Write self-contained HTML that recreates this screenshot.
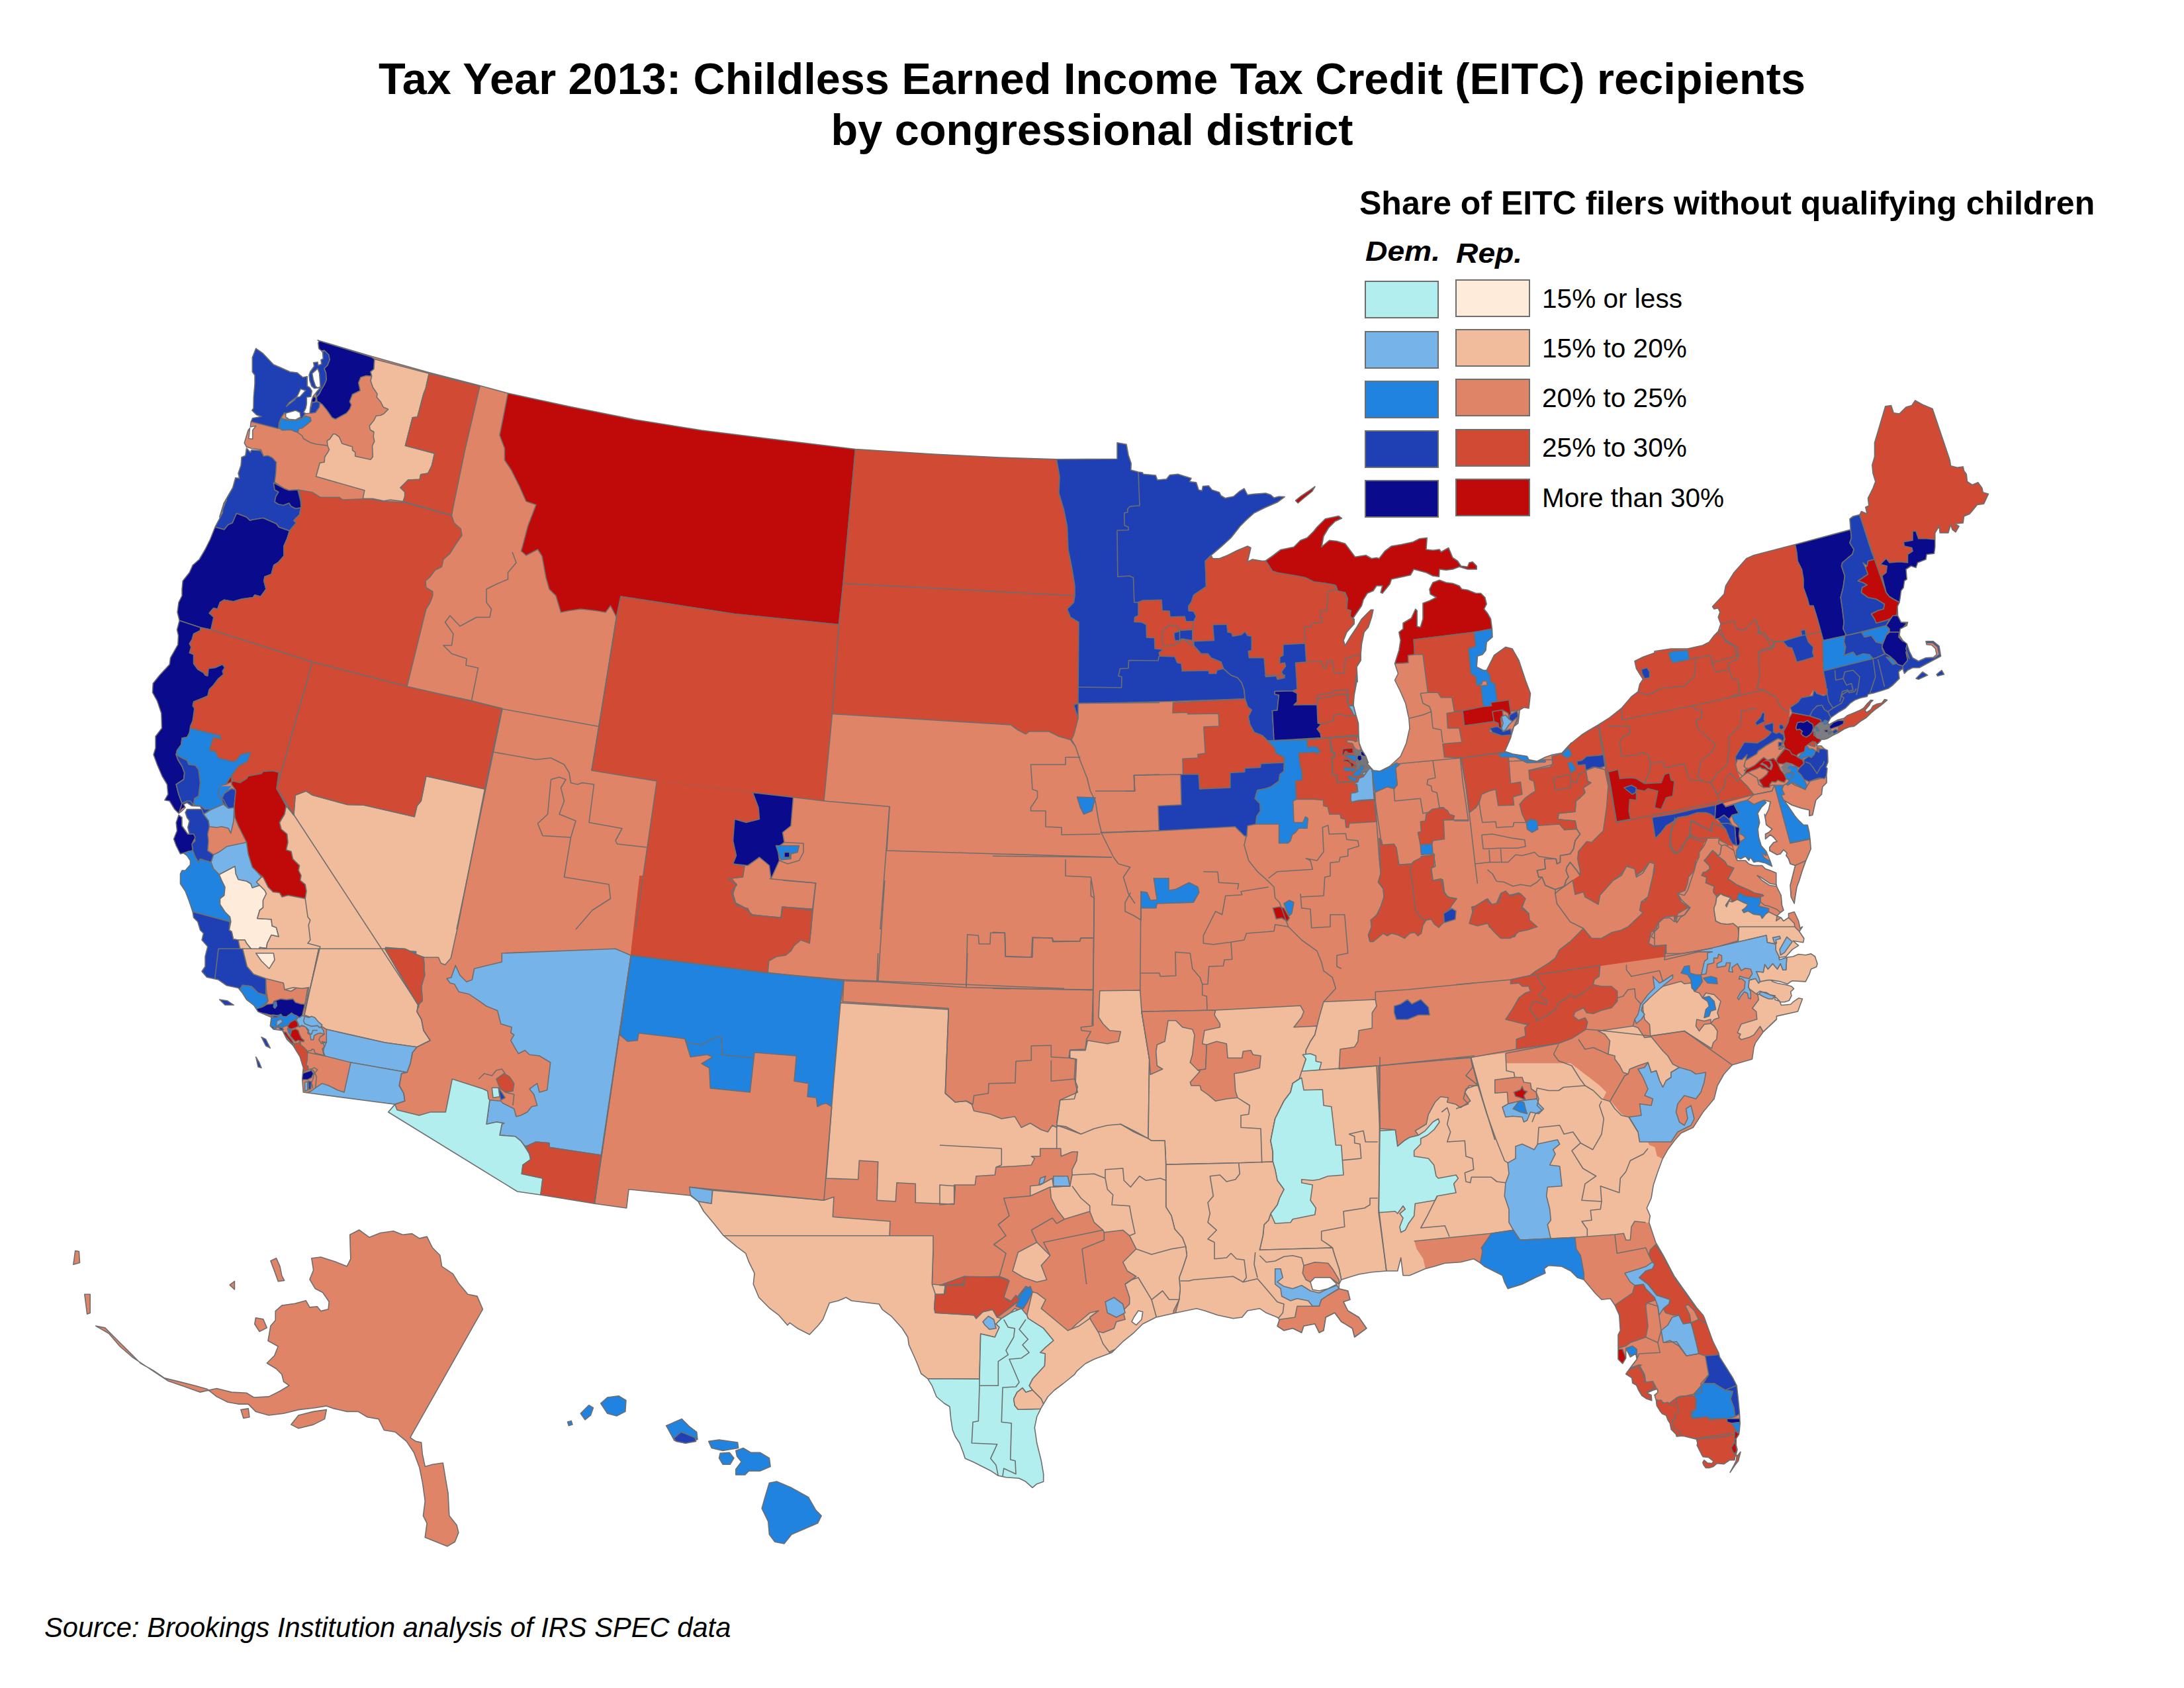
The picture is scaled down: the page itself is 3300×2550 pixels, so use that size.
<!DOCTYPE html>
<html><head><meta charset="utf-8"><title>EITC map</title>
<style>
html,body{margin:0;padding:0;background:#fff;}
body{width:3300px;height:2550px;position:relative;overflow:hidden;font-family:"Liberation Sans",sans-serif;color:#000;}
svg{position:absolute;left:0;top:0;}
.s{stroke:#6E6E6E;stroke-width:1.6;stroke-linejoin:round;}
.l{fill:none;stroke:#6E6E6E;stroke-width:1.6;stroke-linejoin:round;}
.t{position:absolute;white-space:nowrap;line-height:1;}
.title{font-weight:bold;font-size:66.67px;text-align:center;left:0;width:3300px;}
.lt{font-weight:bold;font-size:50px;}
.lh{font-weight:bold;font-style:italic;font-size:41.67px;transform:scaleX(1.11);transform-origin:0 0;}
.ll{font-size:40.6px;}
.sw{position:absolute;width:108.4px;height:53px;border:2px solid #6E6E6E;box-sizing:content-box;}
.src{font-style:italic;font-size:41.67px;}
</style></head><body>
<svg width="3300" height="2550" viewBox="0 0 3300 2550" xmlns="http://www.w3.org/2000/svg">
<defs><clipPath id="us"><polygon points="482.0,514.7 480.8,518.3 481.7,526.7 485.8,530.0 487.5,532.5 488.3,541.7 485.0,543.7 485.8,550.0 480.8,552.0 480.0,547.0 473.7,547.8 474.7,553.3 468.7,561.7 467.0,566.7 468.0,575.0 470.8,583.3 475.0,586.7 480.0,586.3 484.7,584.7 480.0,590.0 476.7,594.2 473.3,598.3 471.3,603.3 470.0,610.0 468.7,616.7 468.0,624.2 462.0,624.7 458.7,623.0 462.0,616.7 463.3,610.0 463.3,600.0 469.7,599.2 471.3,590.8 468.3,585.8 464.3,583.3 464.2,568.7 457.5,570.0 449.2,563.0 438.3,561.7 423.3,555.0 413.3,550.8 396.7,533.3 386.7,526.3 381.3,540.0 381.3,561.7 385.0,566.7 385.0,580.0 383.3,600.0 383.0,616.7 380.8,620.0 383.3,622.5 387.5,626.7 395.0,629.2 381.7,631.7 379.2,637.0 378.3,645.0 386.7,643.3 381.7,650.0 381.7,663.3 375.8,662.5 377.5,646.7 375.0,650.0 369.2,669.2 372.5,675.0 380.0,677.5 394.2,679.2 396.7,685.8 394.2,680.8 380.0,679.7 378.3,683.3 372.5,677.0 370.8,688.3 365.0,690.8 364.2,702.5 360.0,715.0 361.7,722.5 355.8,721.7 351.7,736.7 338.3,760.0 331.7,781.0 342.5,755.0 337.0,765.0 336.2,775.0 325.0,796.2 317.5,815.0 310.0,830.0 301.2,845.0 291.2,853.8 286.2,865.0 276.2,877.5 275.0,890.0 275.0,900.0 270.0,910.0 268.0,925.0 271.2,937.5 267.5,951.2 269.5,960.0 268.8,973.8 257.5,993.8 256.2,1003.8 241.2,1020.0 231.2,1032.5 230.5,1046.2 237.5,1058.8 243.8,1077.5 244.5,1100.0 235.0,1112.5 235.0,1130.0 232.0,1140.0 237.5,1155.0 245.0,1172.5 252.5,1185.0 253.8,1200.0 248.8,1208.8 256.2,1210.0 263.8,1222.5 270.0,1228.8 275.0,1225.0 280.0,1220.0 277.5,1215.0 282.5,1212.5 286.2,1215.0 290.0,1217.5 302.5,1218.0 305.0,1222.5 282.5,1222.5 280.0,1227.5 282.5,1235.0 286.2,1240.0 283.8,1250.0 286.2,1260.0 283.8,1260.0 275.0,1247.5 275.0,1235.0 270.0,1231.2 266.2,1242.5 267.5,1255.0 262.5,1267.5 266.2,1277.5 272.5,1290.0 277.5,1288.8 282.5,1292.5 287.5,1300.0 287.5,1306.2 280.0,1315.0 275.0,1315.0 272.5,1320.0 272.5,1335.0 280.0,1346.2 286.2,1362.5 291.2,1377.5 292.5,1386.2 298.8,1392.5 302.5,1405.0 307.5,1410.0 305.0,1420.0 313.8,1430.0 310.0,1445.0 310.0,1460.0 305.0,1467.5 312.5,1476.2 330.0,1480.0 342.5,1488.8 360.0,1492.5 366.2,1500.0 372.5,1510.0 383.3,1518.3 390.0,1528.3 410.0,1536.7 408.3,1550.0 413.3,1555.0 426.7,1556.7 433.3,1570.0 443.3,1580.0 453.3,1596.7 458.3,1613.3 456.7,1630.0 458.3,1650.0 596.7,1668.3 586.7,1680.0 781.7,1800.0 816.7,1805.0 898.3,1818.3 946.7,1825.0 950.0,1796.7 1043.3,1806.0 1055.0,1815.0 1063.3,1830.0 1080.0,1850.0 1093.3,1866.7 1113.3,1883.3 1126.7,1893.3 1131.7,1906.7 1140.0,1923.3 1138.3,1940.0 1146.7,1960.0 1163.3,1976.7 1176.7,1986.7 1190.0,2002.0 1193.3,1998.3 1205.0,2006.7 1223.3,2016.0 1236.7,2001.7 1243.3,1993.3 1253.3,1968.3 1266.7,1965.0 1278.3,1960.0 1286.7,1965.0 1313.3,1968.3 1328.3,1970.0 1333.3,1978.3 1346.7,1988.3 1363.3,2006.7 1371.7,2020.0 1373.3,2031.7 1381.7,2050.0 1386.7,2061.7 1391.7,2075.0 1401.7,2082.7 1408.3,2093.3 1415.0,2110.0 1426.7,2120.0 1435.0,2125.0 1436.7,2143.3 1439.3,2160.0 1443.3,2170.0 1450.0,2180.0 1455.0,2193.3 1458.3,2203.3 1470.0,2208.3 1483.3,2215.0 1496.7,2221.7 1508.3,2229.3 1520.0,2231.7 1540.0,2233.3 1550.0,2238.3 1560.0,2247.3 1566.7,2241.7 1576.7,2238.3 1576.7,2226.7 1573.3,2206.7 1566.7,2180.0 1563.3,2156.7 1566.7,2140.0 1573.3,2126.7 1583.3,2110.0 1593.3,2100.0 1606.7,2090.0 1623.3,2076.7 1626.7,2071.7 1640.0,2060.0 1653.3,2053.3 1680.0,2043.3 1696.7,2026.7 1713.3,2013.3 1726.7,2000.0 1746.7,1990.0 1776.7,1983.3 1808.0,1976.7 1808.0,1976.7 1820.0,1980.0 1840.0,1986.7 1863.3,1991.7 1876.7,1990.0 1885.0,1980.0 1903.3,1976.7 1913.3,1983.3 1930.0,1990.0 1933.3,1993.3 1930.0,2003.3 1940.0,2010.0 1953.3,2006.7 1966.7,2013.3 1970.0,2003.3 1986.7,2000.0 1993.3,2013.3 2000.0,2010.0 2003.3,1990.0 2016.7,1983.3 2026.7,1996.7 2043.3,2006.7 2046.7,2020.0 2065.0,2006.7 2053.3,1990.0 2036.7,1980.0 2030.0,1966.7 2040.0,1963.3 2036.7,1950.0 2023.3,1946.7 2023.3,1940.0 2026.7,1933.3 2036.7,1930.0 2053.3,1925.0 2073.3,1921.7 2095.0,1920.0 2111.7,1920.0 2116.7,1900.0 2120.0,1926.7 2130.0,1926.7 2153.3,1916.7 2166.7,1913.3 2183.3,1908.3 2206.7,1906.7 2226.7,1901.7 2235.0,1906.7 2243.3,1913.3 2256.7,1920.0 2270.0,1926.7 2273.3,1936.7 2278.3,1946.7 2300.0,1940.0 2320.0,1930.0 2335.0,1923.3 2333.3,1916.7 2340.0,1911.7 2360.0,1913.3 2373.3,1920.0 2383.3,1930.0 2393.3,1933.3 2410.0,1953.3 2420.0,1963.3 2433.3,1961.7 2440.0,1971.7 2446.7,1986.7 2448.3,2010.0 2445.0,2016.7 2445.0,2053.3 2451.7,2060.0 2456.7,2051.7 2456.7,2036.7 2463.3,2050.0 2471.7,2045.0 2473.3,2053.3 2466.7,2061.7 2458.3,2073.3 2456.7,2075.8 2465.8,2081.7 2466.7,2089.2 2472.5,2092.5 2475.8,2100.0 2480.8,2108.3 2488.3,2113.3 2495.8,2115.8 2495.0,2107.5 2488.3,2104.2 2498.3,2100.0 2504.2,2098.3 2505.0,2103.3 2500.0,2107.5 2502.5,2115.8 2503.3,2123.3 2508.3,2131.7 2511.7,2135.8 2517.5,2138.3 2520.0,2145.0 2523.3,2150.0 2525.0,2159.2 2532.5,2166.7 2533.3,2170.0 2543.3,2169.2 2563.3,2174.2 2565.0,2180.0 2564.2,2183.3 2568.3,2191.7 2571.7,2198.3 2573.3,2200.8 2581.7,2201.7 2589.2,2207.5 2586.7,2210.8 2580.0,2210.0 2575.0,2205.8 2572.8,2209.2 2574.2,2213.3 2577.5,2217.5 2582.5,2217.5 2588.3,2215.8 2594.2,2210.8 2605.0,2211.7 2613.3,2205.8 2620.8,2205.8 2621.7,2200.0 2625.0,2199.2 2630.0,2193.3 2628.3,2200.0 2626.7,2206.7 2621.7,2213.3 2614.2,2224.2 2619.2,2215.0 2623.3,2206.7 2624.2,2200.0 2623.3,2196.7 2625.0,2190.0 2623.3,2183.3 2623.3,2173.3 2627.5,2166.7 2628.3,2160.0 2629.2,2150.0 2628.3,2133.3 2626.7,2116.7 2624.2,2093.3 2618.3,2081.7 2610.0,2068.3 2598.3,2050.0 2596.7,2043.3 2588.3,2026.7 2575.0,1990.0 2573.3,1986.7 2563.3,1975.0 2546.7,1951.7 2530.0,1928.3 2513.3,1896.7 2501.7,1876.7 2491.7,1846.7 2493.3,1836.7 2488.3,1825.0 2495.0,1810.0 2498.3,1790.0 2505.0,1770.0 2511.7,1751.7 2520.0,1736.7 2530.0,1723.3 2540.0,1711.7 2558.3,1703.3 2573.3,1680.0 2590.0,1660.0 2595.0,1640.0 2595.0,1640.0 2605.0,1622.5 2617.5,1608.8 2647.5,1600.0 2650.0,1582.5 2652.4,1575.4 2664.3,1558.8 2684.4,1539.8 2684.4,1535.1 2716.4,1528.0 2723.5,1509.0 2717.6,1507.8 2709.3,1513.7 2705.7,1517.3 2691.5,1518.5 2689.1,1512.6 2682.0,1510.2 2682.0,1504.3 2674.9,1503.1 2669.0,1499.5 2660.7,1498.3 2656.0,1503.1 2654.8,1500.7 2659.5,1497.2 2669.0,1500.7 2678.5,1504.3 2683.2,1506.6 2690.3,1513.7 2696.3,1513.7 2703.4,1511.4 2706.9,1504.3 2705.7,1498.3 2710.5,1493.6 2706.9,1490.0 2698.6,1487.7 2685.6,1485.3 2678.5,1482.9 2676.1,1480.6 2690.3,1482.9 2701.0,1486.5 2705.7,1482.9 2708.1,1481.8 2728.2,1482.9 2734.2,1471.1 2736.5,1464.0 2744.8,1460.4 2746.0,1455.7 2742.5,1445.0 2736.5,1440.9 2728.2,1442.7 2717.6,1441.5 2709.3,1445.0 2699.8,1446.2 2689.1,1449.8 2688.0,1446.8 2698.6,1445.0 2708.1,1434.4 2717.6,1428.4 2709.3,1421.3 2724.7,1423.7 2725.9,1417.8 2718.8,1407.1 2723.5,1400.0 2720.0,1402.5 2717.5,1391.2 2711.2,1377.5 2702.5,1380.0 2702.5,1386.2 2695.0,1391.2 2691.2,1386.2 2685.0,1383.8 2690.0,1378.8 2695.0,1375.0 2692.5,1367.5 2691.2,1352.5 2685.0,1340.0 2683.8,1336.2 2683.8,1318.8 2675.0,1315.0 2667.5,1312.5 2662.5,1307.5 2650.0,1307.5 2642.5,1305.0 2637.5,1300.0 2625.0,1300.0 2623.1,1292.5 2623.8,1295.0 2630.0,1297.5 2637.5,1293.8 2642.5,1300.0 2645.0,1295.0 2650.0,1302.5 2656.2,1301.2 2667.5,1303.8 2677.5,1308.8 2675.0,1301.2 2668.8,1286.2 2661.2,1277.5 2657.5,1265.0 2656.2,1252.5 2658.8,1242.5 2656.2,1230.0 2655.0,1230.0 2661.2,1220.0 2668.8,1212.5 2665.0,1208.8 2675.0,1211.2 2672.5,1222.5 2667.5,1232.5 2666.2,1230.0 2667.5,1237.5 2668.8,1246.2 2677.5,1252.5 2672.5,1257.5 2667.5,1260.0 2667.5,1267.5 2675.0,1261.2 2680.0,1265.0 2685.0,1271.2 2680.0,1272.5 2673.8,1280.0 2673.8,1285.0 2685.0,1291.2 2690.0,1290.0 2695.0,1283.8 2700.0,1288.8 2698.8,1292.5 2702.5,1297.5 2705.0,1305.0 2712.5,1307.5 2710.0,1317.5 2705.0,1337.5 2706.2,1355.0 2711.2,1365.0 2712.5,1355.0 2715.0,1340.0 2718.8,1330.0 2722.5,1317.5 2728.8,1300.0 2736.2,1282.5 2735.0,1267.5 2733.8,1257.5 2731.2,1246.2 2725.0,1246.2 2716.2,1237.5 2710.0,1230.0 2711.2,1231.2 2700.0,1215.0 2695.0,1208.8 2707.5,1216.2 2722.5,1221.2 2733.8,1223.8 2733.8,1232.5 2738.8,1231.2 2743.8,1208.8 2752.5,1200.0 2753.8,1188.8 2760.0,1182.5 2760.0,1173.8 2759.8,1171.9 2760.9,1160.9 2759.2,1158.7 2762.0,1151.0 2761.4,1133.4 2756.5,1131.2 2752.1,1126.8 2744.4,1126.8 2745.5,1124.6 2751.0,1119.1 2752.1,1116.9 2756.5,1116.9 2760.9,1115.8 2768.6,1111.4 2777.4,1107.0 2786.2,1101.5 2793.8,1098.2 2801.5,1097.1 2804.8,1094.9 2811.4,1089.5 2820.2,1084.0 2826.8,1077.4 2833.4,1071.9 2841.1,1066.4 2846.6,1062.0 2851.5,1057.6 2847.7,1056.5 2843.3,1062.0 2835.6,1063.6 2830.1,1066.4 2826.8,1071.9 2820.2,1076.3 2818.0,1073.0 2824.6,1065.3 2826.8,1060.9 2830.1,1058.1 2826.8,1057.6 2821.3,1063.1 2815.8,1069.7 2810.3,1073.0 2802.6,1076.3 2791.6,1080.7 2786.2,1085.1 2777.4,1087.3 2769.7,1091.1 2763.1,1094.9 2762.0,1091.6 2766.4,1084.0 2777.4,1076.3 2788.4,1069.7 2796.0,1062.0 2802.6,1057.6 2811.4,1054.3 2821.3,1052.1 2822.4,1048.8 2832.3,1046.6 2843.3,1043.3 2853.2,1040.0 2860.0,1035.0 2867.5,1027.5 2870.0,1025.0 2868.8,1015.0 2875.0,1010.0 2877.5,1017.5 2882.5,1012.5 2890.0,1008.8 2900.0,1008.8 2932.5,991.2 2930.0,976.2 2921.2,968.8 2910.0,968.8 2911.2,973.8 2918.8,974.5 2924.5,980.0 2926.2,988.8 2921.2,993.0 2910.0,993.8 2898.8,998.8 2890.0,993.8 2885.0,983.8 2881.2,972.5 2875.0,967.5 2870.0,960.0 2871.2,950.0 2881.2,945.0 2882.5,940.0 2872.5,940.0 2867.5,930.0 2867.0,916.2 2870.0,910.0 2871.2,902.5 2872.5,892.5 2876.2,887.5 2877.5,877.5 2881.2,875.0 2880.0,860.0 2887.5,855.0 2895.0,857.5 2897.5,850.0 2910.0,845.0 2911.2,837.5 2922.5,836.2 2923.8,826.2 2923.8,805.0 2930.0,795.0 2931.2,805.0 2943.8,805.0 2947.5,792.5 2950.0,800.0 2955.0,803.8 2960.0,795.0 2953.8,791.2 2966.2,790.0 2967.5,780.0 2976.2,776.2 2982.5,768.8 2987.5,762.5 2997.5,761.2 3004.5,746.2 2996.2,743.8 2995.0,737.5 2988.8,728.8 2980.0,732.5 2972.5,727.5 2971.2,716.2 2967.5,711.2 2966.2,705.0 2957.5,706.2 2947.5,703.8 2946.2,695.0 2920.0,617.5 2905.0,611.2 2893.8,605.0 2888.8,612.5 2880.0,615.0 2870.0,625.0 2861.2,623.8 2857.5,612.5 2848.8,613.8 2832.5,668.8 2832.5,690.0 2828.8,702.5 2830.0,715.0 2833.8,727.5 2830.0,737.5 2822.5,752.5 2823.8,763.8 2818.8,766.2 2821.2,776.2 2812.5,772.5 2810.0,777.5 2800.0,780.0 2795.0,783.8 2796.2,800.0 2712.5,822.5 2650.0,838.8 2638.8,843.8 2620.0,865.0 2607.5,885.0 2605.0,897.5 2587.5,916.2 2590.0,920.0 2596.2,918.8 2598.8,925.0 2596.2,932.5 2600.0,942.5 2596.2,953.8 2590.0,960.0 2582.5,970.0 2572.5,975.0 2550.0,980.0 2525.0,980.0 2500.0,983.8 2500.0,986.2 2482.5,992.5 2470.0,998.8 2472.5,1010.0 2482.5,1026.2 2477.5,1033.8 2475.0,1045.0 2465.0,1052.5 2450.0,1070.0 2432.5,1083.8 2415.0,1095.0 2400.0,1103.8 2390.0,1110.0 2375.0,1122.0 2373.8,1122.5 2360.0,1137.5 2346.2,1140.0 2335.0,1143.8 2322.5,1150.0 2310.0,1147.5 2307.5,1142.5 2285.0,1138.8 2273.8,1135.0 2282.5,1115.0 2283.8,1110.0 2287.5,1097.5 2293.8,1092.5 2295.0,1083.8 2296.2,1072.5 2302.5,1068.8 2310.0,1070.0 2311.2,1060.0 2312.5,1047.5 2305.0,1027.5 2295.0,997.5 2285.0,980.0 2275.0,977.5 2257.5,990.0 2246.2,1012.5 2241.2,1012.5 2231.2,1007.5 2232.5,991.2 2240.0,988.8 2245.0,982.5 2246.2,970.0 2255.0,962.5 2254.5,950.0 2252.5,935.0 2247.5,926.2 2242.5,920.0 2246.2,912.5 2243.8,902.5 2237.5,896.2 2230.0,896.2 2217.5,891.2 2208.8,890.0 2205.0,885.0 2195.0,881.2 2185.0,880.0 2175.0,876.2 2165.0,880.0 2160.0,890.0 2161.2,897.5 2170.0,902.5 2160.0,907.5 2150.0,911.2 2150.0,935.0 2146.2,947.5 2141.2,946.2 2141.2,922.5 2138.8,920.0 2132.5,933.8 2120.0,941.2 2120.0,950.0 2113.8,955.0 2116.2,967.5 2113.8,982.5 2107.5,1002.5 2112.5,1017.5 2107.5,1027.5 2115.0,1042.5 2123.8,1062.5 2128.8,1085.0 2130.0,1100.0 2125.0,1122.0 2125.0,1122.5 2116.2,1142.5 2100.0,1157.5 2085.0,1165.0 2075.0,1163.8 2065.0,1152.5 2067.5,1152.5 2063.8,1142.5 2057.5,1132.5 2053.8,1122.5 2053.0,1112.0 2052.5,1092.5 2048.8,1080.0 2045.0,1065.0 2046.2,1050.0 2050.0,1030.0 2048.8,1020.0 2051.2,1030.0 2050.0,1007.5 2056.2,997.5 2056.2,987.5 2057.5,972.5 2061.2,955.0 2067.5,947.5 2072.5,932.5 2075.0,921.2 2071.2,921.2 2065.0,927.5 2057.5,935.0 2050.0,947.5 2040.0,962.5 2032.5,975.0 2030.0,967.5 2035.0,955.0 2046.2,942.5 2046.2,935.0 2043.8,935.0 2057.5,915.0 2060.0,906.2 2066.2,896.2 2075.0,892.5 2080.0,885.0 2088.8,885.0 2086.2,895.0 2088.8,896.2 2100.0,882.5 2102.5,875.0 2120.0,871.2 2131.2,868.8 2136.2,860.0 2155.0,865.0 2165.0,870.0 2174.5,871.2 2175.0,860.0 2185.0,861.2 2195.0,860.0 2205.0,856.2 2217.5,860.0 2231.2,860.0 2231.2,855.0 2225.0,848.8 2220.0,850.0 2217.5,856.2 2207.5,855.0 2202.5,847.5 2195.0,842.5 2188.8,827.5 2177.5,833.8 2175.0,830.0 2165.0,831.2 2155.0,830.0 2156.2,812.5 2145.0,813.8 2135.0,818.8 2117.5,822.5 2102.5,825.0 2092.5,832.5 2083.8,843.8 2080.0,842.5 2072.5,843.8 2063.8,838.8 2047.5,841.2 2032.5,821.2 2020.0,817.5 2008.8,816.2 1997.0,826.2 2000.0,810.0 2007.5,797.5 2017.5,787.5 2027.5,783.0 2022.5,779.5 2002.5,783.8 1990.0,796.2 1985.0,802.5 1975.0,812.5 1965.0,816.2 1955.0,826.2 1935.0,830.5 1922.5,840.0 1912.5,847.0 1907.5,847.5 1892.5,845.0 1885.0,848.8 1890.0,827.5 1885.0,825.0 1870.0,831.2 1855.0,838.8 1842.5,843.8 1832.5,843.8 1830.0,838.8 1845.0,826.2 1860.0,812.5 1873.8,795.0 1882.5,786.2 1895.0,775.0 1910.0,767.5 1930.0,758.8 1941.2,750.5 1932.5,750.0 1925.0,752.0 1920.0,747.5 1912.5,745.0 1895.0,746.2 1885.0,747.5 1880.0,738.0 1872.5,742.5 1863.8,750.0 1851.2,752.5 1845.0,748.8 1842.5,743.8 1831.2,740.0 1826.2,733.8 1817.5,734.5 1816.2,741.2 1811.2,740.0 1807.5,728.8 1797.5,727.5 1800.0,722.5 1790.0,719.5 1780.0,716.2 1767.5,717.5 1762.5,723.8 1748.8,725.0 1746.2,718.0 1727.5,716.2 1726.2,713.8 1720.0,713.0 1708.8,710.0 1709.2,700.0 1705.0,687.5 1702.0,671.2 1688.0,668.8 1688.0,693.2 1596.2,693.8 1510.0,691.0 1410.0,686.0 1292.5,678.5 1160.0,662.5 1060.0,650.0 960.0,634.0 860.0,614.0 767.5,594.0 725.0,582.5 647.5,562.5 564.0,539.0 480.0,514.0"/></clipPath></defs>
<polygon fill="#E08468" points="482.0,514.7 480.8,518.3 481.7,526.7 485.8,530.0 487.5,532.5 488.3,541.7 485.0,543.7 485.8,550.0 480.8,552.0 480.0,547.0 473.7,547.8 474.7,553.3 468.7,561.7 467.0,566.7 468.0,575.0 470.8,583.3 475.0,586.7 480.0,586.3 484.7,584.7 480.0,590.0 476.7,594.2 473.3,598.3 471.3,603.3 470.0,610.0 468.7,616.7 468.0,624.2 462.0,624.7 458.7,623.0 462.0,616.7 463.3,610.0 463.3,600.0 469.7,599.2 471.3,590.8 468.3,585.8 464.3,583.3 464.2,568.7 457.5,570.0 449.2,563.0 438.3,561.7 423.3,555.0 413.3,550.8 396.7,533.3 386.7,526.3 381.3,540.0 381.3,561.7 385.0,566.7 385.0,580.0 383.3,600.0 383.0,616.7 380.8,620.0 383.3,622.5 387.5,626.7 395.0,629.2 381.7,631.7 379.2,637.0 378.3,645.0 386.7,643.3 381.7,650.0 381.7,663.3 375.8,662.5 377.5,646.7 375.0,650.0 369.2,669.2 372.5,675.0 380.0,677.5 394.2,679.2 396.7,685.8 394.2,680.8 380.0,679.7 378.3,683.3 372.5,677.0 370.8,688.3 365.0,690.8 364.2,702.5 360.0,715.0 361.7,722.5 355.8,721.7 351.7,736.7 338.3,760.0 331.7,781.0 342.5,755.0 337.0,765.0 336.2,775.0 325.0,796.2 317.5,815.0 310.0,830.0 301.2,845.0 291.2,853.8 286.2,865.0 276.2,877.5 275.0,890.0 275.0,900.0 270.0,910.0 268.0,925.0 271.2,937.5 267.5,951.2 269.5,960.0 268.8,973.8 257.5,993.8 256.2,1003.8 241.2,1020.0 231.2,1032.5 230.5,1046.2 237.5,1058.8 243.8,1077.5 244.5,1100.0 235.0,1112.5 235.0,1130.0 232.0,1140.0 237.5,1155.0 245.0,1172.5 252.5,1185.0 253.8,1200.0 248.8,1208.8 256.2,1210.0 263.8,1222.5 270.0,1228.8 275.0,1225.0 280.0,1220.0 277.5,1215.0 282.5,1212.5 286.2,1215.0 290.0,1217.5 302.5,1218.0 305.0,1222.5 282.5,1222.5 280.0,1227.5 282.5,1235.0 286.2,1240.0 283.8,1250.0 286.2,1260.0 283.8,1260.0 275.0,1247.5 275.0,1235.0 270.0,1231.2 266.2,1242.5 267.5,1255.0 262.5,1267.5 266.2,1277.5 272.5,1290.0 277.5,1288.8 282.5,1292.5 287.5,1300.0 287.5,1306.2 280.0,1315.0 275.0,1315.0 272.5,1320.0 272.5,1335.0 280.0,1346.2 286.2,1362.5 291.2,1377.5 292.5,1386.2 298.8,1392.5 302.5,1405.0 307.5,1410.0 305.0,1420.0 313.8,1430.0 310.0,1445.0 310.0,1460.0 305.0,1467.5 312.5,1476.2 330.0,1480.0 342.5,1488.8 360.0,1492.5 366.2,1500.0 372.5,1510.0 383.3,1518.3 390.0,1528.3 410.0,1536.7 408.3,1550.0 413.3,1555.0 426.7,1556.7 433.3,1570.0 443.3,1580.0 453.3,1596.7 458.3,1613.3 456.7,1630.0 458.3,1650.0 596.7,1668.3 586.7,1680.0 781.7,1800.0 816.7,1805.0 898.3,1818.3 946.7,1825.0 950.0,1796.7 1043.3,1806.0 1055.0,1815.0 1063.3,1830.0 1080.0,1850.0 1093.3,1866.7 1113.3,1883.3 1126.7,1893.3 1131.7,1906.7 1140.0,1923.3 1138.3,1940.0 1146.7,1960.0 1163.3,1976.7 1176.7,1986.7 1190.0,2002.0 1193.3,1998.3 1205.0,2006.7 1223.3,2016.0 1236.7,2001.7 1243.3,1993.3 1253.3,1968.3 1266.7,1965.0 1278.3,1960.0 1286.7,1965.0 1313.3,1968.3 1328.3,1970.0 1333.3,1978.3 1346.7,1988.3 1363.3,2006.7 1371.7,2020.0 1373.3,2031.7 1381.7,2050.0 1386.7,2061.7 1391.7,2075.0 1401.7,2082.7 1408.3,2093.3 1415.0,2110.0 1426.7,2120.0 1435.0,2125.0 1436.7,2143.3 1439.3,2160.0 1443.3,2170.0 1450.0,2180.0 1455.0,2193.3 1458.3,2203.3 1470.0,2208.3 1483.3,2215.0 1496.7,2221.7 1508.3,2229.3 1520.0,2231.7 1540.0,2233.3 1550.0,2238.3 1560.0,2247.3 1566.7,2241.7 1576.7,2238.3 1576.7,2226.7 1573.3,2206.7 1566.7,2180.0 1563.3,2156.7 1566.7,2140.0 1573.3,2126.7 1583.3,2110.0 1593.3,2100.0 1606.7,2090.0 1623.3,2076.7 1626.7,2071.7 1640.0,2060.0 1653.3,2053.3 1680.0,2043.3 1696.7,2026.7 1713.3,2013.3 1726.7,2000.0 1746.7,1990.0 1776.7,1983.3 1808.0,1976.7 1808.0,1976.7 1820.0,1980.0 1840.0,1986.7 1863.3,1991.7 1876.7,1990.0 1885.0,1980.0 1903.3,1976.7 1913.3,1983.3 1930.0,1990.0 1933.3,1993.3 1930.0,2003.3 1940.0,2010.0 1953.3,2006.7 1966.7,2013.3 1970.0,2003.3 1986.7,2000.0 1993.3,2013.3 2000.0,2010.0 2003.3,1990.0 2016.7,1983.3 2026.7,1996.7 2043.3,2006.7 2046.7,2020.0 2065.0,2006.7 2053.3,1990.0 2036.7,1980.0 2030.0,1966.7 2040.0,1963.3 2036.7,1950.0 2023.3,1946.7 2023.3,1940.0 2026.7,1933.3 2036.7,1930.0 2053.3,1925.0 2073.3,1921.7 2095.0,1920.0 2111.7,1920.0 2116.7,1900.0 2120.0,1926.7 2130.0,1926.7 2153.3,1916.7 2166.7,1913.3 2183.3,1908.3 2206.7,1906.7 2226.7,1901.7 2235.0,1906.7 2243.3,1913.3 2256.7,1920.0 2270.0,1926.7 2273.3,1936.7 2278.3,1946.7 2300.0,1940.0 2320.0,1930.0 2335.0,1923.3 2333.3,1916.7 2340.0,1911.7 2360.0,1913.3 2373.3,1920.0 2383.3,1930.0 2393.3,1933.3 2410.0,1953.3 2420.0,1963.3 2433.3,1961.7 2440.0,1971.7 2446.7,1986.7 2448.3,2010.0 2445.0,2016.7 2445.0,2053.3 2451.7,2060.0 2456.7,2051.7 2456.7,2036.7 2463.3,2050.0 2471.7,2045.0 2473.3,2053.3 2466.7,2061.7 2458.3,2073.3 2456.7,2075.8 2465.8,2081.7 2466.7,2089.2 2472.5,2092.5 2475.8,2100.0 2480.8,2108.3 2488.3,2113.3 2495.8,2115.8 2495.0,2107.5 2488.3,2104.2 2498.3,2100.0 2504.2,2098.3 2505.0,2103.3 2500.0,2107.5 2502.5,2115.8 2503.3,2123.3 2508.3,2131.7 2511.7,2135.8 2517.5,2138.3 2520.0,2145.0 2523.3,2150.0 2525.0,2159.2 2532.5,2166.7 2533.3,2170.0 2543.3,2169.2 2563.3,2174.2 2565.0,2180.0 2564.2,2183.3 2568.3,2191.7 2571.7,2198.3 2573.3,2200.8 2581.7,2201.7 2589.2,2207.5 2586.7,2210.8 2580.0,2210.0 2575.0,2205.8 2572.8,2209.2 2574.2,2213.3 2577.5,2217.5 2582.5,2217.5 2588.3,2215.8 2594.2,2210.8 2605.0,2211.7 2613.3,2205.8 2620.8,2205.8 2621.7,2200.0 2625.0,2199.2 2630.0,2193.3 2628.3,2200.0 2626.7,2206.7 2621.7,2213.3 2614.2,2224.2 2619.2,2215.0 2623.3,2206.7 2624.2,2200.0 2623.3,2196.7 2625.0,2190.0 2623.3,2183.3 2623.3,2173.3 2627.5,2166.7 2628.3,2160.0 2629.2,2150.0 2628.3,2133.3 2626.7,2116.7 2624.2,2093.3 2618.3,2081.7 2610.0,2068.3 2598.3,2050.0 2596.7,2043.3 2588.3,2026.7 2575.0,1990.0 2573.3,1986.7 2563.3,1975.0 2546.7,1951.7 2530.0,1928.3 2513.3,1896.7 2501.7,1876.7 2491.7,1846.7 2493.3,1836.7 2488.3,1825.0 2495.0,1810.0 2498.3,1790.0 2505.0,1770.0 2511.7,1751.7 2520.0,1736.7 2530.0,1723.3 2540.0,1711.7 2558.3,1703.3 2573.3,1680.0 2590.0,1660.0 2595.0,1640.0 2595.0,1640.0 2605.0,1622.5 2617.5,1608.8 2647.5,1600.0 2650.0,1582.5 2652.4,1575.4 2664.3,1558.8 2684.4,1539.8 2684.4,1535.1 2716.4,1528.0 2723.5,1509.0 2717.6,1507.8 2709.3,1513.7 2705.7,1517.3 2691.5,1518.5 2689.1,1512.6 2682.0,1510.2 2682.0,1504.3 2674.9,1503.1 2669.0,1499.5 2660.7,1498.3 2656.0,1503.1 2654.8,1500.7 2659.5,1497.2 2669.0,1500.7 2678.5,1504.3 2683.2,1506.6 2690.3,1513.7 2696.3,1513.7 2703.4,1511.4 2706.9,1504.3 2705.7,1498.3 2710.5,1493.6 2706.9,1490.0 2698.6,1487.7 2685.6,1485.3 2678.5,1482.9 2676.1,1480.6 2690.3,1482.9 2701.0,1486.5 2705.7,1482.9 2708.1,1481.8 2728.2,1482.9 2734.2,1471.1 2736.5,1464.0 2744.8,1460.4 2746.0,1455.7 2742.5,1445.0 2736.5,1440.9 2728.2,1442.7 2717.6,1441.5 2709.3,1445.0 2699.8,1446.2 2689.1,1449.8 2688.0,1446.8 2698.6,1445.0 2708.1,1434.4 2717.6,1428.4 2709.3,1421.3 2724.7,1423.7 2725.9,1417.8 2718.8,1407.1 2723.5,1400.0 2720.0,1402.5 2717.5,1391.2 2711.2,1377.5 2702.5,1380.0 2702.5,1386.2 2695.0,1391.2 2691.2,1386.2 2685.0,1383.8 2690.0,1378.8 2695.0,1375.0 2692.5,1367.5 2691.2,1352.5 2685.0,1340.0 2683.8,1336.2 2683.8,1318.8 2675.0,1315.0 2667.5,1312.5 2662.5,1307.5 2650.0,1307.5 2642.5,1305.0 2637.5,1300.0 2625.0,1300.0 2623.1,1292.5 2623.8,1295.0 2630.0,1297.5 2637.5,1293.8 2642.5,1300.0 2645.0,1295.0 2650.0,1302.5 2656.2,1301.2 2667.5,1303.8 2677.5,1308.8 2675.0,1301.2 2668.8,1286.2 2661.2,1277.5 2657.5,1265.0 2656.2,1252.5 2658.8,1242.5 2656.2,1230.0 2655.0,1230.0 2661.2,1220.0 2668.8,1212.5 2665.0,1208.8 2675.0,1211.2 2672.5,1222.5 2667.5,1232.5 2666.2,1230.0 2667.5,1237.5 2668.8,1246.2 2677.5,1252.5 2672.5,1257.5 2667.5,1260.0 2667.5,1267.5 2675.0,1261.2 2680.0,1265.0 2685.0,1271.2 2680.0,1272.5 2673.8,1280.0 2673.8,1285.0 2685.0,1291.2 2690.0,1290.0 2695.0,1283.8 2700.0,1288.8 2698.8,1292.5 2702.5,1297.5 2705.0,1305.0 2712.5,1307.5 2710.0,1317.5 2705.0,1337.5 2706.2,1355.0 2711.2,1365.0 2712.5,1355.0 2715.0,1340.0 2718.8,1330.0 2722.5,1317.5 2728.8,1300.0 2736.2,1282.5 2735.0,1267.5 2733.8,1257.5 2731.2,1246.2 2725.0,1246.2 2716.2,1237.5 2710.0,1230.0 2711.2,1231.2 2700.0,1215.0 2695.0,1208.8 2707.5,1216.2 2722.5,1221.2 2733.8,1223.8 2733.8,1232.5 2738.8,1231.2 2743.8,1208.8 2752.5,1200.0 2753.8,1188.8 2760.0,1182.5 2760.0,1173.8 2759.8,1171.9 2760.9,1160.9 2759.2,1158.7 2762.0,1151.0 2761.4,1133.4 2756.5,1131.2 2752.1,1126.8 2744.4,1126.8 2745.5,1124.6 2751.0,1119.1 2752.1,1116.9 2756.5,1116.9 2760.9,1115.8 2768.6,1111.4 2777.4,1107.0 2786.2,1101.5 2793.8,1098.2 2801.5,1097.1 2804.8,1094.9 2811.4,1089.5 2820.2,1084.0 2826.8,1077.4 2833.4,1071.9 2841.1,1066.4 2846.6,1062.0 2851.5,1057.6 2847.7,1056.5 2843.3,1062.0 2835.6,1063.6 2830.1,1066.4 2826.8,1071.9 2820.2,1076.3 2818.0,1073.0 2824.6,1065.3 2826.8,1060.9 2830.1,1058.1 2826.8,1057.6 2821.3,1063.1 2815.8,1069.7 2810.3,1073.0 2802.6,1076.3 2791.6,1080.7 2786.2,1085.1 2777.4,1087.3 2769.7,1091.1 2763.1,1094.9 2762.0,1091.6 2766.4,1084.0 2777.4,1076.3 2788.4,1069.7 2796.0,1062.0 2802.6,1057.6 2811.4,1054.3 2821.3,1052.1 2822.4,1048.8 2832.3,1046.6 2843.3,1043.3 2853.2,1040.0 2860.0,1035.0 2867.5,1027.5 2870.0,1025.0 2868.8,1015.0 2875.0,1010.0 2877.5,1017.5 2882.5,1012.5 2890.0,1008.8 2900.0,1008.8 2932.5,991.2 2930.0,976.2 2921.2,968.8 2910.0,968.8 2911.2,973.8 2918.8,974.5 2924.5,980.0 2926.2,988.8 2921.2,993.0 2910.0,993.8 2898.8,998.8 2890.0,993.8 2885.0,983.8 2881.2,972.5 2875.0,967.5 2870.0,960.0 2871.2,950.0 2881.2,945.0 2882.5,940.0 2872.5,940.0 2867.5,930.0 2867.0,916.2 2870.0,910.0 2871.2,902.5 2872.5,892.5 2876.2,887.5 2877.5,877.5 2881.2,875.0 2880.0,860.0 2887.5,855.0 2895.0,857.5 2897.5,850.0 2910.0,845.0 2911.2,837.5 2922.5,836.2 2923.8,826.2 2923.8,805.0 2930.0,795.0 2931.2,805.0 2943.8,805.0 2947.5,792.5 2950.0,800.0 2955.0,803.8 2960.0,795.0 2953.8,791.2 2966.2,790.0 2967.5,780.0 2976.2,776.2 2982.5,768.8 2987.5,762.5 2997.5,761.2 3004.5,746.2 2996.2,743.8 2995.0,737.5 2988.8,728.8 2980.0,732.5 2972.5,727.5 2971.2,716.2 2967.5,711.2 2966.2,705.0 2957.5,706.2 2947.5,703.8 2946.2,695.0 2920.0,617.5 2905.0,611.2 2893.8,605.0 2888.8,612.5 2880.0,615.0 2870.0,625.0 2861.2,623.8 2857.5,612.5 2848.8,613.8 2832.5,668.8 2832.5,690.0 2828.8,702.5 2830.0,715.0 2833.8,727.5 2830.0,737.5 2822.5,752.5 2823.8,763.8 2818.8,766.2 2821.2,776.2 2812.5,772.5 2810.0,777.5 2800.0,780.0 2795.0,783.8 2796.2,800.0 2712.5,822.5 2650.0,838.8 2638.8,843.8 2620.0,865.0 2607.5,885.0 2605.0,897.5 2587.5,916.2 2590.0,920.0 2596.2,918.8 2598.8,925.0 2596.2,932.5 2600.0,942.5 2596.2,953.8 2590.0,960.0 2582.5,970.0 2572.5,975.0 2550.0,980.0 2525.0,980.0 2500.0,983.8 2500.0,986.2 2482.5,992.5 2470.0,998.8 2472.5,1010.0 2482.5,1026.2 2477.5,1033.8 2475.0,1045.0 2465.0,1052.5 2450.0,1070.0 2432.5,1083.8 2415.0,1095.0 2400.0,1103.8 2390.0,1110.0 2375.0,1122.0 2373.8,1122.5 2360.0,1137.5 2346.2,1140.0 2335.0,1143.8 2322.5,1150.0 2310.0,1147.5 2307.5,1142.5 2285.0,1138.8 2273.8,1135.0 2282.5,1115.0 2283.8,1110.0 2287.5,1097.5 2293.8,1092.5 2295.0,1083.8 2296.2,1072.5 2302.5,1068.8 2310.0,1070.0 2311.2,1060.0 2312.5,1047.5 2305.0,1027.5 2295.0,997.5 2285.0,980.0 2275.0,977.5 2257.5,990.0 2246.2,1012.5 2241.2,1012.5 2231.2,1007.5 2232.5,991.2 2240.0,988.8 2245.0,982.5 2246.2,970.0 2255.0,962.5 2254.5,950.0 2252.5,935.0 2247.5,926.2 2242.5,920.0 2246.2,912.5 2243.8,902.5 2237.5,896.2 2230.0,896.2 2217.5,891.2 2208.8,890.0 2205.0,885.0 2195.0,881.2 2185.0,880.0 2175.0,876.2 2165.0,880.0 2160.0,890.0 2161.2,897.5 2170.0,902.5 2160.0,907.5 2150.0,911.2 2150.0,935.0 2146.2,947.5 2141.2,946.2 2141.2,922.5 2138.8,920.0 2132.5,933.8 2120.0,941.2 2120.0,950.0 2113.8,955.0 2116.2,967.5 2113.8,982.5 2107.5,1002.5 2112.5,1017.5 2107.5,1027.5 2115.0,1042.5 2123.8,1062.5 2128.8,1085.0 2130.0,1100.0 2125.0,1122.0 2125.0,1122.5 2116.2,1142.5 2100.0,1157.5 2085.0,1165.0 2075.0,1163.8 2065.0,1152.5 2067.5,1152.5 2063.8,1142.5 2057.5,1132.5 2053.8,1122.5 2053.0,1112.0 2052.5,1092.5 2048.8,1080.0 2045.0,1065.0 2046.2,1050.0 2050.0,1030.0 2048.8,1020.0 2051.2,1030.0 2050.0,1007.5 2056.2,997.5 2056.2,987.5 2057.5,972.5 2061.2,955.0 2067.5,947.5 2072.5,932.5 2075.0,921.2 2071.2,921.2 2065.0,927.5 2057.5,935.0 2050.0,947.5 2040.0,962.5 2032.5,975.0 2030.0,967.5 2035.0,955.0 2046.2,942.5 2046.2,935.0 2043.8,935.0 2057.5,915.0 2060.0,906.2 2066.2,896.2 2075.0,892.5 2080.0,885.0 2088.8,885.0 2086.2,895.0 2088.8,896.2 2100.0,882.5 2102.5,875.0 2120.0,871.2 2131.2,868.8 2136.2,860.0 2155.0,865.0 2165.0,870.0 2174.5,871.2 2175.0,860.0 2185.0,861.2 2195.0,860.0 2205.0,856.2 2217.5,860.0 2231.2,860.0 2231.2,855.0 2225.0,848.8 2220.0,850.0 2217.5,856.2 2207.5,855.0 2202.5,847.5 2195.0,842.5 2188.8,827.5 2177.5,833.8 2175.0,830.0 2165.0,831.2 2155.0,830.0 2156.2,812.5 2145.0,813.8 2135.0,818.8 2117.5,822.5 2102.5,825.0 2092.5,832.5 2083.8,843.8 2080.0,842.5 2072.5,843.8 2063.8,838.8 2047.5,841.2 2032.5,821.2 2020.0,817.5 2008.8,816.2 1997.0,826.2 2000.0,810.0 2007.5,797.5 2017.5,787.5 2027.5,783.0 2022.5,779.5 2002.5,783.8 1990.0,796.2 1985.0,802.5 1975.0,812.5 1965.0,816.2 1955.0,826.2 1935.0,830.5 1922.5,840.0 1912.5,847.0 1907.5,847.5 1892.5,845.0 1885.0,848.8 1890.0,827.5 1885.0,825.0 1870.0,831.2 1855.0,838.8 1842.5,843.8 1832.5,843.8 1830.0,838.8 1845.0,826.2 1860.0,812.5 1873.8,795.0 1882.5,786.2 1895.0,775.0 1910.0,767.5 1930.0,758.8 1941.2,750.5 1932.5,750.0 1925.0,752.0 1920.0,747.5 1912.5,745.0 1895.0,746.2 1885.0,747.5 1880.0,738.0 1872.5,742.5 1863.8,750.0 1851.2,752.5 1845.0,748.8 1842.5,743.8 1831.2,740.0 1826.2,733.8 1817.5,734.5 1816.2,741.2 1811.2,740.0 1807.5,728.8 1797.5,727.5 1800.0,722.5 1790.0,719.5 1780.0,716.2 1767.5,717.5 1762.5,723.8 1748.8,725.0 1746.2,718.0 1727.5,716.2 1726.2,713.8 1720.0,713.0 1708.8,710.0 1709.2,700.0 1705.0,687.5 1702.0,671.2 1688.0,668.8 1688.0,693.2 1596.2,693.8 1510.0,691.0 1410.0,686.0 1292.5,678.5 1160.0,662.5 1060.0,650.0 960.0,634.0 860.0,614.0 767.5,594.0 725.0,582.5 647.5,562.5 564.0,539.0 480.0,514.0"/>
<g clip-path="url(#us)">
<polygon fill="#F0BC9C" stroke="#F0BC9C" stroke-width="1" points="2222.5,1597.5 2275.0,1591.2 2276.2,1617.5 2287.5,1620.0 2288.8,1627.5 2258.8,1631.2 2258.8,1651.2 2277.5,1650.0 2278.8,1667.5 2270.0,1672.5 2261.2,1671.2 2260.0,1677.5 2247.5,1682.5 2258.8,1722.0 2195.0,1722.0 2195.0,1675.0 2218.8,1667.5 2211.2,1660.0 2215.0,1645.0 2232.5,1638.8 2215.0,1625.0 2225.0,1612.5"/>
<polygon fill="#F0BC9C" stroke="#F0BC9C" stroke-width="1" points="2315.0,1695.0 2320.0,1682.5 2330.0,1677.5 2322.5,1670.0 2325.0,1660.0 2321.2,1650.0 2322.5,1643.8 2340.0,1647.5 2355.0,1647.5 2362.5,1642.5 2395.0,1640.0 2407.5,1647.5 2420.0,1660.0 2432.5,1663.8 2440.0,1675.0 2450.0,1685.0 2461.2,1687.5 2475.0,1710.0 2477.5,1725.0 2325.0,1725.0 2320.0,1705.0"/>
<polygon fill="#F0BC9C" stroke="#F0BC9C" stroke-width="1" points="2085.0,1640.0 2233.3,1640.0 2246.7,1683.3 2260.0,1720.0 2273.3,1753.3 2278.3,1756.7 2280.0,1773.3 2275.0,1786.7 2273.3,1806.7 2280.0,1826.7 2280.0,1846.7 2286.7,1858.3 2253.3,1863.3 2136.7,1875.0 2140.0,1886.7 2150.0,1901.7 2153.3,1916.7 2153.3,1940.0 2095.0,1940.0 2083.3,1826.7 2083.3,1611.3 2222.3,1597.3"/>
<polygon fill="#F0BC9C" stroke="#F0BC9C" stroke-width="1" points="2233.3,1640.0 2246.7,1683.3 2260.0,1720.0 2273.3,1753.3 2278.3,1756.7 2280.0,1773.3 2275.0,1786.7 2273.3,1806.7 2280.0,1826.7 2280.0,1846.7 2286.7,1858.3 2296.7,1873.3 2380.0,1869.3 2440.0,1865.0 2453.3,1863.3 2456.7,1873.3 2463.3,1873.3 2465.0,1853.3 2470.0,1845.0 2486.7,1846.7 2513.3,1846.7 2513.3,1751.7 2503.3,1746.7 2500.0,1733.3 2491.7,1730.0 2483.3,1713.3 2473.3,1706.7 2470.0,1695.0 2461.7,1690.0 2450.0,1683.3 2433.3,1663.3 2420.0,1663.3 2426.7,1650.0 2416.7,1640.0 2373.3,1606.7 2226.7,1606.7"/>
<polygon fill="#2083E0" stroke="#2083E0" stroke-width="1" points="328.6,1188.1 349.4,1188.1 339.0,1197.6 334.3,1207.1 338.1,1215.6 336.2,1215.6 330.5,1200.4"/>
<polygon class="s" fill="#1E40B4" points="340.9,1195.7 348.5,1191.9 357.0,1193.8 355.1,1209.0 353.2,1219.4 340.9,1221.3 339.0,1215.6 333.3,1208.0 337.1,1206.1 340.0,1200.4"/>
<polygon fill="#1E40B4" stroke="#1E40B4" stroke-width="1" points="274.5,1212.7 283.1,1209.0 287.8,1209.0 291.6,1215.6 288.8,1217.5 282.1,1213.7 277.4,1215.6"/>
<polygon fill="#0A0A8C" stroke="#0A0A8C" stroke-width="1" points="269.8,1227.9 274.5,1212.7 277.4,1215.6 279.3,1218.4 274.5,1221.3"/>
<polygon fill="#1E40B4" stroke="#1E40B4" stroke-width="1" points="303.9,1218.4 308.7,1223.2 317.2,1222.2 308.7,1228.9 305.8,1224.1"/>
<polygon class="s" fill="#1E40B4" points="386.7,526.3 396.7,533.3 413.3,550.8 438.3,561.7 449.2,563.0 457.5,570.0 463.8,568.3 464.3,583.3 468.3,585.0 471.3,590.0 469.7,600.0 463.3,613.3 461.7,624.2 456.7,631.7 446.7,633.3 433.3,631.7 430.0,623.3 425.0,630.8 421.7,638.3 420.8,647.5 379.2,637.0 371.7,633.3 371.7,525.0"/>
<polygon class="s" fill="#1E40B4" points="473.7,547.5 480.0,546.7 480.8,551.7 485.8,550.0 485.0,543.3 488.3,541.7 487.5,531.7 490.0,529.2 496.7,535.8 498.3,543.3 495.0,551.7 490.0,556.7 492.5,563.3 493.3,573.3 490.8,580.0 485.8,588.3 482.5,595.0 478.3,600.0 476.7,593.3 480.0,586.7 475.0,587.0 470.8,583.3 467.5,575.0 466.7,566.7 468.3,561.7 474.7,553.7"/>
<polygon class="s" fill="#1E40B4" points="458.3,532.5 462.5,540.0 461.7,546.7 456.7,542.5 455.8,536.7"/>
<polygon class="s" fill="#0A0A8C" points="482.0,514.7 560.8,539.2 565.8,542.5 565.0,557.5 560.0,561.7 561.7,568.3 553.3,567.5 545.0,570.0 541.7,578.3 544.2,590.0 532.5,595.8 528.3,606.7 530.8,611.7 528.3,618.3 523.3,624.2 506.7,633.3 501.7,630.8 494.2,620.0 486.7,610.8 483.3,608.3 479.2,606.7 478.3,600.0 482.5,595.0 485.8,588.3 490.8,580.0 493.3,573.3 492.5,563.3 490.0,556.7 495.0,551.7 498.3,543.3 496.7,535.8 490.0,529.2 485.8,530.0 481.7,526.7 480.8,518.3"/>
<polygon class="s" fill="#0A0A8C" points="474.2,598.3 477.5,601.7 476.7,606.7 471.7,608.3 470.8,603.3"/>
<polygon class="s" fill="#1E40B4" points="471.7,608.3 479.2,606.7 483.3,608.3 482.5,615.0 476.7,623.3 470.0,624.2 467.5,624.2 469.2,616.7"/>
<polygon class="s" fill="#2083E0" points="425.0,631.7 430.0,633.3 436.7,635.0 446.7,635.0 456.7,632.5 461.7,628.3 469.2,630.8 470.0,635.8 463.3,641.7 456.7,646.7 451.7,647.5 450.0,653.3 445.0,651.7 440.0,649.2 426.7,650.0 421.7,646.7 422.5,638.3"/>
<polygon class="s" fill="#F0BC9C" points="565.8,542.5 648.3,564.2 643.3,586.7 640.0,595.0 630.8,630.0 623.3,630.8 612.5,673.3 656.7,685.0 652.5,703.3 646.7,715.0 635.8,716.7 634.2,724.2 616.7,725.0 605.0,736.7 611.7,743.3 611.7,750.0 609.2,757.5 590.0,755.0 580.0,756.7 563.3,753.3 548.3,753.3 550.8,740.8 477.5,719.7 483.3,699.2 490.0,698.3 490.8,690.0 494.2,685.0 497.5,679.2 495.0,673.3 494.2,665.8 498.3,663.3 503.3,655.8 506.7,655.8 512.5,660.0 516.7,670.0 532.5,675.0 532.5,680.0 536.7,683.3 536.7,689.2 560.0,694.2 563.3,690.0 562.5,673.3 565.8,666.7 564.2,660.0 565.0,652.5 559.2,649.2 558.3,643.3 565.0,635.0 568.3,628.3 575.0,627.5 580.0,625.0 586.7,618.3 579.2,615.0 575.0,606.7 569.2,600.0 570.0,595.0 563.3,585.0 560.0,575.0 561.7,568.3 560.0,561.7 565.0,557.5"/>
<polygon class="s" fill="#D14A34" points="648.3,564.2 725.0,583.5 702.5,680.0 685.0,765.0 682.5,778.5 609.2,757.5 611.7,750.0 611.7,743.3 605.0,736.7 616.7,725.0 634.2,724.2 635.8,716.7 646.7,715.0 652.5,703.3 656.7,685.0 612.5,673.3 623.3,630.8 630.8,630.0 640.0,595.0 643.3,586.7"/>
<polygon class="s" fill="#1E40B4" points="451.2,740.0 455.0,755.0 455.0,765.0 452.5,777.5 443.8,786.2 447.5,790.0 440.0,798.8 437.5,802.0 421.2,796.2 417.5,791.2 397.5,782.5 382.5,785.0 377.5,786.2 372.5,781.2 357.5,775.5 351.2,790.0 345.0,792.5 338.8,800.0 325.0,796.2 310.0,790.0 310.0,740.0 338.3,760.0 351.7,736.7 355.8,721.7 361.7,722.5 360.0,715.0 364.2,702.5 365.0,690.8 370.8,688.3 372.5,677.0 378.3,683.3 380.0,679.7 394.2,680.8 398.3,689.2 405.0,688.3 411.7,691.7 417.5,698.3 416.7,715.0 415.0,728.3 430.0,738.3 436.7,740.8 450.0,740.0"/>
<polygon class="s" fill="#0A0A8C" points="413.3,729.2 430.0,738.3 436.7,740.8 450.0,740.0 451.7,746.7 454.2,756.7 455.0,766.7 446.7,768.3 440.0,765.0 436.7,760.0 428.3,763.3 420.8,761.7 415.0,758.3 416.7,750.0 420.8,743.3 415.0,740.0"/>
<polygon class="s" fill="#0A0A8C" points="325.0,796.2 338.8,800.0 345.0,792.5 351.2,790.0 357.5,775.5 372.5,781.2 377.5,786.2 382.5,785.0 397.5,782.5 417.5,791.2 421.2,796.2 437.5,802.0 433.8,813.8 428.8,825.0 428.8,840.0 420.0,850.0 413.8,853.8 410.0,867.5 400.0,871.2 398.8,877.5 402.0,890.0 393.8,901.2 385.0,898.8 382.5,902.5 365.0,905.0 352.5,908.8 338.8,906.2 332.5,910.0 328.8,920.0 322.5,918.8 316.2,926.2 323.0,932.5 318.8,951.2 303.0,948.0 271.2,937.5 250.0,935.0 250.0,796.2"/>
<polygon class="s" fill="#D14A34" points="451.2,740.0 472.5,743.8 483.8,751.2 512.5,751.2 517.5,755.0 547.5,753.8 560.0,753.8 580.0,757.5 610.0,758.8 682.5,778.8 686.2,790.0 696.2,798.8 698.0,808.8 690.0,820.0 680.0,836.2 670.0,845.0 667.5,856.2 657.5,861.2 650.0,871.2 643.0,877.5 643.8,887.5 653.8,893.8 653.8,900.0 650.0,910.0 643.8,920.0 615.0,1037.0 472.0,1000.0 318.8,951.2 323.0,932.5 316.2,926.2 322.5,918.8 328.8,920.0 332.5,910.0 338.8,906.2 352.5,908.8 365.0,905.0 382.5,902.5 385.0,898.8 393.8,901.2 402.0,890.0 398.8,877.5 400.0,871.2 410.0,867.5 413.8,853.8 420.0,850.0 428.8,840.0 428.8,825.0 433.8,813.8 437.5,802.0 440.0,798.8 447.5,790.0 443.8,786.2 452.5,777.5 455.0,765.0 455.0,755.0"/>
<polygon class="s" fill="#D14A34" points="318.8,951.2 472.0,1000.0 443.8,1100.0 418.0,1191.2 421.2,1167.0 412.5,1164.5 397.5,1165.5 395.0,1168.8 375.0,1172.5 372.5,1176.2 362.5,1182.5 352.5,1180.0 350.0,1171.2 360.0,1157.5 373.8,1150.0 378.8,1136.2 363.8,1140.0 356.2,1150.0 350.0,1150.0 330.0,1145.0 325.0,1135.0 316.2,1133.8 322.5,1113.8 334.5,1116.2 332.5,1111.2 287.5,1100.0 287.5,1097.5 291.2,1088.8 293.8,1070.0 291.2,1066.2 292.5,1060.0 305.0,1055.0 313.8,1051.2 316.2,1041.2 322.5,1035.0 330.0,1025.0 337.5,1018.8 336.2,1013.8 339.5,1008.8 336.2,1003.8 325.0,1008.8 315.0,1010.0 313.8,1021.2 310.0,1020.0 307.5,1016.2 298.8,1011.2 292.5,1002.5 292.5,988.8 286.2,986.2 288.8,977.5 286.2,972.5 290.0,966.2 292.5,957.5 302.5,952.5 303.0,948.0"/>
<polygon class="s" fill="#0A0A8C" points="271.2,937.5 303.0,948.0 302.5,952.5 292.5,957.5 290.0,966.2 286.2,972.5 288.8,977.5 286.2,986.2 292.5,988.8 292.5,1002.5 298.8,1011.2 307.5,1016.2 310.0,1020.0 313.8,1021.2 315.0,1010.0 325.0,1008.8 336.2,1003.8 339.5,1008.8 336.2,1013.8 337.5,1018.8 330.0,1025.0 322.5,1035.0 316.2,1041.2 313.8,1051.2 305.0,1055.0 292.5,1060.0 291.2,1066.2 293.8,1070.0 291.2,1088.8 287.5,1097.5 287.5,1100.0 286.2,1107.5 282.5,1113.8 275.0,1115.0 273.8,1125.0 267.5,1133.8 266.2,1140.0 268.8,1147.5 275.0,1157.5 278.8,1167.5 277.5,1177.5 266.2,1185.0 270.0,1200.0 275.0,1213.8 270.0,1228.8 250.0,1228.8 225.0,1175.0 225.0,1100.0 225.0,1100.0 225.0,937.5"/>
<polygon class="s" fill="#2083E0" points="287.5,1100.0 332.5,1111.2 334.5,1116.2 322.5,1113.8 316.2,1133.8 325.0,1135.0 330.0,1145.0 350.0,1150.0 356.2,1150.0 363.8,1140.0 378.8,1136.2 373.8,1150.0 360.0,1157.5 350.0,1171.2 341.2,1185.0 335.0,1186.2 331.2,1190.0 330.0,1200.0 335.0,1207.5 337.5,1215.0 320.0,1222.5 310.0,1222.5 303.8,1217.5 292.5,1216.2 293.8,1206.2 300.0,1202.5 302.5,1182.5 300.0,1162.5 295.0,1156.2 285.0,1155.0 282.5,1148.8 272.5,1143.8 266.2,1140.0 267.5,1133.8 273.8,1125.0 275.0,1115.0 282.5,1113.8 286.2,1107.5"/>
<polygon class="s" fill="#1E40B4" points="266.2,1140.0 272.5,1143.8 282.5,1148.8 285.0,1155.0 295.0,1156.2 300.0,1162.5 302.5,1182.5 300.0,1202.5 293.8,1206.2 292.5,1216.2 287.5,1210.0 282.5,1210.0 275.0,1213.8 270.0,1200.0 266.2,1185.0 277.5,1177.5 278.8,1167.5 275.0,1157.5 268.8,1147.5"/>
<polygon class="s" fill="#1E40B4" points="338.8,1198.8 350.0,1191.2 356.2,1193.8 353.8,1220.0 345.0,1221.2 341.2,1215.0 337.5,1207.5 335.0,1207.5"/>
<polygon class="s" fill="#C00A0A" points="350.0,1171.2 341.2,1185.0 352.5,1180.0 362.5,1182.5 372.5,1176.2 375.0,1172.5 395.0,1168.8 397.5,1165.5 412.5,1164.5 421.2,1167.0 418.0,1191.2 432.5,1217.5 430.0,1230.0 422.5,1242.5 425.0,1252.5 433.8,1260.0 435.0,1272.5 432.5,1283.8 440.0,1286.2 442.5,1297.5 452.5,1307.5 451.2,1315.0 455.0,1322.5 453.8,1330.0 461.2,1336.2 463.0,1346.2 461.2,1357.5 435.0,1352.5 426.2,1355.0 422.5,1348.8 412.5,1347.5 405.0,1340.0 397.5,1325.0 390.0,1318.8 381.2,1310.0 378.8,1302.5 375.0,1290.0 372.5,1272.5 360.0,1247.5 355.0,1235.0 353.8,1220.0 356.2,1193.8 350.0,1185.0"/>
<polygon class="s" fill="#76B3E8" points="307.5,1230.0 320.0,1222.5 337.5,1215.0 345.0,1221.2 353.8,1220.0 353.0,1240.0 348.8,1258.8 345.0,1251.2 335.0,1248.8 327.5,1250.0 316.2,1248.8 315.0,1240.0"/>
<polygon class="s" fill="#76B3E8" points="322.5,1291.2 332.5,1286.2 342.5,1278.8 372.5,1272.5 375.0,1290.0 378.8,1302.5 381.2,1310.0 390.0,1318.8 395.0,1325.0 387.5,1332.5 392.5,1337.5 381.2,1341.2 378.8,1335.0 372.5,1331.2 360.0,1328.8 356.2,1320.0 355.0,1308.8 331.2,1321.2 322.5,1312.5 318.8,1302.5"/>
<polygon class="s" fill="#1E40B4" points="280.0,1222.5 305.0,1222.5 307.5,1230.0 315.0,1240.0 316.2,1248.8 313.8,1260.0 315.0,1270.0 313.8,1285.0 322.5,1291.2 318.8,1302.5 310.0,1300.0 302.5,1297.5 300.0,1302.5 295.0,1295.0 291.2,1285.0 290.0,1275.0 295.0,1270.0 292.5,1260.0 286.2,1260.0 283.8,1250.0 286.2,1240.0 282.5,1235.0 280.0,1227.5"/>
<polygon class="s" fill="#0A0A8C" points="270.0,1231.2 275.0,1235.0 275.0,1247.5 283.8,1260.0 286.2,1260.0 292.5,1260.0 295.0,1265.0 290.0,1275.0 291.2,1285.0 285.0,1286.2 277.5,1288.8 272.5,1290.0 260.0,1280.0 260.0,1230.0"/>
<polygon class="s" fill="#2083E0" points="277.5,1288.8 285.0,1286.2 291.2,1285.0 295.0,1295.0 300.0,1302.5 302.5,1297.5 310.0,1300.0 318.8,1302.5 322.5,1312.5 331.2,1321.2 335.0,1330.0 340.0,1340.0 338.8,1352.5 332.5,1357.5 332.5,1366.2 340.0,1377.5 347.5,1385.0 347.5,1392.5 291.2,1377.5 275.0,1375.0 265.0,1335.0 272.5,1290.0"/>
<polygon class="s" fill="#FFEBDA" points="331.2,1321.2 355.0,1308.8 356.2,1320.0 360.0,1328.8 372.5,1331.2 378.8,1335.0 381.2,1341.2 392.5,1337.5 400.0,1345.0 402.5,1350.0 397.5,1360.0 397.5,1371.2 392.5,1375.0 388.8,1387.5 410.0,1388.8 411.2,1398.8 417.5,1401.2 421.2,1415.0 410.0,1412.5 403.8,1425.0 402.5,1432.5 392.5,1431.2 391.2,1438.8 398.8,1446.2 405.0,1437.5 415.0,1443.8 415.0,1450.0 407.5,1460.0 402.5,1463.8 401.2,1457.5 395.0,1455.0 393.8,1448.8 388.8,1445.0 372.5,1425.0 370.0,1420.0 360.0,1420.0 352.5,1418.8 350.0,1407.5 346.2,1405.0 348.8,1392.5 347.5,1385.0 340.0,1377.5 332.5,1366.2 332.5,1357.5 338.8,1352.5 340.0,1340.0 335.0,1330.0"/>
<polygon class="s" fill="#1E40B4" points="291.2,1377.5 347.5,1392.5 346.2,1405.0 350.0,1407.5 352.5,1418.8 360.0,1420.0 362.5,1432.5 367.5,1437.5 372.5,1450.0 372.5,1462.5 380.0,1470.0 401.2,1477.5 402.5,1497.5 386.2,1500.0 385.0,1490.0 375.0,1487.5 365.0,1490.0 372.5,1510.0 350.0,1510.0 295.0,1475.0 285.0,1377.5"/>
<polygon class="s" fill="#2083E0" points="366.2,1486.2 385.0,1488.8 386.2,1500.0 402.5,1497.5 405.0,1512.5 397.5,1522.0 370.0,1522.0 365.0,1497.5"/>
<polygon class="s" fill="#F0BC9C" points="392.5,1337.5 387.5,1332.5 395.0,1325.0 397.5,1325.0 405.0,1340.0 412.5,1347.5 422.5,1348.8 426.2,1355.0 435.0,1352.5 461.2,1357.5 463.0,1346.2 461.2,1336.2 453.8,1330.0 455.0,1322.5 451.2,1315.0 452.5,1307.5 442.5,1297.5 440.0,1286.2 432.5,1283.8 435.0,1272.5 433.8,1260.0 425.0,1252.5 422.5,1242.5 430.0,1230.0 432.5,1217.5 443.8,1231.2 446.2,1201.2 462.5,1195.0 472.5,1201.2 525.0,1215.5 550.0,1216.2 626.2,1233.8 630.0,1217.5 636.2,1210.0 643.8,1172.5 732.5,1192.0 692.5,1396.2 681.2,1447.5 672.5,1457.5 666.2,1455.0 662.5,1446.2 641.2,1446.2 630.0,1442.5 612.5,1433.8 600.0,1432.5 582.5,1431.2 632.5,1518.8 632.5,1522.0 460.0,1522.0 465.0,1492.5 450.0,1491.2 440.0,1497.5 430.0,1495.0 431.2,1485.0 401.2,1477.5 380.0,1470.0 372.5,1462.5 372.5,1450.0 367.5,1437.5 362.5,1432.5 360.0,1420.0 370.0,1420.0 372.5,1425.0 388.8,1445.0 393.8,1448.8 395.0,1455.0 401.2,1457.5 402.5,1463.8 407.5,1460.0 415.0,1450.0 415.0,1443.8 405.0,1437.5 398.8,1446.2 391.2,1438.8 392.5,1431.2 402.5,1432.5 403.8,1425.0 410.0,1412.5 421.2,1415.0 417.5,1401.2 411.2,1398.8 410.0,1388.8 388.8,1387.5 392.5,1375.0 397.5,1371.2 397.5,1360.0 402.5,1350.0 400.0,1345.0"/>
<polygon class="s" fill="#D14A34" points="472.0,1000.0 615.0,1037.0 711.2,1058.8 758.5,1070.0 732.5,1192.0 643.8,1172.5 636.2,1210.0 630.0,1217.5 626.2,1233.8 550.0,1216.2 525.0,1215.5 472.5,1201.2 462.5,1195.0 446.2,1201.2 443.8,1231.2 418.0,1191.2 443.8,1100.0"/>
<polygon class="s" fill="#D14A34" points="582.5,1432.5 612.5,1433.8 630.0,1442.5 640.0,1446.2 641.2,1460.0 636.2,1490.0 635.0,1512.5 632.5,1518.8"/>
<polygon class="s" fill="#2083E0" points="612.5,1436.2 628.8,1437.5 628.0,1443.0 616.2,1442.0"/>
<polygon class="s" fill="#1E40B4" points="315.0,1508.8 325.0,1510.0 327.5,1517.5 318.8,1516.2"/>
<polygon class="s" fill="#1E40B4" points="333.8,1510.0 342.5,1513.8 352.5,1517.0 336.2,1518.0"/>
<polygon class="s" fill="#C00A0A" points="767.5,594.0 860.0,614.0 960.0,634.0 1060.0,650.0 1160.0,662.5 1292.5,678.5 1274.0,881.5 1267.5,943.5 1110.0,927.5 938.0,901.0 931.5,932.5 922.5,915.0 915.0,925.0 900.0,922.5 877.5,920.0 860.0,922.5 847.5,925.0 840.0,900.0 830.0,890.0 825.0,872.5 819.0,840.0 812.5,830.0 795.0,839.0 787.5,832.5 791.0,820.0 797.5,795.0 810.0,762.5 795.0,757.5 785.0,735.0 772.5,710.0 762.5,695.0 762.5,677.5 755.0,657.5 767.5,594.0"/>
<polygon class="s" fill="#D14A34" points="1292.5,678.5 1410.0,686.0 1510.0,691.0 1596.5,694.0 1601.0,720.0 1600.0,745.0 1607.5,770.0 1612.5,795.0 1614.0,830.0 1620.0,860.0 1624.0,885.0 1624.0,900.0 1274.0,881.5"/>
<polygon class="s" fill="#D14A34" points="1274.0,881.5 1624.0,900.0 1622.5,910.0 1612.5,920.0 1617.5,932.5 1630.0,940.0 1629.0,1062.5 1622.5,1065.0 1629.0,1085.0 1622.5,1110.0 1619.0,1117.5 1625.0,1127.5 1617.5,1117.5 1600.0,1112.5 1585.0,1105.0 1555.0,1105.0 1550.0,1109.0 1537.5,1102.5 1527.5,1095.0 1257.5,1078.5 1267.5,943.5"/>
<polygon class="s" fill="#D14A34" points="938.0,901.0 1110.0,927.5 1267.5,943.5 1257.5,1078.5 1245.0,1210.0 992.5,1180.0 894.0,1164.0 931.5,932.5"/>
<polygon fill="#D14A34" stroke="#D14A34" stroke-width="1" points="992.5,1180.0 1137.5,1197.5 1146.0,1220.0 1147.5,1237.5 1127.5,1242.5 1110.0,1237.5 1107.5,1270.0 1112.5,1292.5 1107.5,1305.0 1125.0,1308.5 1122.5,1325.0 1100.0,1327.5 1112.5,1335.0 1107.5,1350.0 1112.5,1367.5 1130.0,1372.5 1135.0,1382.5 1180.0,1386.0 1182.5,1370.0 1227.5,1375.0 1225.0,1410.0 960.0,1410.0"/>
<polygon class="s" fill="#0A0A8C" points="1137.5,1197.5 1198.5,1204.5 1195.0,1247.5 1182.5,1257.5 1185.0,1272.5 1175.0,1280.0 1177.5,1300.0 1165.0,1327.5 1162.5,1307.5 1147.5,1295.0 1130.0,1307.5 1107.5,1305.0 1112.5,1292.5 1107.5,1270.0 1110.0,1237.5 1127.5,1242.5 1147.5,1237.5 1146.0,1220.0"/>
<polygon class="s" fill="#2083E0" points="1172.5,1277.5 1207.5,1277.5 1205.0,1287.5 1195.0,1290.0 1195.0,1297.5 1180.0,1299.0 1175.0,1285.0"/>
<polygon class="s" fill="#0A0A8C" points="1185.0,1287.5 1193.0,1287.5 1193.0,1295.0 1185.0,1295.0"/>
<polygon class="s" fill="#2083E0" points="1627.5,1204.0 1655.0,1205.0 1650.0,1225.0 1637.5,1230.0 1632.5,1220.0"/>
<polygon class="s" fill="#1E40B4" points="1596.2,693.8 1688.0,693.2 1688.0,668.8 1702.0,671.2 1705.0,687.5 1709.2,700.0 1708.8,710.0 1720.0,713.0 1726.2,713.8 1727.5,716.2 1746.2,718.0 1748.8,725.0 1762.5,723.8 1767.5,717.5 1780.0,716.2 1790.0,719.5 1800.0,722.5 1797.5,727.5 1807.5,728.8 1811.2,740.0 1816.2,741.2 1817.5,734.5 1826.2,733.8 1831.2,740.0 1842.5,743.8 1845.0,748.8 1851.2,752.5 1863.8,750.0 1872.5,742.5 1880.0,738.0 1885.0,747.5 1895.0,746.2 1912.5,745.0 1920.0,747.5 1925.0,752.0 1932.5,750.0 1941.2,750.5 1930.0,758.8 1910.0,767.5 1895.0,775.0 1882.5,786.2 1873.8,795.0 1860.0,812.5 1845.0,826.2 1830.0,838.8 1830.0,838.8 1821.2,847.5 1822.5,886.2 1815.0,891.2 1803.8,898.8 1800.0,910.0 1796.2,915.0 1796.2,922.5 1803.8,923.8 1807.5,931.2 1803.8,938.8 1802.0,951.2 1802.0,967.5 1803.8,975.0 1815.0,987.5 1825.0,987.5 1830.0,993.8 1845.0,1000.0 1848.8,1010.0 1860.0,1020.0 1860.0,1020.0 1870.0,1023.8 1876.2,1031.2 1880.0,1042.5 1881.2,1055.8 1772.5,1059.5 1700.0,1061.2 1629.0,1062.5 1622.5,1065.0 1629.0,1085.0 1629.0,1062.5 1630.0,940.0 1617.5,932.5 1612.5,920.0 1622.5,910.0 1624.0,900.0 1624.0,885.0 1620.0,860.0 1614.0,830.0 1612.5,795.0 1607.5,770.0 1600.0,745.0 1601.0,720.0 1596.5,694.0"/>
<polygon class="s" fill="#D14A34" points="1720.0,910.0 1726.2,907.0 1755.0,906.2 1756.2,922.5 1767.0,923.0 1768.0,932.0 1790.0,931.2 1792.0,938.8 1803.8,938.8 1802.0,967.5 1803.8,975.0 1815.0,987.5 1825.0,987.5 1830.0,993.8 1845.0,1000.0 1848.8,1010.0 1838.8,1012.5 1837.5,1017.5 1827.0,1017.5 1826.2,1013.0 1786.2,1013.8 1785.0,1002.5 1778.8,1001.2 1775.0,992.0 1752.5,991.2 1751.2,986.2 1757.5,981.2 1745.0,980.0 1744.5,963.8 1732.5,963.0 1732.0,943.8 1725.0,940.0 1713.8,939.5 1714.5,932.5 1720.0,930.0"/>
<polygon class="s" fill="#1E40B4" points="1773.8,956.2 1781.2,953.8 1782.5,952.5 1802.0,951.2 1802.0,967.5 1785.0,965.0 1782.5,967.5 1775.0,967.5"/>
<polygon class="s" fill="#D14A34" points="1830.0,838.8 1832.5,843.8 1842.5,843.8 1855.0,838.8 1870.0,831.2 1885.0,825.0 1890.0,827.5 1885.0,848.8 1892.5,845.0 1907.5,847.5 1912.5,847.0 1912.5,847.0 1922.5,862.5 1930.0,865.0 1960.0,870.0 1972.5,872.5 1985.0,878.8 1995.0,880.0 2017.5,883.8 2018.8,891.2 2030.0,893.8 2035.0,902.5 2035.0,917.5 2042.5,920.0 2041.2,930.0 2046.2,935.0 2046.2,935.0 2046.2,942.5 2035.0,955.0 2030.0,967.5 2032.5,975.0 2040.0,962.5 2050.0,947.5 2057.5,935.0 2065.0,927.5 2071.2,921.2 2075.0,921.2 2072.5,932.5 2067.5,947.5 2061.2,955.0 2057.5,972.5 2056.2,987.5 2056.2,997.5 2050.0,1007.5 2051.2,1030.0 2047.5,1047.5 2046.2,1062.0 2048.8,1020.0 2050.0,1030.0 2046.2,1050.0 2045.0,1065.0 2048.8,1080.0 2052.5,1092.5 2053.0,1112.0 2010.0,1114.5 1915.0,1118.8 1907.5,1111.2 1895.0,1106.2 1888.8,1095.0 1886.2,1082.5 1891.2,1072.5 1885.0,1067.5 1881.2,1055.8 1880.0,1042.5 1876.2,1031.2 1870.0,1023.8 1860.0,1020.0 1848.8,1010.0 1845.0,1000.0 1830.0,993.8 1825.0,987.5 1815.0,987.5 1803.8,975.0 1802.0,967.5 1802.0,951.2 1803.8,938.8 1807.5,931.2 1803.8,923.8 1796.2,922.5 1796.2,915.0 1800.0,910.0 1803.8,898.8 1815.0,891.2 1822.5,886.2 1821.2,847.5"/>
<polygon class="s" fill="#1E40B4" points="1803.8,968.8 1834.5,967.5 1832.5,943.8 1853.8,943.2 1855.0,955.0 1861.2,956.2 1862.5,961.2 1876.2,958.8 1881.2,953.8 1885.0,960.0 1891.2,961.2 1891.2,982.5 1886.2,983.8 1887.5,993.8 1910.0,993.8 1912.5,1022.5 1930.0,1021.2 1931.2,1026.2 1941.2,1023.8 1936.2,1015.0 1942.5,1006.2 1941.2,1001.2 1933.8,1002.5 1933.8,992.5 1938.8,990.0 1938.8,973.8 1972.0,972.0 1973.8,1000.0 1957.5,1001.2 1958.8,1020.0 1958.8,1020.0 1960.0,1041.2 1952.5,1043.8 1926.2,1044.5 1926.2,1048.8 1932.5,1050.0 1931.2,1060.0 1930.0,1073.0 1922.5,1073.8 1925.0,1118.8 1915.0,1118.8 1907.5,1111.2 1895.0,1106.2 1888.8,1095.0 1886.2,1082.5 1891.2,1072.5 1885.0,1067.5 1881.2,1055.8 1880.0,1042.5 1876.2,1031.2 1870.0,1023.8 1860.0,1020.0 1848.8,1010.0 1845.0,1000.0 1830.0,993.8 1825.0,987.5 1815.0,987.5 1803.8,975.0"/>
<polygon class="s" fill="#D14A34" points="1911.2,1020.0 1928.8,1021.2 1930.0,1026.2 1940.0,1023.8 1941.2,1020.0"/>
<polygon class="s" fill="#0A0A8C" points="1926.2,1044.5 1952.5,1043.8 1960.0,1047.5 1960.0,1060.0 1955.0,1065.0 1990.0,1064.5 1991.2,1092.5 1996.2,1093.8 1990.0,1101.2 1995.0,1107.5 1996.2,1114.5 1925.0,1118.8 1922.5,1073.8 1930.0,1073.0 1931.2,1060.0 1932.5,1050.0 1926.2,1048.8"/>
<polygon class="s" fill="#76B3E8" points="2037.5,1066.2 2045.0,1066.2 2048.8,1080.0 2046.2,1081.2 2042.5,1073.8"/>
<polygon class="s" fill="#D14A34" points="1772.5,1061.2 1881.2,1055.8 1885.0,1067.5 1891.2,1072.5 1886.2,1082.5 1888.8,1095.0 1895.0,1106.2 1907.5,1111.2 1915.0,1118.8 1926.2,1130.0 1927.5,1137.5 1940.0,1143.8 1940.5,1152.0 1905.0,1153.8 1904.5,1159.5 1881.2,1160.5 1880.5,1166.2 1858.8,1167.5 1858.8,1190.0 1812.5,1192.0 1811.2,1169.5 1787.5,1169.5 1787.0,1146.2 1810.0,1145.0 1810.0,1139.5 1821.2,1138.0 1818.8,1098.0 1842.0,1097.0 1841.2,1078.0 1795.0,1078.8 1793.8,1076.2 1772.0,1077.0"/>
<polygon class="s" fill="#1E40B4" points="1783.8,1170.0 1811.2,1169.5 1812.5,1192.0 1858.8,1190.0 1858.8,1167.5 1880.5,1166.2 1881.2,1160.5 1904.5,1159.5 1905.0,1153.8 1940.5,1152.0 1940.0,1165.0 1933.8,1170.0 1932.5,1180.0 1920.0,1188.8 1912.5,1191.2 1900.0,1193.8 1896.2,1206.2 1903.8,1213.8 1904.5,1225.0 1898.8,1233.8 1897.5,1245.0 1885.0,1247.5 1883.8,1263.8 1880.0,1262.5 1866.2,1248.8 1751.2,1255.0 1750.0,1217.5 1785.0,1215.8"/>
<polygon class="s" fill="#2083E0" points="1915.0,1118.8 1975.0,1117.5 1976.2,1130.0 1981.2,1127.5 1991.2,1128.8 1992.5,1133.8 1996.2,1133.8 1991.2,1138.8 1987.5,1136.2 1962.5,1137.5 1963.8,1152.5 1967.5,1167.5 1967.5,1178.8 1957.5,1180.0 1958.8,1207.5 1953.8,1210.0 1955.0,1242.5 1968.8,1242.5 1972.5,1233.8 1976.2,1236.2 1975.0,1251.2 1962.5,1251.2 1957.5,1257.5 1952.5,1261.2 1950.0,1270.0 1946.2,1273.8 1932.5,1273.8 1932.5,1245.0 1897.5,1245.0 1898.8,1233.8 1904.5,1225.0 1903.8,1213.8 1896.2,1206.2 1900.0,1193.8 1912.5,1191.2 1920.0,1188.8 1932.5,1180.0 1933.8,1170.0 1940.0,1165.0 1940.5,1152.0 1940.0,1143.8 1927.5,1137.5 1926.2,1130.0"/>
<polygon class="s" fill="#D14A34" points="1975.0,1117.5 2010.0,1114.5 2053.0,1112.0 2053.8,1122.5 2057.5,1132.5 2063.8,1142.5 2067.5,1152.5 2072.5,1161.2 2067.5,1162.5 2061.2,1172.5 2060.0,1180.0 2050.0,1185.0 2050.0,1195.0 2041.2,1198.8 2042.0,1211.2 2076.2,1208.0 2080.0,1241.2 2038.8,1243.8 2037.5,1250.0 2033.8,1250.0 2032.5,1237.5 2026.2,1236.2 2025.0,1230.0 2008.8,1230.0 2006.2,1218.8 2000.0,1217.5 1999.5,1208.8 1983.8,1207.5 1958.8,1207.5 1957.5,1180.0 1967.5,1178.8 1967.5,1167.5 1963.8,1152.5 1962.5,1137.5 1987.5,1136.2 1991.2,1138.8 1996.2,1133.8 1992.5,1133.8 1991.2,1128.8 1981.2,1127.5 1976.2,1130.0"/>
<polygon class="s" fill="#2083E0" points="2072.5,1161.2 2080.0,1165.0 2090.0,1163.8 2100.0,1158.8 2110.0,1152.5 2115.0,1155.0 2108.8,1160.0 2111.2,1186.2 2105.0,1191.2 2096.2,1188.8 2087.5,1192.5 2077.5,1197.0 2073.8,1170.0"/>
<polygon class="s" fill="#D14A34" points="2083.8,1266.2 2087.5,1270.0 2088.8,1276.2 2106.2,1275.0 2110.0,1281.2 2113.8,1306.2 2132.5,1305.0 2136.2,1301.2 2146.2,1296.2 2147.5,1293.8 2167.5,1291.2 2166.2,1310.0 2162.5,1311.2 2165.0,1330.0 2180.0,1328.8 2182.5,1347.5 2187.5,1355.0 2201.2,1357.5 2193.8,1367.5 2190.0,1373.8 2182.5,1380.0 2181.2,1393.8 2173.8,1401.2 2167.5,1396.2 2162.5,1388.8 2155.0,1390.0 2150.0,1397.5 2147.5,1410.0 2142.5,1413.8 2137.5,1408.8 2130.0,1410.0 2122.5,1417.5 2112.5,1412.5 2102.5,1410.0 2096.2,1413.8 2090.0,1410.0 2075.0,1422.5 2070.0,1422.5 2067.5,1412.5 2072.5,1400.0 2071.2,1390.0 2080.0,1382.5 2086.2,1370.0 2091.2,1355.0 2090.0,1342.5 2082.5,1332.5 2086.2,1320.0"/>
<polygon class="s" fill="#D14A34" points="2155.0,1230.0 2163.8,1222.5 2180.0,1220.0 2187.5,1225.0 2190.0,1230.0 2197.5,1232.5 2196.2,1237.5 2181.2,1238.8 2182.5,1267.5 2165.0,1270.0 2163.8,1275.0 2146.2,1276.2 2142.5,1257.5 2147.5,1256.2 2146.2,1241.2 2153.8,1240.0"/>
<polygon class="s" fill="#2083E0" points="2146.2,1276.2 2163.8,1275.0 2165.0,1290.0 2147.5,1291.2"/>
<polygon class="s" fill="#1E40B4" points="2181.2,1380.0 2193.8,1372.5 2200.0,1376.2 2198.8,1388.8 2182.5,1393.8"/>
<polygon class="s" fill="#C00A0A" points="1912.5,847.0 1922.5,840.0 1935.0,830.5 1955.0,826.2 1965.0,816.2 1975.0,812.5 1985.0,802.5 1990.0,796.2 2002.5,783.8 2022.5,779.5 2027.5,783.0 2017.5,787.5 2007.5,797.5 2000.0,810.0 1997.0,826.2 2000.0,817.5 2008.8,816.2 2020.0,817.5 2032.5,821.2 2047.5,841.2 2063.8,838.8 2072.5,843.8 2080.0,842.5 2083.8,843.8 2092.5,832.5 2102.5,825.0 2117.5,822.5 2135.0,818.8 2145.0,813.8 2156.2,812.5 2155.0,830.0 2165.0,831.2 2175.0,830.0 2177.5,833.8 2188.8,827.5 2195.0,842.5 2202.5,847.5 2207.5,855.0 2217.5,856.2 2220.0,850.0 2225.0,848.8 2231.2,855.0 2231.2,860.0 2217.5,860.0 2205.0,856.2 2195.0,860.0 2185.0,861.2 2175.0,860.0 2174.5,871.2 2165.0,870.0 2155.0,865.0 2136.2,860.0 2131.2,868.8 2120.0,871.2 2102.5,875.0 2100.0,882.5 2088.8,896.2 2086.2,895.0 2088.8,885.0 2080.0,885.0 2075.0,892.5 2066.2,896.2 2060.0,906.2 2057.5,915.0 2043.8,935.0 2045.0,935.0 2040.0,931.2 2041.2,922.5 2035.0,920.0 2036.2,903.8 2032.5,895.0 2021.2,892.5 2018.8,885.0 2000.0,880.5 2017.5,883.8 1995.0,880.0 1985.0,878.8 1972.5,872.5 1960.0,870.0 1930.0,865.0 1922.5,862.5"/>
<polygon class="s" fill="#C00A0A" points="2107.5,1002.5 2113.8,982.5 2116.2,967.5 2113.8,955.0 2120.0,950.0 2120.0,941.2 2132.5,933.8 2138.8,920.0 2141.2,922.5 2141.2,946.2 2146.2,947.5 2150.0,935.0 2150.0,911.2 2160.0,907.5 2170.0,902.5 2161.2,897.5 2160.0,890.0 2165.0,880.0 2175.0,876.2 2185.0,880.0 2195.0,881.2 2205.0,885.0 2208.8,890.0 2217.5,891.2 2230.0,896.2 2237.5,896.2 2243.8,902.5 2246.2,912.5 2242.5,920.0 2247.5,926.2 2252.5,935.0 2254.5,950.0 2227.5,955.0 2136.2,966.2 2137.5,988.8 2127.5,990.0 2128.0,1001.2"/>
<polygon class="s" fill="#D14A34" points="2136.2,966.2 2227.5,955.0 2229.5,976.2 2218.8,980.0 2222.5,1017.5 2230.0,1022.5 2231.2,1035.0 2237.5,1036.2 2241.2,1067.5 2210.0,1073.8 2197.5,1075.0 2193.8,1053.8 2177.5,1053.8 2172.5,1046.2 2157.5,1046.2 2150.0,988.8 2137.5,988.8"/>
<polygon class="s" fill="#2083E0" points="2227.5,955.0 2254.5,950.0 2255.0,962.5 2246.2,970.0 2245.0,982.5 2240.0,988.8 2232.5,991.2 2231.2,1007.5 2241.2,1012.5 2246.2,1012.5 2251.2,1020.0 2252.5,1030.0 2258.8,1032.5 2262.5,1060.0 2252.5,1061.2 2253.8,1066.2 2241.2,1067.5 2237.5,1036.2 2247.5,1035.0 2246.2,1028.8 2240.0,1028.8 2238.8,1033.8 2231.2,1035.0 2230.0,1022.5 2222.5,1017.5 2218.8,980.0 2229.5,976.2"/>
<polygon class="s" fill="#D14A34" points="2246.2,1012.5 2257.5,990.0 2275.0,977.5 2285.0,980.0 2295.0,997.5 2305.0,1027.5 2312.5,1047.5 2311.2,1060.0 2310.0,1070.0 2302.5,1068.8 2296.2,1072.5 2282.5,1075.0 2280.0,1057.5 2262.5,1060.0 2258.8,1032.5 2252.5,1030.0 2251.2,1020.0"/>
<polygon class="s" fill="#C00A0A" points="2210.0,1073.8 2241.2,1067.5 2253.8,1066.2 2252.5,1061.2 2280.0,1057.5 2282.5,1075.0 2283.8,1085.0 2280.0,1086.2 2278.8,1077.5 2270.0,1072.5 2271.2,1082.5 2267.5,1085.0 2268.8,1100.0 2265.0,1101.2 2263.8,1092.5 2257.5,1090.0 2212.5,1096.2"/>
<polygon class="s" fill="#D14A34" points="2186.2,1077.5 2210.0,1073.8 2212.5,1096.2 2257.5,1090.0 2263.8,1092.5 2265.0,1101.2 2252.5,1100.0 2250.0,1105.0 2262.5,1110.0 2282.5,1110.0 2287.5,1097.5 2298.8,1070.0 2295.0,1085.0 2285.0,1102.5 2282.5,1115.0 2273.8,1136.2 2207.5,1145.0 2182.5,1143.8 2180.0,1123.8 2208.8,1121.2 2205.0,1100.0 2187.5,1100.0"/>
<polygon fill="#D14A34" stroke="#D14A34" stroke-width="1" points="2255.0,1075.0 2270.0,1072.5 2271.2,1082.5 2267.5,1085.0 2257.5,1090.0"/>
<polygon class="s" fill="#C00A0A" points="2255.0,1075.0 2270.0,1072.5 2271.2,1082.5 2267.5,1085.0 2268.8,1100.0 2265.0,1101.2 2263.8,1092.5 2257.5,1090.0"/>
<polygon class="s" fill="#1E40B4" points="2251.2,1100.0 2262.5,1097.5 2268.8,1101.2 2271.2,1105.0 2282.5,1101.2 2283.8,1110.0 2268.8,1111.2 2255.0,1106.2"/>
<polygon class="s" fill="#1E40B4" points="2281.2,1080.0 2292.5,1073.8 2293.8,1082.5 2285.0,1090.0 2280.0,1086.2"/>
<polygon class="s" fill="#76B3E8" points="2268.8,1082.5 2275.0,1080.0 2280.0,1086.2 2285.0,1090.0 2280.0,1095.0 2275.0,1102.5 2271.2,1105.0 2268.8,1100.0 2271.2,1092.5"/>
<polygon class="s" fill="#2083E0" points="2522.5,987.5 2530.0,982.5 2546.0,985.0 2546.0,1000.0 2527.5,1002.5 2523.8,995.0"/>
<polygon class="s" fill="#1E40B4" points="2480.0,1011.2 2487.5,1010.0 2492.5,1017.5 2491.2,1025.0 2486.2,1025.0 2482.5,1017.5"/>
<polygon fill="#D14A34" stroke="#D14A34" stroke-width="1" points="2375.0,1122.0 2390.0,1110.0 2425.0,1085.0 2450.0,1070.0 2465.0,1050.0 2476.2,1042.5 2482.5,1030.0 2486.2,1025.0 2481.2,1022.5 2478.8,1010.0 2472.5,1008.8 2470.0,997.5 2487.5,990.0 2510.0,982.5 2527.5,981.2 2546.0,983.8 2400.0,1103.8 2415.0,1095.0 2432.5,1083.8 2450.0,1070.0 2465.0,1052.5 2475.0,1045.0 2477.5,1033.8 2482.5,1026.2 2472.5,1010.0 2470.0,998.8 2482.5,992.5 2500.0,986.2 2520.0,981.2 2535.0,981.2 2550.0,981.2 2572.5,973.8 2585.0,962.5 2593.8,955.0 2600.0,950.0 2600.0,940.0 2596.2,953.8 2600.0,942.5 2596.2,932.5 2598.8,925.0 2596.2,918.8 2590.0,920.0 2587.5,916.2 2605.0,897.5 2607.5,885.0 2620.0,865.0 2638.8,843.8 2650.0,838.8 2712.5,822.5 2715.0,835.0 2716.2,847.5 2722.5,860.0 2725.0,875.0 2725.0,887.5 2731.2,905.0 2733.8,915.0 2740.0,915.0 2746.2,935.0 2755.0,967.5 2753.8,965.0 2755.0,1013.8 2761.2,1045.0 2761.2,1050.0 2747.5,1047.5 2740.0,1041.2 2735.0,1050.0 2722.5,1055.0 2715.0,1062.5 2703.8,1067.5 2703.8,1076.2 2701.2,1090.0 2697.5,1102.5 2696.2,1112.5 2685.0,1107.5 2675.0,1112.5 2665.0,1115.0 2655.0,1122.5 2640.0,1122.5 2622.5,1142.5 2622.5,1155.0 2625.0,1165.0 2628.8,1176.2 2640.0,1187.5 2650.0,1200.5 2592.5,1216.2 2591.2,1237.5 2600.0,1243.8 2607.5,1252.5 2612.5,1265.0 2617.5,1275.0 2620.0,1287.5 2617.5,1277.5 2600.0,1275.0 2597.5,1265.0 2585.0,1265.0 2575.0,1272.5 2567.5,1295.0 2562.5,1300.0 2560.0,1315.0 2555.0,1330.0 2550.0,1345.0 2545.0,1352.5 2535.0,1350.0 2540.0,1362.5 2552.5,1371.2 2545.0,1382.5 2532.5,1385.0 2530.0,1392.5 2522.5,1386.2 2512.5,1387.5 2505.0,1395.0 2502.5,1405.0 2495.0,1407.5 2491.2,1425.0 2500.0,1430.0 2517.5,1427.5 2515.0,1445.0 2417.5,1458.8 2311.2,1473.8 2320.0,1467.5 2340.0,1455.0 2350.0,1447.5 2356.2,1435.0 2372.5,1422.5 2390.0,1405.0 2392.5,1402.5 2372.5,1392.5 2352.5,1365.0 2350.0,1350.0 2353.8,1346.2 2376.2,1330.0 2387.5,1322.5 2387.5,1315.0 2383.8,1297.5 2385.0,1286.2 2397.5,1271.2 2405.0,1272.5 2422.5,1255.0 2427.5,1220.0 2430.0,1187.5 2425.0,1157.5 2415.0,1095.0"/>
<polygon class="s" fill="#0A0A8C" points="2712.5,822.5 2796.2,800.0 2797.5,812.5 2795.0,820.0 2801.2,830.0 2798.8,837.5 2792.5,842.5 2783.8,850.0 2782.5,855.0 2787.5,870.0 2785.0,887.5 2781.2,902.5 2783.8,920.0 2786.2,940.0 2785.0,950.0 2790.0,960.0 2755.0,967.5 2746.2,935.0 2740.0,915.0 2733.8,915.0 2731.2,905.0 2725.0,887.5 2725.0,875.0 2722.5,860.0 2716.2,847.5 2715.0,835.0"/>
<polygon class="s" fill="#1E40B4" points="2796.2,800.0 2795.0,783.8 2800.0,780.0 2810.0,777.5 2827.5,832.5 2832.5,845.0 2822.5,847.5 2821.2,855.0 2815.0,850.0 2818.8,857.5 2822.5,867.5 2807.5,877.5 2815.0,880.0 2821.2,883.8 2813.8,887.5 2812.5,895.0 2822.5,902.5 2835.0,905.0 2847.5,912.5 2846.2,920.0 2837.5,922.5 2827.5,927.5 2832.5,935.0 2835.0,941.2 2848.8,937.5 2855.0,935.0 2850.0,945.0 2790.0,960.0 2785.0,950.0 2786.2,940.0 2783.8,920.0 2781.2,902.5 2785.0,887.5 2787.5,870.0 2782.5,855.0 2783.8,850.0 2792.5,842.5 2798.8,837.5 2801.2,830.0 2795.0,820.0 2797.5,812.5"/>
<polygon class="s" fill="#C00A0A" points="2822.5,847.5 2832.5,845.0 2850.0,895.0 2855.0,901.2 2861.2,905.0 2871.2,909.5 2867.0,916.2 2866.2,928.8 2855.0,935.0 2848.8,937.5 2835.0,941.2 2832.5,935.0 2827.5,927.5 2837.5,922.5 2846.2,920.0 2847.5,912.5 2835.0,905.0 2822.5,902.5 2812.5,895.0 2813.8,887.5 2821.2,883.8 2815.0,880.0 2807.5,877.5 2822.5,867.5 2818.8,857.5 2821.2,855.0"/>
<polygon class="s" fill="#D14A34" points="2870.0,910.0 2871.2,902.5 2872.5,892.5 2876.2,887.5 2877.5,877.5 2881.2,875.0 2880.0,860.0 2887.5,855.0 2895.0,857.5 2897.5,850.0 2910.0,845.0 2911.2,837.5 2922.5,836.2 2923.8,826.2 2923.8,805.0 2930.0,795.0 2931.2,805.0 2943.8,805.0 2947.5,792.5 2950.0,800.0 2955.0,803.8 2960.0,795.0 2953.8,791.2 2966.2,790.0 2967.5,780.0 2976.2,776.2 2982.5,768.8 2987.5,762.5 2997.5,761.2 3004.5,746.2 2996.2,743.8 2995.0,737.5 2988.8,728.8 2980.0,732.5 2972.5,727.5 2971.2,716.2 2967.5,711.2 2966.2,705.0 2957.5,706.2 2947.5,703.8 2946.2,695.0 2920.0,617.5 2905.0,611.2 2893.8,605.0 2888.8,612.5 2880.0,615.0 2870.0,625.0 2861.2,623.8 2857.5,612.5 2848.8,613.8 2832.5,668.8 2832.5,690.0 2828.8,702.5 2830.0,715.0 2833.8,727.5 2830.0,737.5 2822.5,752.5 2823.8,763.8 2818.8,766.2 2821.2,776.2 2812.5,772.5 2810.0,777.5 2832.5,845.0 2850.0,895.0 2855.0,901.2 2861.2,905.0"/>
<polygon class="s" fill="#0A0A8C" points="2841.2,852.5 2850.0,843.8 2855.0,850.0 2870.0,848.8 2882.5,850.0 2882.5,837.5 2890.0,832.5 2888.8,827.5 2877.5,825.0 2876.2,818.8 2890.0,816.2 2890.0,802.5 2895.0,802.5 2898.8,813.8 2910.0,813.8 2923.8,815.0 2930.0,830.0 2925.0,855.0 2890.0,880.0 2875.0,912.5 2861.2,905.0 2855.0,901.2 2850.0,895.0 2843.8,870.0 2850.0,865.0 2851.2,855.0"/>
<polygon class="s" fill="#2083E0" points="2755.0,967.5 2790.0,960.0 2786.2,972.5 2788.8,980.0 2787.5,990.0 2800.0,985.0 2805.0,990.0 2815.0,986.2 2825.0,987.5 2830.0,995.0 2830.0,995.0 2755.0,1013.8 2753.8,965.0"/>
<polygon class="s" fill="#1E40B4" points="2790.0,960.0 2812.5,955.0 2817.5,962.5 2827.5,960.0 2835.0,970.0 2845.0,972.5 2843.8,980.0 2848.8,990.0 2843.8,977.5 2848.8,987.5 2835.0,993.8 2830.0,995.0 2825.0,988.8 2815.0,987.5 2805.0,991.2 2800.0,985.0 2786.2,990.0 2788.8,977.5 2786.2,968.8 2788.8,957.5"/>
<polygon class="s" fill="#2083E0" points="2812.5,955.0 2850.0,945.0 2855.0,950.0 2850.0,960.0 2845.0,972.5 2835.0,970.0 2827.5,960.0 2817.5,962.5"/>
<polygon class="s" fill="#0A0A8C" points="2850.0,945.0 2860.0,930.0 2867.5,930.0 2872.5,940.0 2881.2,941.2 2875.0,948.8 2870.0,955.0 2855.0,955.0 2855.0,950.0"/>
<polygon class="s" fill="#0A0A8C" points="2845.0,972.5 2850.0,960.0 2855.0,955.0 2870.0,955.0 2868.8,962.5 2875.0,968.8 2882.5,970.0 2880.0,980.0 2885.0,995.0 2880.0,985.0 2882.5,997.5 2875.0,1006.2 2867.5,1003.8 2862.5,997.5 2855.0,991.2 2848.8,987.5 2843.8,977.5 2845.0,970.0"/>
<polygon class="s" fill="#1E40B4" points="2881.2,972.5 2885.0,983.8 2890.0,993.8 2898.8,998.8 2910.0,993.8 2922.5,993.8 2930.0,988.8 2927.5,977.5 2920.0,971.2 2911.2,971.2 2910.0,968.8 2921.2,968.8 2930.0,976.2 2932.5,991.2 2900.0,1008.8 2890.0,1008.8 2882.5,1012.5 2877.5,1017.5 2875.0,1010.0 2875.0,1006.2 2882.5,997.5 2880.0,985.0 2885.0,995.0 2880.0,980.0 2882.5,970.0 2895.0,980.0"/>
<polygon class="s" fill="#1E40B4" points="2755.0,1013.8 2830.0,995.0 2835.0,993.8 2848.8,987.5 2855.0,991.2 2862.5,997.5 2867.5,1003.8 2875.0,1006.2 2875.0,1010.0 2868.8,1015.0 2870.0,1025.0 2867.5,1027.5 2860.0,1035.0 2850.0,1040.0 2840.0,1043.8 2825.0,1048.8 2812.5,1052.5 2805.0,1057.5 2790.0,1065.0 2770.0,1076.2 2762.5,1082.5 2760.0,1090.0 2762.5,1080.0 2767.5,1070.0 2765.0,1060.0 2761.2,1045.0"/>
<polygon class="s" fill="#2083E0" points="2850.0,992.5 2857.5,993.8 2865.0,1002.5 2860.0,1003.8"/>
<polygon class="s" fill="#2083E0" points="2870.0,1012.5 2876.2,1011.2 2876.2,1020.0 2871.2,1022.5"/>
<polygon class="s" fill="#1E40B4" points="2693.8,968.8 2722.5,960.0 2721.2,952.5 2727.5,951.2 2728.8,960.0 2732.5,970.0 2740.0,977.5 2738.8,986.2 2741.2,992.5 2725.0,997.5 2715.0,1000.0 2711.2,988.8 2707.5,978.8 2701.2,977.5 2693.8,968.8"/>
<polygon class="s" fill="#2083E0" points="2521.2,986.2 2530.0,983.8 2550.0,982.5 2552.5,996.2 2540.0,998.8 2527.5,1001.2 2523.8,995.0"/>
<polygon class="s" fill="#1E40B4" points="2480.0,1011.2 2488.8,1008.8 2492.5,1015.0 2492.5,1023.8 2485.0,1025.0 2481.2,1017.5"/>
<polygon class="s" fill="#E08468" points="2695.0,1186.2 2703.8,1181.2 2712.5,1186.2 2727.5,1192.5 2735.0,1180.0 2760.0,1173.8 2760.0,1182.5 2753.8,1188.8 2752.5,1200.0 2743.8,1208.8 2738.8,1231.2 2733.8,1232.5 2733.8,1223.8 2722.5,1221.2 2707.5,1216.2 2695.0,1208.8 2691.2,1201.2 2696.2,1200.0 2692.5,1192.5"/>
<polygon class="s" fill="#E08468" points="2628.8,1176.2 2640.0,1166.2 2655.0,1175.0 2657.5,1185.0 2665.0,1190.0 2677.5,1186.2 2681.2,1186.2 2677.5,1195.0 2650.0,1200.5 2640.0,1187.5"/>
<polygon class="s" fill="#2083E0" points="2681.2,1186.2 2695.0,1186.2 2692.5,1192.5 2696.2,1200.0 2691.2,1201.2 2695.0,1208.8 2700.0,1215.0 2711.2,1231.2 2722.5,1240.0 2731.2,1245.0 2736.2,1267.5 2703.8,1273.8"/>
<polygon class="s" fill="#C00A0A" points="2430.0,1166.2 2445.0,1162.5 2447.5,1176.2 2465.0,1175.0 2472.5,1176.2 2485.0,1183.8 2510.0,1182.5 2515.0,1170.0 2522.5,1167.5 2525.0,1178.8 2530.0,1180.0 2527.5,1202.5 2517.5,1205.0 2510.0,1222.5 2500.0,1220.0 2502.5,1207.5 2505.0,1195.0 2490.0,1191.2 2485.0,1195.0 2472.5,1192.5 2472.5,1208.8 2462.5,1207.5 2461.2,1225.0 2463.8,1237.5 2442.5,1241.2 2435.0,1195.0"/>
<polygon class="s" fill="#1E40B4" points="2453.8,1190.0 2465.0,1186.2 2472.5,1190.0 2471.2,1197.5 2466.2,1200.0"/>
<polygon class="s" fill="#E08468" points="2396.2,1163.8 2410.0,1158.8 2425.0,1162.5 2430.0,1187.5 2427.5,1220.0 2422.5,1255.0 2405.0,1272.5 2397.5,1271.2 2385.0,1286.2 2383.8,1297.5 2387.5,1315.0 2387.5,1322.5 2382.5,1315.0 2372.5,1302.5 2367.5,1310.0 2366.2,1315.0 2370.0,1325.0 2366.2,1330.0 2363.8,1338.8 2350.0,1343.8 2335.0,1337.5 2330.0,1325.0 2325.0,1325.0 2322.5,1315.0 2335.0,1312.5 2333.8,1297.5 2351.2,1297.5 2352.5,1305.0 2357.5,1302.5 2357.5,1292.5 2372.5,1290.0 2377.5,1282.5 2380.0,1270.0 2387.5,1260.0 2382.5,1252.5 2380.0,1240.0 2363.8,1238.8 2353.8,1237.5 2355.0,1228.8 2380.0,1226.2 2381.2,1210.0 2387.5,1205.0 2395.0,1197.5 2392.5,1190.0 2403.8,1182.5 2398.8,1180.0"/>
<polygon class="s" fill="#1E40B4" points="2496.2,1235.0 2527.5,1230.0 2560.0,1222.5 2592.5,1216.2 2591.2,1237.5 2597.5,1236.2 2605.0,1231.2 2612.5,1237.5 2617.5,1247.5 2615.0,1252.5 2605.0,1251.2 2597.5,1240.0 2585.0,1230.0 2577.5,1227.5 2565.0,1227.5 2550.0,1232.5 2535.0,1235.0 2530.0,1240.0 2517.5,1247.5 2510.0,1257.5 2501.2,1266.2"/>
<polygon class="s" fill="#0A0A8C" points="2592.5,1216.2 2602.5,1212.5 2607.5,1218.8 2620.0,1215.0 2623.8,1222.5 2627.5,1228.8 2617.5,1231.2 2612.5,1237.5 2605.0,1231.2 2597.5,1236.2 2591.2,1237.5"/>
<polygon class="s" fill="#0A0A8C" points="2621.2,1248.8 2628.8,1250.0 2627.5,1262.5 2630.0,1276.2 2623.8,1277.5 2622.5,1265.0"/>
<polygon class="s" fill="#1E40B4" points="2600.0,1243.8 2612.5,1243.8 2621.2,1248.8 2622.5,1265.0 2623.8,1277.5 2617.5,1275.0 2612.5,1265.0 2607.5,1252.5"/>
<polygon class="s" fill="#E08468" points="2417.5,1362.0 2425.0,1345.0 2437.5,1330.0 2450.0,1320.0 2460.0,1307.5 2472.5,1322.5 2482.5,1315.0 2490.0,1305.0 2497.5,1302.5 2500.0,1315.0 2495.0,1330.0 2490.0,1350.0 2485.0,1362.0"/>
<polygon class="s" fill="#D14A34" points="2207.5,1145.0 2273.8,1136.2 2278.8,1138.8 2280.0,1150.0 2282.5,1183.8 2297.5,1181.2 2300.0,1200.0 2286.2,1203.8 2287.5,1216.2 2263.8,1217.0 2260.0,1192.5 2250.0,1195.0 2238.8,1200.0 2235.0,1212.5 2230.0,1220.0 2220.0,1227.5 2215.0,1187.5"/>
<polygon class="s" fill="#D14A34" points="2310.0,1163.8 2342.5,1158.8 2346.2,1152.5 2345.0,1142.5 2360.0,1138.8 2373.8,1122.5 2385.0,1112.5 2402.5,1102.5 2415.0,1095.0 2425.0,1157.5 2417.5,1160.0 2407.5,1158.8 2396.2,1163.8 2398.8,1180.0 2403.8,1182.5 2392.5,1190.0 2395.0,1197.5 2387.5,1205.0 2381.2,1210.0 2380.0,1226.2 2355.0,1228.8 2353.8,1237.5 2363.8,1238.8 2380.0,1240.0 2382.5,1252.5 2363.8,1253.8 2356.2,1245.0 2320.0,1247.5 2322.5,1240.0 2312.5,1237.5 2306.2,1242.5 2300.0,1230.0 2296.2,1215.0 2303.8,1206.2 2312.5,1200.0 2320.0,1195.0 2317.5,1180.0 2311.2,1177.5"/>
<polygon class="s" fill="#1E40B4" points="2382.5,1150.0 2390.0,1148.8 2397.5,1142.5 2415.0,1141.2 2422.5,1140.0 2425.0,1157.5 2417.5,1160.0 2407.5,1158.8 2396.2,1163.8 2395.0,1155.0 2383.8,1156.2"/>
<polygon class="s" fill="#2083E0" points="2263.8,1140.0 2275.0,1136.2 2285.0,1138.8 2307.5,1142.5 2310.0,1147.5 2322.5,1150.0 2335.0,1147.5 2335.0,1151.2 2307.5,1152.5 2300.0,1148.8 2290.0,1143.8 2267.5,1143.8"/>
<polygon class="s" fill="#2083E0" points="2360.0,1138.8 2370.0,1130.0 2375.0,1140.0 2368.8,1145.0 2362.5,1142.5"/>
<polygon class="s" fill="#2083E0" points="2368.8,1152.5 2375.0,1151.2 2381.2,1162.5 2373.8,1167.5"/>
<polygon class="s" fill="#2083E0" points="2306.2,1242.5 2312.5,1237.5 2322.5,1240.0 2323.8,1252.5 2315.0,1257.5 2307.5,1252.5"/>
<polygon class="s" fill="#D14A34" points="2223.8,1370.0 2235.0,1367.5 2247.5,1357.5 2255.0,1367.5 2260.0,1367.5 2267.5,1350.0 2275.0,1346.2 2280.0,1352.5 2295.0,1348.8 2303.8,1357.5 2300.0,1370.0 2310.0,1380.0 2307.5,1390.0 2322.5,1400.0 2310.0,1402.5 2300.0,1400.0 2292.5,1407.5 2288.8,1415.0 2270.0,1417.5 2257.5,1405.0 2250.0,1400.0 2251.2,1392.5 2245.0,1390.0 2235.0,1395.0 2222.5,1395.0 2226.2,1385.0"/>
<polygon class="s" fill="#E08468" points="2350.0,1350.0 2353.8,1346.2 2376.2,1330.0 2380.0,1351.2 2392.5,1347.5 2395.0,1355.0 2415.0,1366.2 2417.5,1352.5 2437.5,1330.0 2450.0,1322.5 2457.5,1308.8 2470.0,1312.5 2472.5,1325.0 2482.5,1318.8 2492.5,1302.5 2500.0,1305.0 2497.5,1322.5 2490.0,1355.0 2480.0,1362.5 2477.5,1375.0 2482.5,1378.8 2460.0,1400.0 2450.0,1405.0 2435.0,1408.8 2420.0,1417.5 2405.0,1417.5 2392.5,1402.5 2372.5,1392.5 2352.5,1365.0"/>
<polygon class="s" fill="#E08468" points="2582.5,1266.2 2597.5,1268.8 2610.0,1275.0 2610.0,1427.5 2515.0,1450.0 2517.5,1427.5 2495.0,1415.0 2505.0,1395.0 2517.5,1387.5 2532.5,1393.8 2535.0,1380.0 2552.5,1370.0 2535.0,1352.5 2555.0,1340.0 2565.0,1315.0 2572.5,1300.0"/>
<polygon class="s" fill="#F0BC9C" points="2592.5,1356.2 2610.0,1353.8 2610.0,1395.0 2595.0,1390.0 2590.0,1375.0"/>
<polygon class="s" fill="#D14A34" points="2282.5,1480.0 2311.2,1473.8 2417.5,1458.8 2416.2,1475.0 2408.8,1480.0 2407.5,1487.5 2420.0,1490.0 2435.0,1490.0 2443.8,1497.5 2443.8,1512.5 2435.0,1522.5 2420.0,1526.2 2407.5,1531.2 2397.5,1530.0 2392.5,1522.5 2380.0,1528.8 2377.5,1535.0 2385.0,1541.2 2395.0,1537.5 2398.8,1543.8 2396.2,1555.0 2375.0,1568.8 2355.0,1576.2 2291.2,1585.0 2291.2,1570.0 2305.0,1565.0 2303.8,1552.5 2310.0,1546.2 2305.0,1547.5 2275.0,1540.0 2285.0,1525.0 2295.0,1507.5 2305.0,1500.0 2312.5,1497.5 2310.0,1490.0 2300.0,1490.0 2295.0,1485.0 2282.5,1486.2"/>
<polygon class="s" fill="#D14A34" points="2220.0,1395.0 2227.5,1370.0 2245.0,1358.8 2253.8,1366.2 2265.0,1363.8 2268.8,1348.8 2275.0,1346.2 2282.5,1353.8 2297.5,1350.0 2305.0,1357.5 2298.8,1372.5 2310.0,1380.0 2311.2,1390.0 2322.5,1400.0 2307.5,1405.0 2295.0,1407.5 2282.5,1417.5 2267.5,1417.5 2255.0,1405.0 2247.5,1395.0 2232.5,1398.8"/>
<polygon class="s" fill="#F0BC9C" points="2512.5,1490.0 2540.0,1482.5 2545.0,1486.2 2555.0,1485.0 2560.0,1497.5 2567.5,1500.0 2572.5,1507.5 2577.5,1500.0 2590.0,1502.5 2600.0,1512.5 2595.0,1530.0 2597.5,1537.5 2590.0,1540.0 2585.0,1546.2 2590.0,1550.0 2595.0,1557.5 2593.8,1570.0 2588.8,1575.0 2586.2,1583.8 2545.0,1557.5 2493.8,1565.0 2492.5,1547.5 2485.0,1540.0 2482.5,1525.0 2482.5,1517.5 2492.5,1507.5 2502.5,1497.5"/>
<polygon class="s" fill="#E08468" points="2563.8,1540.0 2575.0,1542.5 2585.0,1540.0 2585.0,1546.2 2575.0,1547.5 2567.5,1557.5 2562.5,1550.0"/>
<polygon class="s" fill="#F0BC9C" points="2415.0,1557.5 2467.5,1550.0 2475.0,1552.5 2485.0,1567.5 2495.0,1566.2 2512.5,1587.5 2520.0,1595.0 2527.5,1607.5 2537.5,1612.5 2525.0,1620.0 2525.0,1627.5 2517.5,1632.5 2512.5,1642.5 2507.5,1632.5 2502.5,1617.5 2495.0,1620.0 2490.0,1605.0 2475.0,1610.0 2462.5,1615.0 2460.0,1622.5 2452.5,1620.0 2447.5,1610.0 2440.0,1600.0 2440.0,1595.0 2430.0,1592.5 2432.5,1572.5 2425.0,1562.5"/>
<polygon class="s" fill="#76B3E8" points="2497.5,1475.0 2502.5,1480.0 2507.5,1485.0 2512.5,1482.5 2527.5,1472.5 2527.5,1477.5 2515.0,1487.5 2503.8,1497.5 2492.5,1507.5 2482.5,1517.5 2480.0,1526.2 2485.0,1532.5 2480.0,1540.0 2472.5,1546.2 2470.0,1540.0 2475.0,1532.5 2478.8,1517.5 2490.0,1502.5 2500.0,1492.5"/>
<polygon class="s" fill="#76B3E8" points="2475.0,1615.0 2485.0,1612.5 2490.0,1605.0 2495.0,1620.0 2502.5,1617.5 2507.5,1632.5 2512.5,1642.5 2517.5,1632.5 2525.0,1627.5 2525.0,1620.0 2537.5,1612.5 2555.0,1617.5 2562.5,1622.5 2577.5,1620.0 2575.0,1635.0 2570.0,1650.0 2562.5,1660.0 2545.0,1655.0 2535.0,1667.5 2532.5,1680.0 2537.5,1695.0 2545.0,1700.0 2550.0,1690.0 2547.5,1675.0 2555.0,1670.0 2560.0,1690.0 2555.0,1700.0 2535.0,1710.0 2525.0,1725.0 2477.5,1725.0 2475.0,1710.0 2461.2,1687.5 2480.0,1685.0 2477.5,1667.5 2495.0,1670.0 2497.5,1660.0 2485.0,1655.0 2490.0,1645.0 2482.5,1627.5"/>
<polygon class="s" fill="#E08468" points="2258.8,1631.2 2288.8,1627.5 2300.0,1627.5 2302.5,1635.0 2312.5,1636.2 2313.8,1645.0 2321.2,1650.0 2322.5,1660.0 2300.0,1662.5 2278.8,1667.5 2277.5,1650.0 2258.8,1651.2"/>
<polygon class="s" fill="#76B3E8" points="2270.0,1672.5 2278.8,1667.5 2300.0,1662.5 2322.5,1660.0 2325.0,1667.5 2332.5,1675.0 2325.0,1682.5 2312.5,1680.0 2307.5,1692.5 2302.5,1695.0 2300.0,1687.5 2285.0,1686.2 2275.0,1687.5"/>
<polygon class="s" fill="#2083E0" points="2286.2,1675.0 2295.0,1663.8 2302.5,1665.0 2305.0,1675.0 2307.5,1682.5 2297.5,1680.0"/>
<polygon class="s" fill="#C00A0A" points="2287.5,1650.0 2297.5,1646.2 2300.0,1641.2 2302.5,1647.5 2307.5,1648.8 2302.5,1655.0 2305.0,1661.2 2295.0,1657.5 2290.0,1656.2"/>
<polygon class="s" fill="#2083E0" points="2545.0,1460.0 2552.5,1458.8 2553.8,1470.0 2562.5,1472.5 2570.0,1472.5 2572.5,1482.5 2567.5,1490.0 2561.2,1497.5 2556.2,1492.5 2555.0,1480.0 2550.0,1472.5 2540.0,1470.0"/>
<polygon class="s" fill="#2083E0" points="2573.8,1477.5 2585.0,1475.0 2593.8,1477.5 2595.0,1486.2 2580.0,1485.0"/>
<polygon class="s" fill="#2083E0" points="2572.5,1507.5 2582.5,1505.0 2590.0,1512.5 2592.5,1525.0 2585.0,1527.5 2582.5,1535.0 2575.0,1537.5 2577.5,1525.0 2582.5,1520.0 2580.0,1512.5"/>
<polygon class="s" fill="#F0BC9C" points="1661.7,1496.7 1722.7,1496.0 1725.0,1528.3 1736.7,1600.0 1735.0,1720.0 1713.3,1708.3 1693.3,1698.3 1666.7,1703.3 1633.3,1713.3 1610.0,1701.7 1596.7,1700.0 1601.7,1661.7 1628.3,1650.0 1625.0,1636.7 1626.7,1600.0 1615.0,1598.3 1616.7,1586.7 1640.0,1586.7 1643.3,1571.7 1673.3,1576.7 1690.0,1573.3 1693.3,1558.3 1676.7,1556.7 1666.7,1546.7 1660.0,1536.7"/>
<polygon class="s" fill="#F0BC9C" points="1725.0,1528.3 1836.7,1526.0 1965.0,1519.3 1970.0,1528.3 1966.7,1536.7 1955.0,1551.7 1990.0,1550.0 1986.7,1563.3 1980.0,1573.3 1973.3,1586.7 1973.3,1600.0 1966.7,1620.0 1963.3,1630.0 1953.3,1636.7 1950.0,1650.0 1940.0,1663.3 1933.3,1676.7 1926.7,1690.0 1923.3,1706.7 1920.0,1723.3 1923.3,1740.0 1923.3,1755.0 1873.3,1756.7 1761.7,1759.3 1760.0,1723.3 1740.0,1723.3 1735.0,1720.0 1735.0,1720.0 1736.7,1600.0"/>
<polygon class="s" fill="#E08468" points="1725.0,1528.3 1836.7,1526.0 1835.0,1533.3 1843.3,1546.7 1843.3,1551.7 1820.0,1556.7 1816.7,1576.7 1823.3,1578.3 1821.7,1615.0 1810.0,1616.7 1798.3,1605.0 1801.7,1593.3 1805.0,1563.3 1801.7,1555.0 1786.7,1551.7 1776.7,1541.7 1765.0,1541.7 1760.0,1573.3 1748.3,1578.3 1746.7,1588.3 1748.3,1610.0 1756.7,1615.0 1738.3,1623.3 1736.7,1600.0"/>
<polygon class="s" fill="#E08468" points="1823.3,1578.3 1838.3,1573.3 1853.3,1576.7 1855.0,1598.3 1876.7,1598.3 1878.3,1588.3 1890.0,1586.7 1893.3,1593.3 1905.0,1595.0 1903.3,1613.3 1890.0,1616.7 1876.7,1620.0 1865.0,1621.7 1866.7,1648.3 1870.0,1658.3 1853.3,1660.0 1836.7,1663.3 1825.0,1653.3 1815.0,1646.7 1813.3,1640.0 1800.0,1640.0 1798.3,1635.0 1813.3,1618.3 1810.0,1616.7 1821.7,1615.0"/>
<polygon class="s" fill="#F0BC9C" points="2000.0,1513.3 2078.3,1510.0 2080.0,1520.0 2073.3,1530.0 2073.3,1553.3 2053.3,1556.7 2051.7,1573.3 2046.7,1581.7 2025.0,1585.0 2023.3,1615.0 1966.7,1620.0 1973.3,1600.0 1973.3,1586.7 1980.0,1573.3 1986.7,1563.3 1990.0,1550.0 1993.3,1536.7"/>
<polygon class="s" fill="#B3EEEE" points="1968.3,1593.3 1980.0,1591.7 1988.3,1595.0 1988.3,1603.3 1996.7,1605.0 1993.3,1616.7 1966.7,1619.3 1973.3,1600.0"/>
<polygon class="s" fill="#F0BC9C" points="1966.7,1618.3 2080.0,1610.0 2085.0,1706.7 2083.3,1833.3 2095.0,1920.0 2095.0,1966.7 2026.7,1966.7 2026.7,1933.3 2023.3,1916.7 2016.7,1896.7 2013.3,1885.0 1903.3,1888.3 1908.3,1866.7 1910.0,1850.0 1916.7,1843.3 1920.0,1833.3 1930.0,1820.0 1933.3,1810.0 1940.0,1796.7 1930.0,1783.3 1926.7,1766.7 1923.3,1755.0 1923.3,1740.0 1920.0,1723.3 1923.3,1706.7 1926.7,1690.0 1933.3,1676.7 1940.0,1663.3 1950.0,1650.0 1953.3,1636.7 1963.3,1630.0"/>
<polygon class="s" fill="#B3EEEE" points="1966.7,1628.3 1970.0,1646.7 1998.3,1646.0 2000.0,1670.0 2011.7,1671.7 2018.3,1730.0 2026.7,1730.0 2030.0,1775.0 2006.7,1776.7 1993.3,1781.7 1983.3,1783.3 1966.7,1781.7 1966.7,1786.7 1983.3,1790.0 1980.0,1813.3 1988.3,1825.0 1986.7,1835.0 1953.3,1841.7 1950.0,1846.7 1926.7,1848.3 1920.0,1833.3 1930.0,1820.0 1933.3,1810.0 1940.0,1796.7 1930.0,1783.3 1926.7,1766.7 1923.3,1755.0 1923.3,1740.0 1920.0,1723.3 1923.3,1706.7 1926.7,1690.0 1933.3,1676.7 1940.0,1663.3 1950.0,1650.0 1953.3,1636.7 1963.3,1630.0"/>
<polygon class="s" fill="#F0BC9C" points="1761.7,1759.3 1873.3,1756.7 1923.3,1755.0 1926.7,1766.7 1930.0,1783.3 1940.0,1796.7 1933.3,1810.0 1930.0,1820.0 1920.0,1833.3 1916.7,1843.3 1910.0,1850.0 1908.3,1866.7 1903.3,1888.3 2013.3,1885.0 2016.7,1896.7 2023.3,1916.7 2026.7,1933.3 2053.3,1943.3 2080.0,2020.0 1920.0,2033.3 1773.3,1993.3 1781.7,1963.3 1783.3,1946.7 1781.7,1930.0 1786.7,1916.7 1793.3,1896.7 1791.7,1883.3 1786.7,1870.0 1775.0,1856.7 1770.0,1836.7 1761.7,1823.3"/>
<polygon class="s" fill="#76B3E8" points="1926.7,1916.7 1935.0,1916.7 1938.3,1930.0 1930.0,1936.7 1940.0,1943.3 1953.3,1946.7 1966.7,1941.7 1980.0,1950.0 1993.3,1953.3 2006.7,1946.7 2020.0,1941.7 2023.3,1946.7 2006.7,1956.7 1996.7,1963.3 1993.3,1973.3 1983.3,1973.3 1976.7,1965.0 1960.0,1961.7 1950.0,1965.0 1936.7,1958.3 1935.0,1946.7 1926.7,1940.0"/>
<polygon class="s" fill="#E08468" points="1970.0,1911.7 1986.7,1906.7 2006.7,1908.3 2013.3,1916.7 2023.3,1933.3 2023.3,1940.0 2010.0,1930.0 1986.7,1930.0 1980.0,1936.7 1973.3,1933.3 1968.3,1923.3"/>
<polygon class="s" fill="#E08468" points="1960.0,1973.3 1983.3,1973.3 1993.3,1973.3 1996.7,1963.3 2006.7,1956.7 2023.3,1946.7 2036.7,1950.0 2040.0,1963.3 2030.0,1966.7 2036.7,1980.0 2053.3,1990.0 2065.0,2006.7 2046.7,2020.0 2043.3,2006.7 2026.7,1996.7 2016.7,1983.3 2003.3,1990.0 2000.0,2010.0 1993.3,2013.3 1986.7,2000.0 1970.0,2003.3 1966.7,2013.3 1953.3,2006.7 1940.0,2010.0 1930.0,2003.3 1933.3,1993.3 1956.7,1990.0"/>
<polygon class="s" fill="#E08468" points="2085.0,1705.0 2083.3,1610.0 2222.3,1597.7 2233.3,1640.0 2220.0,1640.0 2213.3,1650.0 2221.7,1663.3 2206.7,1673.3 2200.0,1668.3 2186.7,1665.0 2188.3,1658.3 2176.7,1656.7 2168.3,1665.0 2158.3,1683.3 2155.0,1698.3 2138.3,1708.3 2143.3,1715.0 2130.0,1718.3 2121.7,1723.3 2111.7,1731.7 2108.3,1706.7"/>
<polygon class="s" fill="#B3EEEE" points="2085.0,1708.3 2108.3,1706.7 2111.7,1731.7 2121.7,1723.3 2130.0,1718.3 2143.3,1715.0 2153.3,1708.3 2165.0,1695.0 2173.3,1690.0 2175.0,1695.0 2166.7,1706.7 2156.7,1715.0 2146.7,1720.0 2146.7,1728.3 2136.7,1738.3 2136.7,1746.7 2158.3,1750.0 2166.7,1760.0 2170.0,1776.7 2173.3,1780.0 2200.0,1775.0 2203.3,1780.0 2196.7,1788.3 2200.0,1801.7 2171.7,1806.7 2168.3,1813.3 2138.3,1818.3 2136.7,1836.7 2128.3,1848.3 2123.3,1858.3 2116.7,1861.7 2115.0,1853.3 2120.0,1840.0 2115.0,1833.3 2123.3,1826.7 2120.0,1821.7 2111.7,1833.3 2108.3,1830.0 2083.3,1831.7"/>
<polygon class="s" fill="#76B3E8" points="2290.0,1731.7 2300.0,1728.3 2318.3,1736.7 2323.3,1728.3 2353.3,1721.7 2356.7,1728.3 2346.7,1736.7 2350.0,1743.3 2341.7,1760.0 2356.7,1761.7 2360.0,1791.7 2338.3,1793.3 2336.7,1806.7 2341.7,1826.7 2343.3,1843.3 2338.3,1850.0 2343.3,1871.7 2296.7,1873.3 2286.7,1858.3 2280.0,1846.7 2280.0,1826.7 2273.3,1806.7 2275.0,1786.7 2280.0,1773.3 2278.3,1756.7 2290.0,1750.0"/>
<polygon class="s" fill="#2083E0" points="2253.3,1863.3 2286.7,1858.3 2296.7,1873.3 2380.0,1869.3 2381.7,1886.7 2388.3,1896.7 2393.3,1923.3 2393.3,1933.3 2383.3,1930.0 2373.3,1920.0 2360.0,1913.3 2340.0,1911.7 2333.3,1916.7 2335.0,1923.3 2320.0,1930.0 2300.0,1940.0 2278.3,1946.7 2256.7,1946.7 2235.0,1916.7 2240.0,1890.0 2238.3,1885.0 2246.7,1873.3"/>
<polygon class="s" fill="#D14A34" points="2493.3,1888.3 2501.7,1880.0 2513.3,1898.3 2530.0,1930.0 2546.7,1953.3 2563.3,1976.7 2580.0,1986.7 2580.0,2000.0 2566.7,1993.3 2560.0,1980.0 2550.0,1970.0 2546.7,1973.3 2553.3,1986.7 2555.0,1998.3 2543.3,2000.0 2536.7,1986.7 2528.3,1986.7 2516.7,1983.3 2513.3,1976.7 2521.7,1970.0 2523.3,1963.3 2513.3,1960.0 2503.3,1956.7 2490.0,1940.0 2476.7,1930.0 2486.7,1920.0 2496.7,1916.7 2500.0,1910.0 2496.7,1906.7 2491.7,1896.7"/>
<polygon class="s" fill="#D14A34" points="2440.0,1971.7 2466.7,1953.3 2470.0,1941.7 2483.3,1940.0 2493.3,1950.0 2503.3,1963.3 2488.3,1968.3 2486.7,1973.3 2490.0,2003.3 2486.7,2020.0 2463.3,2028.3 2456.7,2033.3 2433.3,2040.0 2433.3,2016.7 2448.3,2010.0 2446.7,1986.7"/>
<polygon class="s" fill="#D14A34" points="2555.0,1998.3 2566.7,1993.3 2580.0,2000.0 2593.3,2026.7 2603.3,2043.3 2595.0,2046.7 2576.7,2048.3 2566.7,2045.0 2563.3,2030.0 2558.3,2010.0"/>
<polygon class="s" fill="#76B3E8" points="2455.0,1923.3 2476.7,1916.7 2486.7,1913.3 2496.7,1906.7 2500.0,1910.0 2496.7,1916.7 2486.7,1920.0 2476.7,1930.0 2490.0,1940.0 2503.3,1956.7 2513.3,1960.0 2523.3,1963.3 2521.7,1970.0 2513.3,1976.7 2506.7,1986.7 2505.0,1973.3 2500.0,1960.0 2486.7,1946.7 2483.3,1940.0 2470.0,1941.7 2463.3,1936.7"/>
<polygon class="s" fill="#76B3E8" points="2510.0,2010.0 2520.0,2001.7 2526.7,1990.0 2536.7,1986.7 2543.3,2000.0 2555.0,1998.3 2558.3,2010.0 2563.3,2030.0 2566.7,2045.0 2548.3,2048.3 2536.7,2033.3 2523.3,2025.0 2513.3,2028.3"/>
<polygon class="s" fill="#C00A0A" points="2438.3,2038.3 2451.7,2038.3 2456.7,2051.7 2451.7,2063.3 2438.3,2056.7"/>
<polygon class="s" fill="#2083E0" points="2456.7,2036.7 2466.7,2033.3 2473.3,2038.3 2473.3,2053.3 2466.7,2061.7 2465.0,2048.3 2460.0,2043.3"/>
<polygon class="s" fill="#D14A34" points="2453.3,2070.0 2476.7,2061.7 2485.0,2076.7 2486.7,2088.3 2498.3,2088.3 2505.0,2101.7 2496.7,2113.3 2480.0,2110.0 2470.0,2096.7 2460.0,2086.7"/>
<polygon class="s" fill="#1E40B4" points="2576.7,2048.3 2595.0,2046.7 2603.3,2043.3 2626.7,2086.7 2623.3,2093.3 2618.3,2101.7 2606.7,2100.0 2590.0,2090.0 2573.3,2090.0 2581.7,2076.7"/>
<polygon class="s" fill="#2083E0" points="2560.0,2105.0 2573.3,2090.0 2590.0,2090.0 2606.7,2100.0 2618.3,2101.7 2615.0,2113.3 2620.0,2126.7 2621.7,2140.0 2610.0,2143.3 2581.7,2143.3 2555.0,2141.7 2558.3,2130.0 2563.3,2121.7"/>
<polygon class="s" fill="#1E40B4" points="2606.7,2100.0 2623.3,2093.3 2633.3,2113.3 2633.3,2133.3 2621.7,2140.0 2620.0,2126.7 2615.0,2113.3 2618.3,2101.7"/>
<polygon class="s" fill="#D14A34" points="2500.0,2113.3 2520.0,2121.7 2533.3,2111.7 2558.3,2108.3 2563.3,2121.7 2558.3,2130.0 2555.0,2141.7 2581.7,2143.3 2610.0,2143.3 2610.7,2148.3 2618.3,2150.0 2620.0,2163.3 2616.7,2173.3 2618.3,2190.0 2623.3,2206.7 2560.0,2206.7 2520.0,2160.0 2506.7,2130.0"/>
<polygon class="s" fill="#0A0A8C" points="2610.0,2143.3 2631.7,2142.7 2631.7,2148.3 2610.7,2148.3"/>
<polygon class="s" fill="#2083E0" points="2620.0,2150.0 2631.7,2148.3 2631.7,2160.0 2623.3,2163.3"/>
<polygon class="s" fill="#C00A0A" points="2620.0,2163.3 2631.7,2161.7 2631.7,2206.7 2621.7,2206.7 2618.3,2190.0"/>
<polygon class="s" fill="#76B3E8" points="873.3,1440.0 953.3,1443.3 908.3,1745.0 873.3,1741.7"/>
<polygon class="s" fill="#D14A34" points="873.3,1741.7 908.3,1745.0 898.3,1818.3 873.3,1816.7"/>
<polygon class="s" fill="#2083E0" points="953.3,1443.3 1160.0,1470.0 1275.0,1480.0 1270.0,1515.0 1260.0,1630.0 1256.7,1671.7 1248.3,1666.7 1241.7,1668.3 1235.0,1671.7 1233.3,1658.3 1220.0,1656.7 1221.7,1636.7 1200.0,1633.3 1203.3,1595.0 1140.0,1590.0 1133.3,1650.0 1073.3,1644.0 1071.7,1613.3 1060.0,1606.7 1076.7,1596.7 1068.3,1593.3 1043.3,1596.7 1035.0,1569.3 1010.0,1566.0 965.0,1560.7 963.3,1571.7 948.3,1573.3 936.7,1563.3"/>
<polygon class="s" fill="#76B3E8" points="1041.7,1793.3 1076.7,1798.3 1075.0,1818.3 1055.0,1815.0 1043.3,1805.0"/>
<polygon class="s" fill="#F0BC9C" points="1055.0,1815.0 1075.0,1818.3 1076.7,1798.3 1245.0,1813.3 1260.0,1808.3 1258.3,1838.3 1345.0,1845.0 1343.3,1883.3 1410.0,1886.7 1408.3,1940.0 1428.3,1941.7 1426.7,1955.0 1413.3,1956.7 1411.7,1983.3 1473.3,1990.0 1480.0,2006.7 1046.7,2006.7 1046.7,1815.0"/>
<polygon class="s" fill="#F0BC9C" points="1270.0,1515.0 1433.3,1525.0 1428.3,1651.7 1443.3,1665.0 1460.0,1663.3 1468.3,1668.3 1471.7,1678.3 1496.7,1683.3 1513.3,1690.0 1533.3,1686.7 1543.3,1703.3 1556.7,1696.7 1573.3,1706.7 1583.3,1710.0 1590.0,1700.0 1596.7,1703.3 1596.7,1700.0 1606.7,1703.3 1633.3,1713.3 1653.3,1705.0 1673.3,1700.0 1693.3,1698.3 1713.3,1710.0 1735.0,1720.0 1740.0,1723.3 1760.0,1723.3 1761.7,1759.3 1761.7,1823.3 1770.0,1836.7 1775.0,1856.7 1786.7,1870.0 1791.7,1883.3 1793.3,1896.7 1786.7,1916.7 1781.7,1930.0 1783.3,1946.7 1781.7,1963.3 1773.3,1980.0 1773.3,2000.0 1620.0,2066.7 1573.3,2066.7 1573.3,2040.0 1590.0,2026.7 1576.7,2010.0 1583.3,1986.7 1613.3,2013.3 1626.7,2000.0 1646.7,1983.3 1660.0,1980.0 1646.7,1990.0 1653.3,2010.0 1666.7,2013.3 1683.3,2006.7 1686.7,1996.7 1700.0,1993.3 1696.7,1980.0 1706.7,1970.0 1706.7,1960.0 1700.0,1940.0 1716.7,1928.3 1703.3,1920.0 1696.7,1906.7 1716.7,1886.7 1706.7,1866.7 1696.7,1858.3 1668.3,1861.7 1666.7,1858.3 1653.3,1846.7 1646.7,1830.0 1608.3,1841.7 1596.7,1826.7 1588.3,1810.0 1586.7,1793.3 1616.7,1791.7 1620.0,1775.0 1620.0,1766.7 1626.7,1753.3 1628.3,1740.0 1620.0,1740.0 1603.3,1746.7 1602.7,1735.0 1571.7,1735.0 1571.7,1746.7 1558.3,1746.7 1563.3,1750.0 1558.3,1760.0 1533.3,1761.7 1505.0,1763.3 1503.3,1775.0 1475.0,1776.7 1473.3,1790.0 1441.7,1790.0 1441.7,1818.3 1420.0,1820.0 1420.0,1790.0 1443.3,1791.7 1441.7,1819.3 1383.3,1816.7 1383.3,1788.3 1355.0,1786.7 1353.3,1815.0 1325.0,1813.3 1326.7,1755.0 1298.3,1753.3 1296.7,1781.7 1248.3,1780.0 1256.7,1671.7 1260.0,1630.0"/>
<polygon class="s" fill="#F0BC9C" points="1538.3,1891.7 1566.7,1876.7 1586.7,1896.7 1573.3,1911.7 1581.7,1933.3 1566.7,1936.7 1546.7,1930.0 1530.0,1920.0"/>
<polygon class="s" fill="#F0BC9C" points="1571.7,1790.0 1590.0,1780.0 1591.7,1791.7 1616.7,1791.7 1586.7,1793.3 1556.7,1806.7 1556.7,1791.7"/>
<polygon class="s" fill="#76B3E8" points="1591.7,1776.7 1613.3,1776.7 1616.7,1791.7 1591.7,1791.7"/>
<polygon class="s" fill="#76B3E8" points="1571.7,1780.0 1580.0,1776.7 1576.7,1786.7 1570.0,1790.0"/>
<polygon class="s" fill="#D14A34" points="1420.0,1941.7 1455.0,1940.0 1456.7,1930.0 1510.0,1928.3 1523.3,1933.3 1516.7,1960.0 1530.0,1966.7 1536.7,1960.0 1538.3,1966.7 1520.0,1980.0 1503.3,1990.0 1500.0,1980.0 1473.3,1990.0 1471.7,1985.0 1420.0,1986.7 1411.7,1983.3 1411.7,1956.7 1426.7,1955.0 1428.3,1941.7 1456.7,1940.0 1456.7,1928.3"/>
<polygon class="s" fill="#2083E0" points="1536.7,1960.0 1550.0,1943.3 1558.3,1946.7 1553.3,1963.3 1546.7,1976.7 1540.0,1973.3"/>
<polygon class="s" fill="#76B3E8" points="1670.0,1966.7 1683.3,1960.0 1696.7,1970.0 1700.0,1983.3 1686.7,1990.0 1673.3,1983.3"/>
<polygon class="s" fill="#B3EEEE" points="1483.3,2013.3 1503.3,2020.0 1516.7,1993.3 1533.3,1976.7 1546.7,1983.3 1550.0,1993.3 1576.7,2010.0 1590.0,2026.7 1573.3,2040.0 1580.0,2066.7 1480.0,2066.7"/>
<polygon class="s" fill="#76B3E8" points="1485.0,1996.7 1495.0,1988.3 1503.3,1993.3 1506.7,2006.7 1493.3,2008.3"/>
<polygon class="s" fill="#2083E0" points="1724.0,1346.7 1733.3,1348.3 1738.3,1360.0 1748.3,1359.3 1746.7,1350.0 1743.3,1326.7 1766.0,1326.7 1766.0,1345.0 1776.7,1343.3 1786.7,1338.3 1796.7,1333.3 1810.0,1340.0 1811.7,1348.3 1803.3,1363.3 1748.3,1365.0 1746.7,1371.7 1724.0,1371.7"/>
<polygon class="s" fill="#C00A0A" points="1923.3,1371.7 1933.3,1370.0 1940.0,1371.7 1948.3,1386.7 1945.0,1391.7 1936.7,1386.7 1928.3,1388.3"/>
<polygon class="s" fill="#2083E0" points="1940.0,1365.0 1948.3,1360.0 1955.0,1363.3 1951.7,1380.0 1948.3,1383.3 1943.3,1373.3"/>
<polygon class="s" fill="#1E40B4" points="2106.7,1520.0 2116.7,1516.7 2126.7,1510.0 2133.3,1516.7 2146.7,1510.0 2158.3,1521.7 2160.0,1533.3 2143.3,1533.3 2126.7,1540.0 2110.0,1540.0 2106.7,1530.0"/>
<polygon class="s" fill="#1E40B4" points="330.0,1433.3 366.7,1433.3 373.3,1460.0 383.3,1471.7 401.7,1478.3 401.7,1503.3 390.0,1500.0 380.0,1490.0 366.7,1488.3 363.3,1493.3 343.3,1500.0 323.3,1490.0"/>
<polygon class="s" fill="#2083E0" points="363.3,1493.3 366.7,1488.3 380.0,1490.0 390.0,1500.0 401.7,1503.3 405.0,1511.7 395.0,1521.7 376.7,1526.7 363.3,1506.7"/>
<polygon class="s" fill="#F0BC9C" points="366.7,1433.3 481.7,1433.3 460.0,1533.3 466.7,1491.7 456.7,1493.3 443.3,1491.7 430.0,1495.0 428.3,1485.0 401.7,1478.3 383.3,1471.7 373.3,1460.0"/>
<polygon class="s" fill="#FFEBDA" points="386.7,1440.0 413.3,1440.0 415.0,1450.0 406.7,1463.3 395.0,1451.7"/>
<polygon class="s" fill="#F0BC9C" points="481.7,1433.3 581.7,1433.3 631.7,1518.3 630.0,1528.3 636.7,1540.0 640.0,1556.7 650.0,1571.7 630.0,1581.7 581.7,1575.0 493.3,1555.0 485.0,1550.0 476.7,1540.0 460.0,1533.3"/>
<polygon class="s" fill="#D14A34" points="581.7,1433.3 611.7,1433.3 640.0,1446.7 641.7,1473.3 636.7,1490.0 638.3,1511.7 631.7,1518.3"/>
<polygon class="s" fill="#76B3E8" points="493.3,1555.0 581.7,1575.0 630.0,1581.7 623.3,1590.0 620.0,1606.7 615.0,1620.0 530.0,1605.0 490.0,1595.0 488.3,1590.0 490.0,1580.0 486.7,1573.3 493.3,1575.0"/>
<polygon class="s" fill="#76B3E8" points="530.0,1605.0 615.0,1620.0 606.7,1621.7 603.3,1640.0 610.0,1651.7 611.7,1663.3 596.7,1668.3 458.3,1653.3 470.0,1648.3 476.7,1643.3 486.7,1636.7 496.7,1640.0 510.0,1646.7 520.0,1650.0"/>
<polygon class="s" fill="#76B3E8" points="758.3,1453.3 758.3,1440.0 930.0,1433.3 953.3,1443.3 908.3,1745.0 830.0,1733.3 830.0,1726.7 810.0,1725.0 795.0,1731.7 791.7,1730.0 786.7,1723.3 778.3,1716.7 755.0,1715.0 758.3,1698.3 761.7,1696.7 750.0,1695.0 735.0,1698.3 740.0,1661.7 756.7,1663.3 760.0,1666.7 776.7,1675.0 780.0,1686.7 786.7,1685.0 796.7,1680.0 803.3,1671.7 811.7,1670.0 806.7,1653.3 800.0,1645.0 811.7,1636.7 815.0,1650.0 826.7,1646.7 831.7,1605.0 815.0,1595.0 800.0,1593.3 793.3,1586.7 783.3,1591.7 778.3,1583.3 771.7,1571.7 776.7,1563.3 771.7,1560.0 773.3,1551.7 756.7,1546.7 751.7,1526.7 735.0,1520.0 723.3,1511.7 708.3,1501.7 693.3,1498.3 686.7,1486.7 680.0,1485.0 675.0,1478.3 681.7,1476.7 688.3,1458.3 695.0,1473.3 705.0,1483.3 713.3,1480.0 716.7,1463.3 743.3,1456.7"/>
<polygon class="s" fill="#B3EEEE" points="683.3,1630.0 730.0,1645.0 736.7,1648.3 738.3,1660.0 740.0,1661.7 735.0,1698.3 750.0,1695.0 761.7,1696.7 758.3,1698.3 755.0,1715.0 778.3,1716.7 786.7,1723.3 791.7,1730.0 800.0,1743.3 801.7,1751.7 790.0,1760.0 788.3,1773.3 820.0,1780.0 816.7,1810.0 781.7,1805.0 583.3,1683.3 596.7,1668.3 600.0,1676.7 613.3,1680.0 633.3,1685.0 650.0,1680.0 673.3,1680.0"/>
<polygon class="s" fill="#D14A34" points="795.0,1731.7 810.0,1725.0 830.0,1726.7 830.0,1733.3 908.3,1745.0 898.3,1818.3 816.7,1805.0 820.0,1780.0 788.3,1773.3 790.0,1760.0 801.7,1751.7 800.0,1743.3"/>
<polygon class="s" fill="#D14A34" points="750.0,1630.0 761.7,1621.7 770.0,1626.7 776.7,1636.7 775.0,1648.3 763.3,1650.0 755.0,1643.3"/>
<polygon class="s" fill="#B3EEEE" points="743.3,1643.3 753.3,1643.3 755.0,1656.7 745.0,1658.3"/>
<polygon class="s" fill="#1E40B4" points="753.3,1643.3 760.0,1653.3 763.3,1658.3 756.7,1661.7"/>
<polygon class="s" fill="#F0BC9C" points="1080.0,1866.7 1410.0,1866.7 1410.0,1886.7 1408.3,1940.0 1413.3,1955.0 1411.7,1976.7 1413.3,1983.3 1471.7,1986.7 1475.0,1991.7 1485.0,1981.7 1500.0,1978.3 1506.7,1990.0 1513.3,1991.7 1505.0,2000.0 1510.0,2005.0 1503.3,2020.0 1481.7,2015.0 1480.0,2083.3 1401.7,2082.7 1380.0,2113.3 1080.0,2113.3"/>
<polygon class="s" fill="#F0BC9C" points="1553.3,1991.7 1551.7,1986.7 1560.0,1951.7 1566.7,1953.3 1580.0,1963.3 1573.3,1976.7 1613.3,2010.0 1630.0,2003.3 1646.7,1991.7 1660.0,2013.3 1666.7,2030.0 1676.7,2043.3 1696.7,2053.3 1580.0,2180.0 1570.0,2128.3 1573.3,2113.3 1560.0,2100.0 1555.0,2093.3 1560.0,2083.3 1578.3,2063.3 1579.3,2045.0 1571.7,2043.3 1578.3,2036.7 1591.7,2025.0 1576.7,2006.7"/>
<polygon class="s" fill="#B3EEEE" points="1401.7,2082.7 1480.0,2083.3 1481.7,2015.0 1503.3,2020.0 1510.0,2005.0 1505.0,2000.0 1513.3,1991.7 1526.7,1983.3 1543.3,1976.7 1551.7,1986.7 1553.3,1991.7 1576.7,2006.7 1591.7,2025.0 1578.3,2036.7 1571.7,2043.3 1579.3,2045.0 1578.3,2063.3 1560.0,2083.3 1555.0,2093.3 1560.0,2100.0 1550.0,2103.3 1545.0,2096.7 1536.7,2103.3 1531.7,2113.3 1533.3,2123.3 1538.3,2129.3 1570.0,2128.3 1600.0,2128.3 1600.0,2263.3 1446.7,2263.3 1380.0,2096.7"/>
<polygon class="s" fill="#F0BC9C" points="1531.7,2113.3 1536.7,2103.3 1545.0,2096.7 1550.0,2103.3 1560.0,2100.0 1573.3,2113.3 1580.0,2128.3 1538.3,2129.3 1533.3,2123.3"/>
<polygon class="s" fill="#D14A34" points="1413.3,1955.0 1428.3,1955.0 1429.3,1941.7 1456.7,1941.7 1456.7,1928.3 1510.0,1929.3 1525.0,1935.0 1516.7,1960.0 1526.7,1966.7 1535.0,1956.7 1540.0,1963.3 1520.0,1980.0 1506.7,1990.0 1500.0,1978.3 1485.0,1981.7 1475.0,1991.7 1471.7,1986.7 1413.3,1983.3 1411.7,1976.7"/>
<polygon class="s" fill="#2083E0" points="1540.0,1963.3 1545.0,1951.7 1556.7,1943.3 1560.0,1951.7 1551.7,1968.3 1545.0,1976.7 1535.0,1973.3"/>
<polygon class="s" fill="#76B3E8" points="1485.0,1996.7 1493.3,1988.3 1501.7,1993.3 1505.0,2006.7 1495.0,2008.3 1488.3,2001.7"/>
<polygon fill="#D14A34" stroke="#D14A34" stroke-width="1" points="970.0,1323.3 1103.3,1323.3 1113.3,1336.7 1105.0,1346.7 1110.0,1363.3 1123.3,1370.0 1136.7,1381.7 1180.0,1386.7 1181.7,1370.0 1228.3,1373.3 1223.3,1425.0 1210.0,1420.0 1200.0,1428.3 1195.0,1436.7 1186.7,1443.3 1173.3,1445.0 1161.7,1451.7 1160.0,1469.3 953.3,1442.7 966.7,1323.3"/>
<polygon class="s" fill="#D14A34" points="2456.7,2071.7 2465.0,2068.3 2475.8,2062.5 2480.0,2061.7 2475.8,2066.7 2482.5,2073.3 2485.8,2088.3 2497.5,2086.7 2499.2,2097.5 2488.3,2103.3 2495.0,2107.5 2495.8,2115.8 2488.3,2113.3 2480.8,2108.3 2475.8,2100.0 2472.5,2092.5 2466.7,2089.2 2465.8,2081.7 2456.7,2075.8"/>
<polygon class="s" fill="#D14A34" points="2502.5,2115.8 2510.0,2115.0 2513.3,2120.0 2520.0,2118.3 2525.0,2122.5 2533.3,2121.7 2533.3,2111.7 2538.3,2109.2 2559.2,2108.3 2564.2,2115.8 2561.7,2116.7 2562.5,2129.2 2554.2,2132.5 2556.7,2143.3 2580.0,2140.0 2581.7,2145.0 2608.3,2142.5 2610.0,2148.3 2616.7,2150.0 2621.7,2158.3 2621.7,2160.8 2620.8,2166.7 2620.8,2175.0 2620.8,2178.3 2618.3,2183.3 2615.8,2186.7 2618.3,2193.3 2621.7,2196.7 2631.7,2196.7 2631.7,2226.7 2570.0,2226.7 2520.0,2166.7 2500.0,2123.3"/>
<polygon class="s" fill="#0A0A8C" points="2609.2,2143.3 2631.7,2143.3 2631.7,2148.3 2616.7,2150.0 2610.0,2148.3"/>
<polygon class="s" fill="#2083E0" points="2616.7,2150.0 2631.7,2148.3 2631.7,2163.3 2625.0,2165.0 2621.7,2158.3"/>
<polygon class="s" fill="#C00A0A" points="2621.7,2160.8 2625.8,2165.0 2631.7,2165.0 2631.7,2173.3 2623.3,2173.3 2620.8,2175.0 2620.8,2166.7"/>
<polygon class="s" fill="#C00A0A" points="2620.8,2178.3 2623.3,2183.3 2624.2,2191.7 2621.7,2196.7 2618.3,2193.3 2615.8,2186.7 2618.3,2183.3"/>
<polygon fill="#1E40B4" stroke="#1E40B4" stroke-width="1" points="2704.8,1068.6 2716.9,1060.9 2721.3,1054.3 2738.9,1051.0 2741.1,1042.2 2745.5,1047.7 2755.4,1051.0 2760.9,1048.8 2760.9,1035.6 2859.8,1035.6 2853.2,1040.0 2843.3,1043.3 2832.3,1046.6 2822.4,1048.8 2821.3,1052.1 2811.4,1054.3 2802.6,1057.6 2796.0,1062.0 2788.4,1069.7 2777.4,1076.3 2766.4,1084.0 2762.0,1091.6 2757.6,1087.8 2754.8,1090.5 2752.1,1091.6 2751.0,1087.3 2734.5,1081.8 2708.1,1076.8"/>
<polygon class="s" fill="#C00A0A" points="2708.1,1076.8 2734.5,1081.8 2751.0,1087.3 2752.1,1091.6 2749.9,1091.6 2743.3,1097.1 2740.0,1103.7 2741.1,1110.3 2745.5,1114.7 2752.1,1116.9 2751.0,1119.1 2745.5,1124.6 2743.3,1121.3 2738.9,1120.2 2733.4,1123.5 2727.9,1127.9 2726.8,1135.6 2722.4,1136.7 2716.9,1138.9 2714.7,1142.2 2707.0,1138.9 2703.7,1133.4 2697.1,1130.1 2694.9,1122.4 2697.1,1116.9 2696.0,1111.4 2694.9,1104.8 2701.5,1092.7 2703.7,1084.0"/>
<polygon class="s" fill="#0A0A8C" points="2715.8,1091.6 2721.3,1090.5 2724.6,1091.6 2731.2,1088.4 2734.5,1091.6 2738.9,1093.8 2740.0,1099.3 2737.8,1105.9 2734.5,1110.3 2729.0,1113.6 2724.6,1111.4 2721.3,1108.1 2723.5,1104.8 2719.1,1101.5 2714.7,1102.6 2713.6,1099.3"/>
<polygon class="s" fill="#D14A34" points="2732.3,1124.6 2738.9,1120.2 2743.3,1121.3 2742.2,1127.9 2736.7,1126.8"/>
<polygon class="s" fill="#D14A34" points="2745.5,1129.0 2748.8,1130.1 2748.2,1136.7 2745.5,1134.5"/>
<polygon fill="#7C7C82" stroke="#7C7C82" stroke-width="1" points="2749.9,1091.6 2760.9,1090.5 2764.2,1097.1 2765.3,1101.5 2768.6,1104.8 2770.8,1109.2 2760.9,1115.8 2752.1,1116.9 2745.5,1114.7 2741.1,1110.3 2740.0,1103.7 2743.3,1097.1"/>
<polygon class="s" fill="#2083E0" points="2754.8,1090.5 2757.6,1087.8 2761.4,1089.5 2760.9,1093.3 2756.5,1094.4"/>
<polygon class="s" fill="#2083E0" points="2742.2,1097.1 2745.5,1098.2 2748.8,1103.7 2745.5,1104.8"/>
<polygon class="s" fill="#E08468" points="2740.5,1105.9 2742.2,1105.9 2742.7,1111.4 2740.9,1111.4"/>
<polygon class="s" fill="#0A0A8C" points="2756.5,1102.6 2762.0,1102.6 2762.0,1105.9 2757.6,1105.9"/>
<polygon class="s" fill="#D14A34" points="2777.4,1107.0 2786.2,1101.5 2793.8,1098.2 2801.5,1097.1 2804.8,1094.9 2811.4,1089.5 2820.2,1084.0 2826.8,1077.4 2833.4,1071.9 2841.1,1066.4 2846.6,1062.0 2851.5,1057.6 2847.7,1056.5 2843.3,1062.0 2835.6,1063.6 2830.1,1066.4 2826.8,1071.9 2820.2,1076.3 2818.0,1073.0 2824.6,1065.3 2826.8,1060.9 2830.1,1058.1 2826.8,1057.6 2821.3,1063.1 2815.8,1069.7 2810.3,1073.0 2802.6,1076.3 2791.6,1080.7 2786.2,1085.1 2786.2,1088.4 2785.1,1093.8 2778.5,1097.1 2777.4,1101.5"/>
<polygon class="s" fill="#0A0A8C" points="2764.2,1097.1 2769.7,1091.6 2777.4,1088.4 2786.2,1088.4 2785.1,1093.8 2778.5,1097.1 2771.9,1099.3 2765.3,1101.5"/>
<polygon class="s" fill="#1E40B4" points="2768.6,1104.8 2774.1,1101.5 2777.4,1104.8 2770.8,1109.2"/>
<polygon class="s" fill="#2083E0" points="2763.1,1105.9 2767.5,1104.8 2766.4,1108.1 2763.1,1109.2"/>
<polygon class="s" fill="#2083E0" points="2716.9,1144.4 2722.4,1137.8 2726.8,1135.6 2727.9,1127.9 2731.2,1127.4 2733.4,1131.2 2738.9,1131.2 2743.3,1134.5 2741.1,1140.0 2736.7,1144.4 2733.4,1142.2 2725.7,1144.4 2723.5,1147.7"/>
<polygon class="s" fill="#1E40B4" points="2725.7,1147.7 2733.4,1142.2 2736.7,1144.4 2741.1,1140.0 2743.3,1134.5 2745.5,1134.5 2748.2,1136.7 2748.8,1131.2 2752.1,1131.2 2756.5,1131.2 2761.4,1133.4 2762.0,1151.0 2759.2,1158.7 2760.9,1160.9 2759.8,1171.9 2756.5,1176.3 2749.9,1175.2 2745.5,1176.3 2738.9,1178.5 2733.4,1180.7 2725.7,1177.4 2721.3,1170.8 2715.8,1165.3 2719.1,1159.8 2725.7,1153.2"/>
<polygon class="s" fill="#C00A0A" points="2685.1,1145.5 2697.1,1131.2 2703.7,1133.4 2707.0,1138.9 2714.7,1142.2 2716.9,1144.4 2723.5,1147.7 2725.7,1153.2 2719.1,1159.8 2715.8,1158.7 2708.1,1154.3 2699.3,1152.1 2693.8,1154.3 2686.2,1153.2 2684.0,1149.9"/>
<polygon class="s" fill="#2083E0" points="2704.8,1160.9 2708.1,1157.6 2715.8,1158.7 2715.8,1165.3 2721.3,1170.8 2725.7,1177.4 2730.1,1186.2 2727.9,1192.7 2723.5,1190.5 2716.9,1186.2 2712.5,1184.0 2708.1,1181.8 2701.5,1186.2 2699.3,1185.1 2703.7,1178.5 2708.1,1174.1 2710.3,1169.7 2705.9,1166.4"/>
<polygon class="s" fill="#E08468" points="2635.6,1149.9 2654.3,1138.9 2656.5,1134.5 2667.5,1126.8 2678.5,1120.2 2686.2,1115.8 2690.5,1116.9 2693.8,1120.2 2692.7,1127.9 2687.3,1131.2 2688.4,1132.3 2692.7,1131.2 2694.9,1126.8 2697.1,1130.1 2685.1,1145.5 2684.0,1149.9 2679.6,1145.5 2670.8,1148.8 2665.3,1144.4 2662.0,1146.6 2651.0,1156.5 2635.6,1165.3"/>
<polygon class="s" fill="#1E40B4" points="2687.3,1121.3 2692.7,1121.3 2691.6,1126.8 2687.3,1127.9"/>
<polygon class="s" fill="#1E40B4" points="2635.6,1121.3 2655.4,1122.4 2666.4,1115.8 2673.0,1110.3 2676.3,1105.9 2667.5,1101.5 2665.3,1096.0 2679.6,1091.6 2679.6,1105.9 2684.0,1108.1 2688.4,1105.9 2694.9,1110.3 2696.0,1115.8 2693.8,1120.2 2690.5,1116.9 2686.2,1115.8 2678.5,1120.2 2667.5,1126.8 2656.5,1134.5 2654.3,1138.9 2635.6,1149.9 2622.5,1155.0 2622.5,1142.5"/>
<polygon class="s" fill="#1E40B4" points="2652.1,1091.6 2659.8,1084.0 2663.1,1076.3 2666.4,1077.4 2665.3,1087.3 2667.5,1089.5 2654.3,1096.0"/>
<polygon class="s" fill="#1E40B4" points="2688.4,1094.9 2692.7,1094.4 2696.0,1099.3 2691.6,1102.6 2688.4,1100.4"/>
<polygon class="s" fill="#E08468" points="2625.0,1147.5 2632.5,1147.5 2640.0,1140.0 2635.0,1157.5 2642.5,1165.0 2632.5,1172.5 2625.0,1165.0 2622.5,1155.0"/>
<polygon class="s" fill="#C00A0A" points="2635.6,1164.2 2651.0,1156.5 2662.0,1146.6 2665.3,1144.4 2670.8,1148.8 2679.6,1145.5 2684.0,1149.9 2686.2,1153.2 2690.5,1163.1 2696.0,1169.7 2699.3,1176.3 2696.0,1181.8 2691.6,1180.7 2686.2,1178.5 2682.9,1181.8 2677.4,1180.7 2674.1,1185.1 2674.1,1189.5 2664.2,1189.5 2662.0,1185.1 2657.6,1178.5 2662.0,1176.3 2669.7,1169.7 2671.9,1165.3 2667.5,1162.0 2662.0,1160.9 2659.8,1158.7 2653.2,1162.0 2646.6,1164.2 2635.6,1169.7 2640.0,1160.0"/>
<polygon fill="#7C7C82" stroke="#7C7C82" stroke-width="1" points="2659.8,1154.3 2667.5,1148.8 2676.3,1149.9 2678.5,1156.5 2676.3,1163.1 2670.8,1160.9 2665.3,1156.5"/>
<polygon fill="#C00A0A" stroke="#C00A0A" stroke-width="1" points="2663.6,1152.1 2667.5,1149.9 2673.0,1151.0 2675.2,1156.5 2673.0,1159.8 2669.7,1155.4"/>
<polygon fill="#7C7C82" stroke="#7C7C82" stroke-width="1" points="2691.6,1158.7 2699.3,1152.1 2708.1,1154.3 2705.9,1160.9 2704.8,1166.4 2699.3,1168.6 2694.9,1166.4"/>
<polygon class="s" fill="#2083E0" points="2699.3,1168.6 2705.9,1166.4 2710.3,1169.7 2708.1,1174.1 2703.7,1178.5 2699.3,1176.3 2696.0,1169.7"/>
<polygon fill="#2083E0" stroke="#2083E0" stroke-width="1" points="2701.5,1159.8 2705.9,1156.5 2707.6,1159.8 2703.7,1162.0"/>
<polygon class="s" fill="#E08468" points="2580.0,1266.2 2597.5,1266.2 2596.9,1273.8 2601.2,1277.5 2600.0,1285.0 2598.8,1291.2 2595.0,1292.5 2592.5,1288.8 2587.5,1285.0 2577.5,1297.5 2575.0,1300.0 2582.5,1307.5 2583.8,1312.5 2577.5,1317.5 2573.8,1317.5 2571.2,1322.5 2578.8,1325.0 2577.5,1333.8 2590.0,1338.8 2588.8,1347.5 2593.8,1353.8 2592.5,1365.0 2590.0,1371.2 2590.0,1375.0 2592.5,1391.2 2600.0,1395.0 2610.0,1396.2 2618.8,1395.0 2626.2,1401.2 2627.5,1408.8 2626.2,1421.2 2587.5,1432.5 2541.2,1440.5 2517.5,1440.5 2517.5,1427.5 2500.0,1428.8 2500.0,1407.5 2506.2,1401.2 2506.2,1393.8 2516.2,1385.0 2530.0,1383.8 2530.0,1390.0 2533.8,1393.8 2538.8,1386.2 2546.2,1381.2 2553.8,1371.2 2541.2,1360.0 2534.4,1350.0 2537.5,1348.8 2546.2,1345.0 2550.0,1333.8 2551.2,1325.0 2560.0,1315.0 2562.5,1305.0 2567.5,1293.8 2567.5,1287.5 2575.0,1277.5"/>
<polygon class="s" fill="#D14A34" points="2587.5,1285.0 2592.5,1288.8 2595.0,1292.5 2606.2,1301.2 2610.0,1307.5 2620.0,1311.2 2611.2,1327.5 2623.8,1336.2 2635.0,1341.2 2643.8,1345.0 2650.0,1348.8 2662.5,1351.2 2665.0,1353.1 2660.0,1355.0 2655.0,1356.2 2637.5,1353.8 2627.5,1348.8 2625.0,1358.8 2617.5,1362.5 2615.0,1355.0 2612.5,1361.2 2608.8,1370.0 2607.5,1367.5 2615.0,1356.2 2603.8,1352.5 2600.0,1350.0 2593.8,1353.8 2588.8,1347.5 2590.0,1338.8 2577.5,1333.8 2578.8,1325.0 2571.2,1322.5 2573.8,1317.5 2577.5,1317.5 2583.8,1312.5 2582.5,1307.5 2575.0,1300.0 2577.5,1297.5"/>
<polygon class="s" fill="#E08468" points="2601.2,1277.5 2606.2,1276.2 2612.5,1280.0 2620.0,1285.0 2622.5,1295.0 2625.0,1300.0 2637.5,1300.0 2642.5,1305.0 2650.0,1307.5 2662.5,1307.5 2667.5,1312.5 2675.0,1315.0 2683.8,1318.8 2683.8,1336.2 2685.0,1340.0 2691.2,1352.5 2692.5,1367.5 2695.0,1375.0 2690.0,1378.8 2685.0,1373.8 2672.5,1368.8 2666.2,1367.5 2660.0,1362.5 2660.0,1355.0 2665.0,1353.1 2662.5,1351.2 2650.0,1348.8 2643.8,1345.0 2635.0,1341.2 2623.8,1336.2 2611.2,1327.5 2620.0,1311.2 2610.0,1307.5 2606.2,1301.2 2595.0,1292.5 2598.8,1291.2 2600.0,1285.0"/>
<polygon class="s" fill="#2083E0" points="2625.0,1358.8 2627.5,1348.8 2637.5,1353.8 2655.0,1356.2 2660.0,1355.0 2660.0,1362.5 2657.5,1368.8 2662.5,1370.0 2672.5,1372.5 2672.5,1377.5 2667.5,1381.2 2662.5,1387.5 2660.0,1382.5 2650.0,1381.2 2641.2,1376.2 2635.0,1378.8 2632.5,1375.0 2637.5,1371.2 2641.2,1366.2 2635.0,1363.8 2630.0,1361.2"/>
<polygon class="s" fill="#F0BC9C" points="2593.8,1356.2 2600.0,1350.0 2603.8,1352.5 2615.0,1356.2 2607.5,1367.5 2608.8,1370.0 2612.5,1361.2 2617.5,1362.5 2625.0,1358.8 2630.0,1361.2 2635.0,1363.8 2641.2,1366.2 2637.5,1371.2 2632.5,1375.0 2635.0,1378.8 2641.2,1376.2 2650.0,1381.2 2660.0,1382.5 2662.5,1387.5 2667.5,1381.2 2672.5,1377.5 2685.0,1383.8 2683.8,1391.2 2691.2,1386.2 2695.0,1391.2 2702.5,1386.2 2711.2,1395.0 2712.5,1405.0 2627.5,1421.2 2626.2,1421.2 2627.5,1408.8 2626.2,1401.2 2618.8,1395.0 2610.0,1396.2 2600.0,1395.0 2592.5,1391.2 2590.0,1375.0 2590.0,1371.2 2592.5,1365.0"/>
<polygon class="s" fill="#2083E0" points="2607.5,1218.8 2630.0,1211.2 2640.0,1208.8 2650.0,1215.0 2665.0,1208.8 2668.8,1212.5 2661.2,1220.0 2655.0,1230.0 2656.2,1230.0 2658.8,1242.5 2656.2,1252.5 2657.5,1265.0 2661.2,1277.5 2668.8,1286.2 2668.8,1292.5 2661.2,1288.8 2666.2,1296.2 2675.0,1301.2 2677.5,1308.8 2667.5,1303.8 2656.2,1301.2 2650.0,1302.5 2645.0,1295.0 2642.5,1300.0 2637.5,1293.8 2630.0,1297.5 2623.8,1295.0 2623.8,1285.0 2627.5,1277.5 2630.0,1271.2 2637.5,1266.2 2632.5,1261.2 2627.5,1258.8 2630.0,1252.5 2625.0,1246.2 2620.0,1241.2 2617.5,1233.8 2617.5,1231.2 2627.5,1228.8 2623.8,1222.5 2620.0,1215.0"/>
<polygon class="s" fill="#E08468" points="2640.0,1208.8 2650.0,1200.5 2677.5,1195.0 2681.2,1186.2 2705.0,1273.8 2735.0,1267.5 2736.2,1282.5 2728.8,1300.0 2722.5,1317.5 2718.8,1330.0 2715.0,1340.0 2712.5,1355.0 2711.2,1365.0 2706.2,1355.0 2705.0,1337.5 2710.0,1317.5 2712.5,1307.5 2705.0,1305.0 2702.5,1297.5 2698.8,1292.5 2700.0,1288.8 2695.0,1283.8 2690.0,1290.0 2685.0,1291.2 2673.8,1285.0 2673.8,1280.0 2680.0,1272.5 2685.0,1271.2 2680.0,1265.0 2675.0,1261.2 2667.5,1267.5 2667.5,1260.0 2672.5,1257.5 2677.5,1252.5 2668.8,1246.2 2667.5,1237.5 2666.2,1230.0 2667.5,1232.5 2672.5,1222.5 2675.0,1211.2 2665.0,1208.8 2650.0,1215.0"/>
<polygon class="s" fill="#76B3E8" points="2041.6,1198.1 2047.7,1197.4 2051.8,1196.0 2050.4,1185.1 2045.0,1184.5 2051.8,1181.1 2053.8,1175.6 2059.9,1173.6 2061.3,1171.5 2068.8,1161.3 2072.2,1161.3 2073.6,1168.1 2074.9,1188.6 2076.3,1207.6 2053.1,1209.0 2042.2,1211.7 2040.9,1207.6"/>
<polygon class="s" fill="#E08468" points="2035.4,1117.7 2044.3,1118.4 2047.7,1120.4 2050.4,1119.8 2050.7,1112.9 2052.5,1112.3 2053.8,1123.8 2056.5,1132.0 2053.8,1134.1 2053.1,1139.5 2050.4,1135.4 2046.3,1129.3 2043.6,1123.2 2035.4,1121.8"/>
<polygon fill="#76767A" stroke="#76767A" stroke-width="1" points="2046.3,1129.3 2053.8,1134.1 2057.2,1134.1 2064.0,1138.8 2066.8,1147.7 2066.8,1153.1 2072.2,1160.6 2068.8,1161.3 2061.3,1171.5 2054.5,1168.1 2049.0,1162.7 2050.4,1155.9 2047.7,1147.7 2047.0,1138.1"/>
<polygon class="s" fill="#C00A0A" points="2029.3,1131.3 2044.3,1130.0 2044.3,1137.5 2036.8,1137.8 2035.4,1135.4 2032.7,1134.7 2030.0,1140.9 2027.9,1140.2 2028.6,1134.1"/>
<polygon class="s" fill="#2083E0" points="2032.0,1142.2 2035.4,1140.2 2043.6,1140.9 2049.0,1142.2 2049.7,1146.3 2047.7,1150.4 2042.2,1147.7 2038.1,1144.3 2034.1,1143.6"/>
<polygon class="s" fill="#C00A0A" points="2030.0,1147.7 2036.8,1147.0 2040.9,1151.8 2044.3,1152.5 2046.3,1155.9 2049.7,1156.5 2049.0,1158.6 2045.0,1157.2 2042.2,1159.3 2040.2,1153.8 2035.4,1150.4 2030.0,1149.7"/>
<polygon class="s" fill="#2083E0" points="2030.7,1159.3 2039.5,1159.9 2042.2,1162.0 2046.3,1159.9 2047.7,1162.7 2043.6,1166.1 2040.9,1164.0 2035.4,1164.7 2030.7,1163.4"/>
<polygon class="s" fill="#2083E0" points="2044.3,1169.5 2050.4,1164.0 2054.5,1161.3 2055.9,1156.5 2060.6,1156.5 2059.9,1161.3 2057.9,1164.0 2054.5,1170.8 2057.9,1171.5 2050.4,1172.2 2044.3,1171.5"/>
<polygon class="s" fill="#2083E0" points="2036.1,1172.9 2042.2,1172.2 2043.6,1174.9 2051.1,1174.9 2047.7,1180.4 2042.2,1178.3 2038.1,1175.6"/>
<polygon fill="#0A0A8C" stroke="#0A0A8C" stroke-width="1" points="2057.2,1136.1 2061.3,1138.8 2062.0,1141.6 2057.9,1140.2"/>
<polygon fill="#0A0A8C" stroke="#0A0A8C" stroke-width="1" points="2052.5,1142.2 2055.9,1142.2 2056.5,1147.0 2053.8,1148.4 2051.8,1145.6"/>
<polygon class="s" fill="#76B3E8" points="2058.6,1167.4 2064.7,1165.4 2063.4,1168.8 2059.9,1171.5"/>
<polygon class="s" fill="#0A0A8C" points="386.1,1524.2 396.2,1521.2 403.2,1517.2 412.3,1516.2 414.3,1512.2 424.4,1509.1 432.4,1510.1 442.5,1509.1 446.5,1514.2 454.6,1516.7 460.6,1517.2 456.6,1534.3 452.6,1537.3 447.6,1534.3 444.5,1533.3 440.5,1530.3 436.5,1533.3 432.4,1536.3 426.4,1535.3 424.4,1532.3 420.4,1534.3 412.3,1533.3 408.3,1533.3 400.2,1531.3 390.1,1529.3"/>
<polygon class="s" fill="#2083E0" points="414.3,1514.2 417.3,1513.2 418.3,1519.2 415.3,1523.2 413.3,1521.2"/>
<polygon class="s" fill="#2083E0" points="409.8,1535.3 412.3,1533.3 420.4,1534.3 424.4,1532.3 426.4,1535.3 432.4,1536.3 436.5,1533.3 440.5,1530.3 444.5,1533.3 447.6,1534.3 450.6,1537.3 446.5,1540.4 442.5,1542.4 438.5,1544.4 435.5,1548.4 430.4,1550.4 426.4,1552.4 422.4,1550.4 418.3,1552.4 414.3,1555.5 412.3,1556.5 408.3,1550.4 409.8,1542.4"/>
<polygon class="s" fill="#76B3E8" points="418.3,1542.4 424.4,1539.4 427.4,1543.4 422.4,1547.4 417.3,1550.4"/>
<polygon class="s" fill="#1E40B4" points="412.3,1534.3 420.4,1534.8 419.4,1537.3 412.3,1537.3"/>
<polygon class="s" fill="#1E40B4" points="420.4,1551.4 426.4,1552.4 428.4,1555.5 424.4,1556.5"/>
<polygon class="s" fill="#0A0A8C" points="408.8,1550.9 413.3,1550.9 413.3,1553.5 409.8,1554.0"/>
<polygon class="s" fill="#76B3E8" points="447.6,1540.4 450.6,1537.3 452.6,1537.3 456.6,1534.3 460.6,1535.3 466.7,1537.3 470.7,1535.3 475.8,1537.3 480.8,1543.4 486.8,1548.4 484.8,1551.4 488.8,1556.5 489.9,1562.5 483.8,1560.5 479.8,1561.5 474.7,1564.5 473.7,1570.6 469.7,1570.6 468.7,1563.5 464.7,1560.5 466.7,1556.5 462.7,1552.4 459.6,1550.4 455.6,1549.4 452.6,1551.4 450.6,1546.4"/>
<polygon class="s" fill="#C00A0A" points="434.5,1550.4 438.5,1544.4 442.5,1542.4 446.5,1540.4 449.6,1544.4 450.6,1550.4 446.5,1552.4 440.5,1554.5 436.5,1553.5"/>
<polygon class="s" fill="#C00A0A" points="438.5,1564.5 440.5,1556.5 446.5,1554.5 450.6,1556.5 452.6,1562.5 455.6,1568.6 459.6,1571.6 458.6,1573.6 453.6,1572.6 450.6,1571.6 446.5,1573.6 442.5,1569.6"/>
<polygon class="s" fill="#C00A0A" points="427.4,1558.5 432.4,1559.5 435.5,1564.5 440.5,1570.6 443.5,1575.6 442.5,1577.6 438.5,1573.6 434.5,1568.6 430.4,1563.5"/>
<polygon class="s" fill="#2083E0" points="434.5,1553.5 439.5,1554.5 439.5,1560.5 437.5,1562.5 435.5,1558.5"/>
<polygon class="s" fill="#D14A34" points="443.5,1580.6 444.5,1576.6 450.6,1575.6 453.6,1572.6 454.6,1578.6 459.6,1582.7 463.7,1586.7 464.7,1590.7 464.2,1600.8 462.7,1608.8 465.7,1610.9 465.7,1615.9 460.6,1617.9 457.6,1619.9 452.6,1600.8 446.5,1589.7 440.5,1580.6"/>
<polygon class="s" fill="#0A0A8C" points="458.6,1620.9 470.7,1616.9 473.7,1621.9 470.7,1628.0 464.7,1631.0 454.6,1631.0 454.6,1626.0"/>
<polygon class="s" fill="#1E40B4" points="465.7,1633.0 470.7,1634.0 469.7,1645.1 466.2,1646.1"/>
<polygon class="s" fill="#76B3E8" points="460.6,1635.0 464.7,1634.0 464.7,1647.1 460.6,1648.1"/>
<polygon class="s" fill="#F0BC9C" points="2627.5,1400.0 2711.7,1400.0 2718.8,1407.1 2725.9,1417.8 2731.8,1433.2 2751.9,1433.2 2751.9,1453.3 2749.6,1485.3 2728.2,1530.3 2664.3,1558.8 2659.5,1550.5 2650.0,1563.5 2642.9,1567.1 2631.1,1570.6 2627.5,1567.1 2629.9,1562.3 2625.2,1560.0 2631.1,1546.9 2654.8,1539.8 2653.6,1528.0 2647.7,1523.2 2657.2,1510.2 2656.0,1503.1 2647.7,1497.2 2642.9,1493.6 2641.8,1491.2 2642.9,1480.6 2652.4,1478.2 2658.3,1478.2 2653.6,1467.5 2664.3,1468.7 2666.6,1456.9 2671.4,1464.0 2678.5,1455.7 2685.6,1464.0 2690.3,1455.7 2693.9,1465.2 2698.6,1465.2 2699.8,1446.2 2688.6,1449.8 2688.0,1445.0 2683.2,1435.5 2683.2,1426.1 2670.2,1423.7 2669.0,1413.0 2626.4,1423.1"/>
<polygon class="s" fill="#76B3E8" points="2560.0,1437.9 2587.3,1432.0 2669.0,1413.0 2670.2,1423.7 2683.2,1426.1 2683.2,1435.5 2688.0,1445.0 2688.6,1449.8 2699.8,1446.2 2698.6,1465.2 2693.9,1465.2 2690.3,1455.7 2685.6,1464.0 2678.5,1455.7 2671.4,1464.0 2666.6,1456.9 2664.3,1468.7 2653.6,1467.5 2658.3,1478.2 2659.5,1482.9 2657.2,1485.3 2652.4,1478.2 2642.9,1480.6 2641.8,1491.2 2645.3,1498.3 2645.3,1509.0 2641.8,1507.8 2640.6,1500.7 2635.8,1498.3 2629.9,1505.5 2627.5,1510.2 2625.2,1507.8 2629.9,1499.5 2635.8,1493.6 2637.0,1482.9 2631.1,1478.2 2627.5,1479.4 2628.7,1474.6 2635.8,1477.0 2642.9,1478.2 2647.7,1471.1 2645.3,1464.0 2637.0,1462.8 2631.1,1466.4 2625.2,1455.7 2616.9,1461.6 2618.1,1468.7 2612.1,1467.5 2614.5,1454.5 2608.6,1454.5 2607.4,1459.2 2594.4,1461.6 2594.4,1455.7 2601.5,1452.1 2601.5,1443.8 2596.7,1441.5 2595.5,1447.4 2589.6,1447.4 2589.6,1454.5 2580.1,1456.9 2577.8,1471.1 2570.7,1472.3 2575.4,1452.1 2580.1,1448.6 2580.1,1439.1 2587.3,1437.9"/>
<polygon class="s" fill="#76B3E8" points="2689.1,1434.4 2699.8,1415.4 2708.1,1422.5 2696.3,1439.1 2690.3,1442.7"/>
<polygon class="s" fill="#76B3E8" points="2678.5,1416.6 2689.1,1414.2 2690.3,1417.8 2683.2,1420.1 2684.4,1424.9 2680.9,1423.7"/>
<polygon class="s" fill="#76B3E8" points="2656.0,1500.7 2660.7,1498.3 2669.0,1499.5 2674.9,1503.1 2682.0,1504.3 2678.5,1509.0 2672.6,1509.0 2664.3,1505.5"/>
<polyline class="l" points="450.0,653.3 450.8,654.2 456.7,658.3 458.3,662.5 468.3,668.3 476.7,670.8 495.0,673.3"/>
<polyline class="l" points="418.0,1191.2 632.5,1518.8"/>
<polyline class="l" points="461.2,1357.5 465.0,1385.0 468.8,1390.0 466.2,1397.5 468.8,1420.0 465.0,1425.0 483.8,1430.0 468.8,1492.5"/>
<polyline class="l" points="1107.5,1305.0 1125.0,1308.5 1122.5,1325.0 1100.0,1327.5 1112.5,1335.0 1107.5,1350.0 1112.5,1367.5 1130.0,1372.5 1135.0,1382.5 1180.0,1386.0 1182.5,1370.0 1227.5,1375.0 1225.0,1410.0"/>
<polyline class="l" points="1185.0,1272.5 1214.0,1274.0 1214.0,1287.5 1207.5,1300.0 1190.0,1305.0 1177.5,1300.0"/>
<polyline class="l" points="1162.5,1327.5 1232.5,1334.0 1227.5,1375.0"/>
<polyline class="l" points="931.5,932.5 905.0,1097.5"/>
<polyline class="l" points="660.0,1047.5 712.5,1058.5 759.0,1071.0 905.0,1097.5"/>
<polyline class="l" points="759.0,1071.0 734.0,1191.0 690.0,1404.0"/>
<polyline class="l" points="905.0,1097.5 894.0,1164.0"/>
<polyline class="l" points="992.5,1180.0 960.0,1404.0"/>
<polyline class="l" points="1245.0,1210.0 1344.0,1218.5 1330.0,1404.0"/>
<polyline class="l" points="1344.0,1218.5 1340.0,1285.0 1680.0,1295.0"/>
<polyline class="l" points="1625.0,1127.5 1632.5,1150.0 1642.5,1175.0 1647.5,1195.0 1655.0,1210.0 1660.0,1240.0 1665.0,1260.0 1675.0,1280.0 1682.5,1295.0 1690.0,1305.0 1707.5,1310.0 1697.5,1325.0 1705.0,1350.0 1715.0,1365.0"/>
<polyline class="l" points="1632.5,1144.0 1610.0,1144.0 1610.0,1155.0 1557.5,1155.0 1560.0,1192.5 1567.5,1195.0 1567.5,1205.0 1557.5,1220.0 1557.5,1225.0 1580.0,1225.0 1580.0,1249.0 1604.0,1250.0 1604.0,1261.0 1662.5,1260.0"/>
<polyline class="l" points="774.0,834.0 780.0,850.0 767.5,865.0 767.5,875.0 750.0,882.5 735.0,890.0 735.0,910.0 742.5,920.0 740.0,932.5 720.0,932.5 695.0,946.0 680.0,930.0 672.5,940.0 685.0,957.5 682.5,975.0 670.0,975.0 682.5,987.5 705.0,995.0 704.0,1005.0 722.5,1009.0 712.5,1058.5"/>
<polyline class="l" points="745.0,1136.0 810.0,1147.5 832.5,1145.0 852.5,1155.0 860.0,1167.5 862.5,1182.5 872.5,1185.0 880.0,1182.5 897.5,1185.0 890.0,1242.5 940.0,1251.5 930.0,1270.0 932.5,1275.0 977.5,1280.0"/>
<polyline class="l" points="832.5,1177.5 845.0,1174.0 855.0,1177.5 847.5,1190.0 852.5,1210.0 845.0,1230.0 870.0,1240.0 862.5,1265.0 852.5,1325.0 920.0,1336.0 922.5,1357.5 895.0,1375.0 870.0,1404.0"/>
<polyline class="l" points="832.5,1177.5 827.5,1230.0 812.5,1244.0 820.0,1262.5 862.5,1265.0"/>
<polyline class="l" points="1629.0,1062.5 1752.0,1061.5"/>
<polyline class="l" points="1655.0,1195.0 1714.0,1195.0 1714.0,1171.0 1752.0,1170.0"/>
<polyline class="l" points="1662.5,1257.5 1752.0,1255.0"/>
<polyline class="l" points="1756.2,952.5 1767.5,943.8 1780.0,946.2 1782.5,952.5"/>
<polyline class="l" points="1782.5,970.0 1772.5,975.0 1760.0,976.2 1756.2,972.5 1756.2,952.5"/>
<polyline class="l" points="1782.5,952.5 1782.5,970.0 1787.5,965.0 1802.0,976.2"/>
<polyline class="l" points="1720.0,713.0 1722.0,763.8 1707.5,765.0 1703.8,768.8 1703.8,773.8 1698.8,775.0 1699.2,793.8 1705.0,796.2 1705.0,800.8 1688.0,801.2 1688.8,871.2 1706.2,870.0 1712.5,872.5 1713.8,910.0 1720.0,910.0"/>
<polyline class="l" points="1628.8,1038.0 1694.5,1038.8 1695.0,1022.5 1690.0,1021.2 1692.5,1010.0 1705.0,1009.5 1705.5,997.5 1750.0,998.0 1751.2,991.2"/>
<polyline class="l" points="1990.0,1064.5 1990.0,1051.2 1996.2,1048.8 2012.5,1047.0 2013.8,1043.8 2036.2,1042.0 2037.5,1065.0 2046.2,1065.5"/>
<polyline class="l" points="1991.2,1092.5 2003.8,1092.5 2015.0,1088.8 2015.5,1080.0 2025.0,1078.8 2035.0,1082.5 2048.8,1080.0"/>
<polyline class="l" points="2018.8,891.2 2006.2,892.5 2005.0,922.5 1996.2,922.5 1995.0,932.5 1998.0,933.8 1997.5,940.0 1982.5,941.2 1981.2,946.2 1971.2,947.5 1972.0,972.0"/>
<polyline class="l" points="1973.8,1000.0 1996.2,998.8 2000.0,1010.0 2003.8,1008.8 2004.5,1000.0 2012.5,997.5 2016.2,1016.2 2031.2,1017.5 2032.5,995.0 2055.0,988.8"/>
<polyline class="l" points="1990.0,1062.0 1991.2,1055.0 2010.0,1052.5 2015.0,1050.0 2035.0,1048.8 2036.2,1062.0"/>
<polyline class="l" points="1700.0,1195.0 1715.0,1195.0 1713.0,1171.2 1783.8,1170.0"/>
<polyline class="l" points="1700.0,1256.2 1751.2,1255.0"/>
<polyline class="l" points="2010.0,1115.0 2013.8,1137.5 2017.5,1140.0 2012.5,1145.0 2013.8,1170.0 2020.0,1171.2 2021.2,1182.5 2045.0,1180.0"/>
<polyline class="l" points="2077.5,1197.0 2080.0,1241.2 2083.8,1295.0 2086.2,1320.0 2082.5,1332.5 2090.0,1342.5 2091.2,1355.0 2086.2,1370.0 2080.0,1382.5 2071.2,1390.0 2072.5,1400.0 2067.5,1412.5 2070.0,1422.5"/>
<polyline class="l" points="2132.5,1305.0 2131.2,1313.8 2135.0,1342.5 2138.8,1375.0 2147.5,1387.5 2155.0,1390.0"/>
<polyline class="l" points="2146.2,1047.5 2157.5,1046.2"/>
<polyline class="l" points="2146.2,1047.5 2150.0,1062.5 2160.0,1067.5 2162.5,1075.0 2150.0,1080.0 2130.0,1085.0"/>
<polyline class="l" points="2162.5,1075.0 2165.0,1100.0 2177.5,1102.5 2180.0,1122.0"/>
<polyline class="l" points="2107.5,1002.5 2128.0,1001.2"/>
<polyline class="l" points="2837.5,996.2 2847.5,1037.5"/>
<polyline class="l" points="2830.0,995.0 2833.8,1022.5 2825.0,1048.8"/>
<polyline class="l" points="2772.5,1012.5 2773.8,1027.5 2785.0,1025.0 2787.5,1015.0 2800.0,1012.5 2810.0,1022.5 2807.5,1040.0 2805.0,1050.0"/>
<polyline class="l" points="2785.0,1025.0 2790.0,1035.0 2797.5,1032.5 2800.0,1042.5 2790.0,1045.0 2782.5,1050.0 2780.0,1060.0"/>
<polyline class="l" points="2600.0,942.5 2620.0,937.5 2623.8,950.0 2635.0,952.5 2652.5,935.0 2658.8,952.5 2655.0,957.5 2665.0,955.0 2672.5,965.0 2680.0,968.8 2693.8,968.8"/>
<polyline class="l" points="2593.8,955.0 2605.0,962.5 2607.5,970.0 2625.0,977.5 2627.5,990.0 2585.0,1002.0"/>
<polyline class="l" points="2680.0,968.8 2681.2,977.5 2665.0,980.0 2657.5,985.0 2657.5,1002.0"/>
<polyline class="l" points="2722.5,960.0 2750.0,955.0"/>
<polyline class="l" points="2450.0,1070.0 2451.2,1087.5 2557.5,1066.2 2665.0,1042.5 2672.5,1047.5 2682.5,1052.5 2687.5,1062.5 2692.5,1070.0 2703.8,1076.2"/>
<polyline class="l" points="2416.2,1097.5 2442.5,1242.5 2677.5,1195.0"/>
<polyline class="l" points="2552.5,996.2 2562.5,993.8 2585.0,990.0 2588.8,1007.5 2592.5,1015.0 2612.5,1011.2 2611.2,1002.5 2626.2,995.0 2620.0,975.0 2605.0,965.0 2600.0,950.0"/>
<polyline class="l" points="2562.5,993.8 2560.0,1022.5 2545.0,1036.2 2510.0,1040.0 2490.0,1050.0 2475.0,1045.0"/>
<polyline class="l" points="2612.5,1011.2 2617.5,1025.0 2626.2,1027.5 2628.8,1047.5 2617.5,1051.2"/>
<polyline class="l" points="2665.0,1042.5 2655.0,1040.0 2658.8,1022.5 2657.5,985.0 2677.5,980.0 2680.0,970.0 2693.8,968.8"/>
<polyline class="l" points="2677.5,980.0 2670.0,965.0 2657.5,955.0 2655.0,940.0"/>
<polyline class="l" points="2557.5,1066.2 2562.5,1072.5 2571.2,1071.2 2571.2,1085.0 2562.5,1087.5 2565.0,1100.0 2592.5,1125.0 2585.0,1137.5 2570.0,1150.0 2565.0,1172.5 2572.5,1180.0 2585.0,1182.5 2595.0,1200.0 2597.5,1211.2"/>
<polyline class="l" points="2428.8,1097.5 2461.2,1096.2 2463.8,1107.5 2453.8,1111.2 2447.5,1120.0 2450.0,1142.5 2475.0,1140.0 2480.0,1136.2 2490.0,1140.0 2493.8,1152.5 2513.8,1151.2 2515.0,1160.0 2545.0,1153.8 2552.5,1177.5 2572.5,1180.0"/>
<polyline class="l" points="2493.8,1152.5 2492.5,1165.0 2485.0,1183.8"/>
<polyline class="l" points="2653.8,1070.0 2631.2,1073.8 2630.0,1096.2 2612.5,1112.5 2612.5,1130.0 2610.0,1155.0 2595.0,1167.5 2585.0,1182.5"/>
<polyline class="l" points="2595.0,1200.0 2605.0,1190.0 2607.5,1175.0 2615.0,1167.5 2625.0,1180.0 2628.8,1176.2"/>
<polyline class="l" points="2555.0,1240.0 2585.0,1255.0 2587.5,1242.5 2605.0,1251.2"/>
<polyline class="l" points="2555.0,1240.0 2552.5,1262.5 2560.0,1267.5 2575.0,1272.5"/>
<polyline class="l" points="2535.0,1235.0 2525.0,1252.5 2522.5,1277.5 2530.0,1290.0 2540.0,1285.0 2550.0,1265.0 2552.5,1262.5"/>
<polyline class="l" points="2113.8,1153.8 2207.5,1145.0 2273.8,1136.2"/>
<polyline class="l" points="2207.5,1145.0 2215.0,1187.5 2220.0,1227.5 2228.8,1305.0 2232.5,1335.0"/>
<polyline class="l" points="2396.2,1163.8 2410.0,1158.8 2425.0,1162.5"/>
<polyline class="l" points="2280.0,1150.0 2345.0,1147.5 2346.2,1155.0 2310.0,1163.8"/>
<polyline class="l" points="2347.5,1175.0 2372.5,1170.0 2373.8,1180.0 2382.5,1182.5 2385.0,1170.0 2395.0,1165.0"/>
<polyline class="l" points="2347.5,1175.0 2350.0,1193.8 2372.5,1190.0 2373.8,1180.0"/>
<polyline class="l" points="2235.0,1212.5 2237.5,1230.0 2240.0,1242.5 2260.0,1241.2 2261.2,1250.0 2286.2,1248.8 2287.5,1242.5 2306.2,1242.5"/>
<polyline class="l" points="2238.8,1261.2 2255.0,1260.0 2285.0,1266.2 2303.8,1268.8 2305.0,1278.8 2292.5,1281.2 2267.5,1281.2 2241.2,1282.5 2238.8,1261.2"/>
<polyline class="l" points="2250.0,1283.8 2251.2,1302.5 2268.8,1302.5 2267.5,1282.5"/>
<polyline class="l" points="2268.8,1302.5 2278.8,1302.5 2290.0,1291.2 2300.0,1292.5 2318.8,1287.5 2325.0,1293.8 2351.2,1297.5 2352.5,1305.0 2357.5,1302.5 2357.5,1292.5 2372.5,1290.0 2377.5,1282.5 2380.0,1270.0 2387.5,1260.0 2382.5,1252.5"/>
<polyline class="l" points="2228.8,1305.0 2251.2,1302.5"/>
<polyline class="l" points="2333.8,1297.5 2335.0,1312.5 2322.5,1315.0 2325.0,1325.0 2330.0,1325.0 2335.0,1337.5 2350.0,1343.8 2350.0,1350.0"/>
<polyline class="l" points="2330.0,1325.0 2322.5,1332.5 2312.5,1338.8 2297.5,1336.2 2286.2,1338.8 2272.5,1332.5 2261.2,1331.2 2255.0,1320.0 2247.5,1313.8"/>
<polyline class="l" points="2367.5,1310.0 2372.5,1302.5 2382.5,1315.0 2387.5,1322.5"/>
<polyline class="l" points="2350.0,1343.8 2363.8,1338.8 2366.2,1330.0 2370.0,1325.0 2366.2,1315.0 2367.5,1310.0"/>
<polyline class="l" points="2108.8,1160.0 2111.2,1185.0 2106.2,1192.5 2107.5,1210.0 2146.2,1206.2 2150.0,1228.8 2162.5,1226.2"/>
<polyline class="l" points="2165.0,1148.8 2168.8,1175.0 2157.5,1177.5 2156.2,1185.0 2162.5,1187.5 2163.8,1195.0 2171.2,1197.5 2175.0,1220.0 2182.5,1220.0"/>
<polyline class="l" points="2206.2,1143.8 2210.0,1180.0 2218.8,1240.0 2197.5,1240.0"/>
<polyline class="l" points="2113.8,1306.2 2135.0,1305.0"/>
<polyline class="l" points="2181.2,1238.8 2218.8,1238.8"/>
<polyline class="l" points="2166.2,1288.8 2168.8,1308.8 2162.5,1311.2 2165.0,1330.0 2177.5,1327.5 2182.5,1350.0 2190.0,1356.2 2200.0,1357.5"/>
<polyline class="l" points="2076.2,1197.5 2087.5,1275.0"/>
<polyline class="l" points="2322.5,1475.0 2330.0,1487.5 2335.0,1492.5 2325.0,1502.5 2332.5,1510.0 2337.5,1511.2 2336.2,1517.5 2317.5,1512.5 2311.2,1525.0 2320.0,1535.0 2321.2,1542.5"/>
<polyline class="l" points="2321.2,1542.5 2340.0,1532.5 2350.0,1525.0 2357.5,1512.5 2365.0,1510.0 2372.5,1502.5 2380.0,1507.5 2395.0,1497.5 2407.5,1487.5"/>
<polyline class="l" points="2222.5,1597.5 2225.0,1612.5 2215.0,1625.0 2232.5,1638.8 2215.0,1645.0 2211.2,1660.0 2218.8,1667.5 2200.0,1675.0"/>
<polyline class="l" points="2275.0,1591.2 2276.2,1617.5 2287.5,1620.0 2288.8,1627.5"/>
<polyline class="l" points="2315.0,1695.0 2320.0,1682.5 2330.0,1677.5 2322.5,1670.0 2325.0,1660.0 2321.2,1650.0 2322.5,1643.8 2340.0,1647.5 2355.0,1647.5 2362.5,1642.5 2395.0,1640.0 2407.5,1647.5 2420.0,1660.0 2432.5,1663.8 2440.0,1675.0 2450.0,1685.0 2461.2,1687.5 2475.0,1710.0"/>
<polyline class="l" points="2200.0,1487.5 2282.5,1480.0 2311.2,1473.8"/>
<polyline class="l" points="2515.0,1445.0 2587.5,1432.5"/>
<polyline class="l" points="2617.5,1608.8 2545.0,1557.5 2493.8,1565.0 2415.0,1556.2 2396.2,1555.0"/>
<polyline class="l" points="2291.2,1585.0 2222.5,1597.5 2200.0,1598.8"/>
<polyline class="l" points="2222.5,1597.5 2240.0,1660.0 2258.8,1722.0"/>
<polyline class="l" points="2457.5,1457.5 2457.5,1465.0 2465.0,1475.0 2507.5,1466.2 2512.5,1482.5"/>
<polyline class="l" points="2417.5,1458.8 2416.2,1475.0"/>
<polyline class="l" points="2443.8,1507.5 2452.5,1505.0 2460.0,1495.0 2470.0,1493.8 2471.2,1507.5 2480.0,1517.5"/>
<polyline class="l" points="2467.5,1550.0 2470.0,1540.0"/>
<polyline class="l" points="2347.5,1592.5 2355.0,1577.5"/>
<polyline class="l" points="2347.5,1592.5 2355.0,1602.5 2375.0,1610.0 2387.5,1630.0 2395.0,1640.0"/>
<polyline class="l" points="2385.0,1570.0 2395.0,1585.0 2407.5,1582.5 2430.0,1592.5"/>
<polyline class="l" points="2432.5,1663.8 2455.0,1625.0 2460.0,1622.5"/>
<polyline class="l" points="2275.0,1591.2 2355.0,1576.2"/>
<polyline class="l" points="1870.0,1658.3 1888.3,1670.0 1886.7,1683.3 1875.0,1685.0 1875.0,1703.3 1905.0,1705.0 1906.7,1756.7"/>
<polyline class="l" points="2038.3,1713.3 2060.0,1708.3 2063.3,1725.0 2081.7,1725.0"/>
<polyline class="l" points="2038.3,1713.3 2046.7,1716.7 2046.7,1726.7 2055.0,1728.3 2056.7,1750.0 2028.3,1752.7"/>
<polyline class="l" points="2081.7,1810.0 2070.0,1810.0 2070.0,1820.0 2061.7,1825.0 2030.0,1830.0 2031.7,1853.3 1996.7,1860.0 1996.7,1873.3 2006.7,1880.0 2013.3,1885.0"/>
<polyline class="l" points="1828.3,1776.7 1843.3,1775.0 1853.3,1785.0 1866.7,1781.7 1873.3,1773.3 1871.7,1757.3"/>
<polyline class="l" points="1828.3,1776.7 1833.3,1806.7 1825.0,1816.7 1828.3,1833.3 1825.0,1846.7 1838.3,1858.3 1825.0,1871.7 1835.0,1876.7 1835.0,1901.7 1853.3,1900.0 1860.0,1893.3 1868.3,1901.7 1880.0,1903.3 1883.3,1930.0 1878.3,1936.7"/>
<polyline class="l" points="1783.3,1935.0 1796.7,1935.0 1803.3,1933.3 1863.3,1928.3 1878.3,1936.7 1900.0,1931.7 1910.0,1943.3 1930.0,1966.7 1940.0,1970.0 1938.3,1983.3 1930.0,1993.3"/>
<polyline class="l" points="1896.7,1891.7 1895.0,1910.0 1900.0,1930.0"/>
<polyline class="l" points="1903.3,1896.7 1913.3,1906.7 1926.7,1905.0 1940.0,1898.3 1953.3,1896.7 1966.7,1900.0 1970.0,1911.7"/>
<polyline class="l" points="2136.7,1875.0 2253.3,1863.3 2286.7,1858.3"/>
<polyline class="l" points="2222.3,1597.7 2233.3,1640.0 2246.7,1683.3 2260.0,1720.0 2273.3,1753.3 2278.3,1756.7"/>
<polyline class="l" points="2085.0,1596.7 2085.0,1640.0 2083.3,1826.7 2095.0,1921.7"/>
<polyline class="l" points="2178.3,1680.0 2186.7,1673.3 2190.0,1683.3 2186.7,1698.3 2191.7,1710.0 2186.7,1725.0 2213.3,1723.3 2215.0,1746.7 2225.0,1750.0 2226.7,1766.7 2213.3,1771.7 2215.0,1785.0 2221.7,1786.7 2223.3,1778.3 2253.3,1778.3 2261.7,1785.0 2275.0,1786.7"/>
<polyline class="l" points="2171.7,1806.7 2156.7,1836.7 2146.7,1855.0 2183.3,1851.7 2190.0,1868.3"/>
<polyline class="l" points="2296.7,1873.3 2380.0,1869.3 2440.0,1865.0 2453.3,1863.3 2456.7,1873.3 2463.3,1873.3 2465.0,1853.3 2470.0,1845.0 2486.7,1846.7"/>
<polyline class="l" points="2323.3,1728.3 2325.0,1703.3 2356.7,1700.0 2363.3,1713.3 2376.7,1710.0 2388.3,1726.7 2406.7,1736.7 2420.0,1713.3 2423.3,1690.0 2416.7,1670.0 2420.0,1663.3"/>
<polyline class="l" points="2388.3,1726.7 2375.0,1738.3 2391.7,1765.0 2411.7,1776.7 2395.0,1788.3 2390.0,1813.3 2420.0,1815.0 2418.3,1791.7 2446.7,1801.7 2448.3,1780.0 2456.7,1770.0 2463.3,1753.3 2483.3,1743.3 2490.0,1735.0"/>
<polyline class="l" points="2420.0,1815.0 2418.3,1826.7 2403.3,1828.3 2405.0,1843.3 2390.0,1845.0 2398.3,1856.7 2398.3,1867.3"/>
<polyline class="l" points="2440.0,1865.0 2443.3,1893.3 2486.7,1885.0 2491.7,1896.7"/>
<polyline class="l" points="2488.3,1968.3 2505.0,1973.3 2506.7,1986.7 2510.0,2010.0 2505.0,2028.3 2486.7,2020.0"/>
<polyline class="l" points="2505.0,2028.3 2508.3,2043.3 2476.7,2045.0 2473.3,2053.3"/>
<polyline class="l" points="2513.3,2028.3 2533.3,2026.7 2548.3,2048.3 2566.7,2045.0"/>
<polyline class="l" points="2581.7,2076.7 2570.0,2090.0 2571.7,2103.3 2533.3,2111.7"/>
<polyline class="l" points="2533.3,2170.0 2563.3,2173.3 2616.7,2165.0"/>
<polyline class="l" points="1035.0,1569.3 1036.7,1575.0 1061.7,1578.3 1071.7,1571.7 1083.3,1566.7 1090.0,1566.7 1091.7,1586.7 1090.0,1593.3 1140.0,1598.3"/>
<polyline class="l" points="953.3,1443.3 898.3,1818.3"/>
<polyline class="l" points="1041.7,1793.3 1245.0,1813.3 1256.7,1671.7"/>
<polyline class="l" points="1275.0,1480.0 1608.0,1493.3"/>
<polyline class="l" points="1275.0,1480.0 1270.0,1515.0"/>
<polyline class="l" points="1326.7,1440.0 1325.0,1483.3"/>
<polyline class="l" points="1461.7,1440.0 1460.0,1490.0"/>
<polyline class="l" points="1420.0,1730.0 1513.3,1735.0 1513.3,1760.0 1505.0,1763.3"/>
<polyline class="l" points="1596.7,1700.0 1596.7,1735.0"/>
<polyline class="l" points="1620.0,1775.0 1653.3,1773.3 1670.0,1780.0 1670.0,1766.7 1696.7,1765.0 1698.3,1783.3 1708.3,1793.3 1721.7,1776.7 1731.7,1783.3 1753.3,1780.0 1761.7,1783.3"/>
<polyline class="l" points="1620.0,1791.7 1633.3,1810.0 1646.7,1821.7 1646.7,1830.0"/>
<polyline class="l" points="1670.0,1780.0 1673.3,1796.7 1681.7,1805.0 1680.0,1820.0 1706.7,1821.7 1710.0,1840.0 1715.0,1863.3 1706.7,1866.7"/>
<polyline class="l" points="1716.7,1886.7 1740.0,1895.0 1770.0,1886.7 1791.7,1883.3"/>
<polyline class="l" points="1700.0,1940.0 1710.0,1933.3 1720.0,1930.0 1740.0,1963.3 1756.7,1950.0 1766.7,1963.3 1781.7,1963.3"/>
<polyline class="l" points="1740.0,1963.3 1748.3,1993.3"/>
<polyline class="l" points="1510.0,1928.3 1520.0,1893.3 1501.7,1880.0 1520.0,1866.7 1508.3,1850.0 1525.0,1836.7 1516.7,1810.0 1556.7,1806.7"/>
<polyline class="l" points="1558.3,1858.3 1590.0,1840.0 1596.7,1848.3 1608.3,1841.7"/>
<polyline class="l" points="1558.3,1858.3 1566.7,1876.7"/>
<polyline class="l" points="1586.7,1896.7 1576.7,1876.7 1666.7,1858.3"/>
<polyline class="l" points="1635.0,1886.7 1668.3,1873.3 1668.3,1861.7"/>
<polyline class="l" points="1635.0,1886.7 1641.7,1940.0"/>
<polyline class="l" points="1724.0,1346.7 1722.7,1496.0"/>
<polyline class="l" points="1500.0,1493.3 1651.7,1495.0"/>
<polyline class="l" points="1500.0,1293.3 1680.0,1295.0"/>
<polyline class="l" points="1663.3,1258.3 1750.7,1255.0"/>
<polyline class="l" points="1651.7,1495.0 1651.7,1550.0"/>
<polyline class="l" points="1883.3,1261.7 1880.0,1276.7 1886.7,1300.0 1900.0,1316.7 1916.7,1331.7 1925.0,1340.0 1926.7,1356.7 1933.3,1363.3 1946.7,1400.0 1966.7,1420.0 1990.0,1436.7 1996.7,1453.3 2000.0,1466.7 2013.3,1476.7 2018.3,1493.3 2000.0,1513.3"/>
<polyline class="l" points="2078.3,1510.0 2078.3,1498.3 2126.7,1495.0 2228.0,1485.0"/>
<polyline class="l" points="2023.3,1615.0 2083.3,1610.0 2228.0,1595.0"/>
<polyline class="l" points="2083.3,1610.0 2085.0,1706.7"/>
<polyline class="l" points="1610.0,1298.3 1610.0,1323.3 1648.3,1325.0 1653.3,1355.0 1651.7,1495.0"/>
<polyline class="l" points="1500.0,1408.3 1518.3,1409.3 1519.3,1445.0 1560.0,1446.0 1560.7,1416.7 1590.0,1416.7 1591.7,1421.7 1631.7,1421.7 1633.3,1416.7 1651.7,1416.7"/>
<polyline class="l" points="1724.0,1470.0 1751.7,1470.0 1753.3,1475.0 1776.7,1474.0 1776.0,1438.3 1798.3,1440.0 1801.7,1463.3 1813.3,1476.7 1816.7,1486.7 1825.0,1486.7 1826.7,1460.0 1848.3,1459.3 1850.0,1450.0 1861.7,1449.3 1860.0,1423.3 1880.0,1420.0 1883.3,1410.0 1925.0,1406.7 1926.7,1396.7 1946.7,1400.0"/>
<polyline class="l" points="1860.0,1423.3 1833.3,1426.7 1818.3,1425.0 1818.3,1413.3 1825.0,1400.0 1836.7,1376.7 1846.7,1381.7 1851.7,1353.3 1876.7,1351.7 1875.0,1346.7 1916.7,1340.0"/>
<polyline class="l" points="1818.3,1316.7 1840.0,1317.3 1841.7,1333.3 1871.7,1335.0 1870.0,1343.3"/>
<polyline class="l" points="1724.0,1371.7 1724.0,1390.0 1713.3,1383.3 1700.0,1376.7 1700.0,1363.3 1708.3,1348.3"/>
<polyline class="l" points="1816.7,1486.7 1816.7,1503.3 1823.3,1505.0 1824.0,1525.0"/>
<polyline class="l" points="1965.0,1350.0 1966.7,1371.7 1980.0,1373.3 1981.7,1401.7 2010.0,1400.0 2010.0,1381.7 2031.7,1381.7 2036.7,1440.0 2020.0,1443.3 2020.0,1460.0 2026.7,1463.3"/>
<polyline class="l" points="1916.7,1326.7 1930.0,1316.7 1983.3,1313.3 1980.0,1300.0 1973.3,1296.7 1990.0,1300.0 2000.0,1286.7 1998.3,1250.0 2006.7,1246.7 2008.3,1260.0 2033.3,1259.3 2035.0,1268.3 2051.7,1270.0 2053.3,1278.3 2036.7,1283.3 2036.7,1293.3 2025.0,1295.0 2023.3,1301.7 2010.0,1303.3 2010.0,1323.3 2001.7,1325.0 2000.0,1353.3 1965.0,1355.0"/>
<polyline class="l" points="465.0,1590.0 490.0,1595.0"/>
<polyline class="l" points="476.7,1643.3 478.3,1626.7 473.3,1616.7 468.3,1615.0"/>
<polyline class="l" points="723.3,1630.0 731.7,1621.7 743.3,1625.0 750.0,1616.7 758.3,1615.0 763.3,1621.7"/>
<polyline class="l" points="763.3,1650.0 776.7,1653.3 775.0,1670.0"/>
<polyline class="l" points="640.0,1446.7 641.7,1473.3 636.7,1490.0 638.3,1511.7 631.7,1518.3 630.0,1528.3 636.7,1540.0 640.0,1556.7 650.0,1571.7 630.0,1581.7 623.3,1590.0 620.0,1606.7 615.0,1620.0 606.7,1621.7 603.3,1640.0 610.0,1651.7 611.7,1663.3 596.7,1668.3"/>
<polyline class="l" points="953.3,1443.3 898.3,1818.3"/>
<polyline class="l" points="1480.0,2093.3 1508.3,2093.3 1508.3,2056.7 1523.3,2046.7 1520.0,2040.0 1531.7,2020.0 1533.3,2006.7 1523.3,2005.0 1516.7,1993.3"/>
<polyline class="l" points="1480.0,2083.3 1480.0,2093.3 1478.3,2146.7 1470.0,2148.3 1468.3,2180.0 1506.7,2181.7 1496.7,2203.3 1505.0,2213.3 1508.3,2229.3"/>
<polyline class="l" points="1515.0,2230.0 1516.7,2218.3 1535.0,2226.7 1534.0,2206.7 1526.7,2205.0 1528.3,2150.0 1513.3,2148.3 1515.0,2096.0 1535.0,2095.0 1540.0,2088.3 1525.0,2053.3 1543.3,2051.7 1555.0,2043.3 1545.0,2031.7 1553.3,2023.3 1540.0,2008.3 1550.0,1993.3"/>
<polyline class="l" points="1103.3,1330.0 1113.3,1336.7 1105.0,1346.7 1110.0,1363.3 1123.3,1370.0 1136.7,1381.7 1180.0,1386.7 1181.7,1370.0 1228.3,1373.3 1223.3,1425.0 1210.0,1420.0 1200.0,1428.3 1195.0,1436.7 1186.7,1443.3 1173.3,1445.0 1161.7,1451.7 1160.0,1469.3 953.3,1442.7"/>
<polyline class="l" points="1183.3,1330.0 1232.7,1334.0 1228.3,1373.3"/>
<polyline class="l" points="1336.7,1330.0 1326.7,1483.3"/>
<polyline class="l" points="1160.0,1469.3 1275.0,1481.7 1326.7,1483.3 1460.0,1491.7 1651.7,1495.7"/>
<polyline class="l" points="1275.0,1481.7 1273.3,1513.3 1433.3,1523.3"/>
<polyline class="l" points="1460.0,1491.7 1461.7,1411.7 1478.3,1413.3 1479.3,1426.0 1496.0,1426.0 1496.7,1409.3 1518.3,1409.3 1519.3,1445.0 1558.3,1446.0 1560.0,1416.0 1590.0,1417.3 1590.7,1422.7 1631.7,1421.7 1632.7,1417.3 1651.7,1417.3"/>
<polyline class="l" points="1648.3,1330.0 1648.3,1353.3 1653.3,1356.7 1651.7,1495.7 1650.0,1550.0 1633.3,1551.7 1634.0,1556.7 1648.3,1558.3 1641.7,1570.0 1640.0,1585.0 1616.7,1586.0 1616.7,1598.3"/>
<polyline class="l" points="1433.3,1523.3 1428.3,1651.7 1443.3,1665.0 1460.0,1663.3 1470.0,1668.3"/>
<polyline class="l" points="1470.0,1668.3 1471.7,1655.0 1493.3,1651.7 1494.0,1636.7 1534.0,1636.0 1535.0,1603.3 1558.3,1601.7 1558.3,1580.0 1588.3,1579.3 1588.3,1596.7 1616.7,1598.3 1625.0,1600.0 1623.3,1630.0 1588.3,1633.3 1588.3,1601.7"/>
<polyline class="l" points="1623.3,1630.0 1628.3,1641.7 1623.3,1660.0 1601.7,1661.7 1596.7,1696.7"/>
<polyline class="l" points="2563.3,2174.2 2585.0,2171.7 2586.7,2173.3 2606.7,2170.0 2620.8,2166.7"/>
<polyline class="l" points="2535.0,2123.3 2536.7,2133.3 2530.8,2136.7 2531.7,2143.3 2526.7,2145.0 2528.3,2156.7 2540.0,2164.2 2536.7,2169.2"/>
<polyline class="l" points="2704.8,1068.6 2716.9,1060.9 2721.3,1054.3 2738.9,1051.0 2741.1,1042.2 2745.5,1047.7 2755.4,1051.0 2760.9,1048.8 2760.9,1040.0"/>
<polyline class="l" points="2704.8,1068.6 2708.1,1076.8 2734.5,1081.8 2751.0,1087.3 2752.1,1091.6"/>
<polyline class="l" points="2734.5,1081.8 2738.9,1073.0 2745.5,1066.4 2753.2,1065.3 2756.5,1071.9 2762.0,1075.2 2769.7,1069.7 2763.1,1059.8 2760.9,1048.8"/>
<polyline class="l" points="2762.0,1075.2 2766.4,1084.0"/>
<polyline class="l" points="2769.7,1069.7 2782.9,1062.0 2786.2,1054.3 2781.8,1051.0 2784.0,1044.4 2791.6,1042.2 2793.8,1046.6 2802.6,1044.4 2804.8,1040.0"/>
<polyline class="l" points="2727.9,1151.0 2734.5,1153.2 2738.9,1158.7 2745.5,1168.6 2751.0,1158.7 2754.3,1155.4 2756.5,1149.9"/>
<polyline class="l" points="2705.0,1273.8 2735.0,1267.5"/>
<polyline class="l" points="2712.5,1307.5 2728.8,1300.0"/>
<polyline class="l" points="2555.0,1238.8 2586.2,1256.2 2587.5,1242.5 2602.5,1250.0"/>
<polyline class="l" points="2555.0,1238.8 2553.8,1261.2 2560.0,1263.8 2565.0,1266.2 2580.0,1266.2"/>
<polyline class="l" points="2531.2,1235.0 2525.0,1257.5 2523.8,1273.8 2527.5,1283.8 2535.0,1288.8 2541.2,1280.0 2547.5,1270.0 2552.5,1266.2 2553.8,1261.2"/>
<polyline class="l" points="2392.5,1402.5 2390.0,1405.0 2372.5,1422.5 2356.2,1435.0 2350.0,1447.5 2340.0,1455.0 2320.0,1467.5 2311.2,1473.8"/>
<polyline class="l" points="2562.5,1300.0 2560.0,1315.0 2555.0,1330.0 2550.0,1345.0 2545.0,1352.5 2535.0,1350.0 2540.0,1362.5 2552.5,1371.2 2545.0,1382.5 2532.5,1385.0 2530.0,1392.5 2522.5,1386.2 2512.5,1387.5 2505.0,1395.0 2502.5,1405.0 2495.0,1407.5 2491.2,1425.0 2500.0,1430.0 2517.5,1427.5 2515.0,1445.0"/>
<polyline class="l" points="2000.0,1114.6 2009.5,1114.6 2020.4,1112.6 2032.0,1112.3 2042.2,1110.9 2053.1,1110.9"/>
<polyline class="l" points="2009.5,1114.6 2010.9,1136.1 2017.0,1137.1 2017.4,1143.6 2012.3,1145.6 2013.6,1170.8 2019.8,1171.2 2020.4,1182.4 2032.7,1181.4 2043.6,1181.1"/>
<polyline class="l" points="460.6,1535.3 458.6,1542.4 460.6,1546.4 470.7,1550.4 479.8,1549.4 482.8,1552.4 484.8,1551.4"/>
<polyline class="l" points="462.7,1552.4 466.7,1560.5 470.7,1562.5 472.7,1556.5 479.8,1556.5"/>
<polyline class="l" points="450.6,1550.4 452.6,1551.4 455.6,1549.4 459.6,1550.4"/>
<polyline class="l" points="464.7,1590.7 465.7,1587.7 470.7,1586.7 471.7,1584.7 474.7,1585.7 475.8,1590.7 490.9,1594.7"/>
<polyline class="l" points="489.9,1562.5 483.8,1566.5 481.8,1570.6 485.8,1576.6 492.9,1574.6 490.9,1580.6 486.8,1584.7 490.9,1594.7"/>
<polyline class="l" points="465.7,1615.9 470.7,1614.9 474.7,1612.9 479.8,1615.9 474.7,1621.9 472.7,1631.0 470.7,1635.0 472.7,1644.1"/>
<polyline class="l" points="2657.2,1485.3 2659.5,1482.9 2671.4,1480.6 2676.1,1480.6"/>
<polyline class="l" points="2684.4,1539.8 2664.3,1558.8"/>
</g>
<polygon class="l" points="482.0,514.7 480.8,518.3 481.7,526.7 485.8,530.0 487.5,532.5 488.3,541.7 485.0,543.7 485.8,550.0 480.8,552.0 480.0,547.0 473.7,547.8 474.7,553.3 468.7,561.7 467.0,566.7 468.0,575.0 470.8,583.3 475.0,586.7 480.0,586.3 484.7,584.7 480.0,590.0 476.7,594.2 473.3,598.3 471.3,603.3 470.0,610.0 468.7,616.7 468.0,624.2 462.0,624.7 458.7,623.0 462.0,616.7 463.3,610.0 463.3,600.0 469.7,599.2 471.3,590.8 468.3,585.8 464.3,583.3 464.2,568.7 457.5,570.0 449.2,563.0 438.3,561.7 423.3,555.0 413.3,550.8 396.7,533.3 386.7,526.3 381.3,540.0 381.3,561.7 385.0,566.7 385.0,580.0 383.3,600.0 383.0,616.7 380.8,620.0 383.3,622.5 387.5,626.7 395.0,629.2 381.7,631.7 379.2,637.0 378.3,645.0 386.7,643.3 381.7,650.0 381.7,663.3 375.8,662.5 377.5,646.7 375.0,650.0 369.2,669.2 372.5,675.0 380.0,677.5 394.2,679.2 396.7,685.8 394.2,680.8 380.0,679.7 378.3,683.3 372.5,677.0 370.8,688.3 365.0,690.8 364.2,702.5 360.0,715.0 361.7,722.5 355.8,721.7 351.7,736.7 338.3,760.0 331.7,781.0 342.5,755.0 337.0,765.0 336.2,775.0 325.0,796.2 317.5,815.0 310.0,830.0 301.2,845.0 291.2,853.8 286.2,865.0 276.2,877.5 275.0,890.0 275.0,900.0 270.0,910.0 268.0,925.0 271.2,937.5 267.5,951.2 269.5,960.0 268.8,973.8 257.5,993.8 256.2,1003.8 241.2,1020.0 231.2,1032.5 230.5,1046.2 237.5,1058.8 243.8,1077.5 244.5,1100.0 235.0,1112.5 235.0,1130.0 232.0,1140.0 237.5,1155.0 245.0,1172.5 252.5,1185.0 253.8,1200.0 248.8,1208.8 256.2,1210.0 263.8,1222.5 270.0,1228.8 275.0,1225.0 280.0,1220.0 277.5,1215.0 282.5,1212.5 286.2,1215.0 290.0,1217.5 302.5,1218.0 305.0,1222.5 282.5,1222.5 280.0,1227.5 282.5,1235.0 286.2,1240.0 283.8,1250.0 286.2,1260.0 283.8,1260.0 275.0,1247.5 275.0,1235.0 270.0,1231.2 266.2,1242.5 267.5,1255.0 262.5,1267.5 266.2,1277.5 272.5,1290.0 277.5,1288.8 282.5,1292.5 287.5,1300.0 287.5,1306.2 280.0,1315.0 275.0,1315.0 272.5,1320.0 272.5,1335.0 280.0,1346.2 286.2,1362.5 291.2,1377.5 292.5,1386.2 298.8,1392.5 302.5,1405.0 307.5,1410.0 305.0,1420.0 313.8,1430.0 310.0,1445.0 310.0,1460.0 305.0,1467.5 312.5,1476.2 330.0,1480.0 342.5,1488.8 360.0,1492.5 366.2,1500.0 372.5,1510.0 383.3,1518.3 390.0,1528.3 410.0,1536.7 408.3,1550.0 413.3,1555.0 426.7,1556.7 433.3,1570.0 443.3,1580.0 453.3,1596.7 458.3,1613.3 456.7,1630.0 458.3,1650.0 596.7,1668.3 586.7,1680.0 781.7,1800.0 816.7,1805.0 898.3,1818.3 946.7,1825.0 950.0,1796.7 1043.3,1806.0 1055.0,1815.0 1063.3,1830.0 1080.0,1850.0 1093.3,1866.7 1113.3,1883.3 1126.7,1893.3 1131.7,1906.7 1140.0,1923.3 1138.3,1940.0 1146.7,1960.0 1163.3,1976.7 1176.7,1986.7 1190.0,2002.0 1193.3,1998.3 1205.0,2006.7 1223.3,2016.0 1236.7,2001.7 1243.3,1993.3 1253.3,1968.3 1266.7,1965.0 1278.3,1960.0 1286.7,1965.0 1313.3,1968.3 1328.3,1970.0 1333.3,1978.3 1346.7,1988.3 1363.3,2006.7 1371.7,2020.0 1373.3,2031.7 1381.7,2050.0 1386.7,2061.7 1391.7,2075.0 1401.7,2082.7 1408.3,2093.3 1415.0,2110.0 1426.7,2120.0 1435.0,2125.0 1436.7,2143.3 1439.3,2160.0 1443.3,2170.0 1450.0,2180.0 1455.0,2193.3 1458.3,2203.3 1470.0,2208.3 1483.3,2215.0 1496.7,2221.7 1508.3,2229.3 1520.0,2231.7 1540.0,2233.3 1550.0,2238.3 1560.0,2247.3 1566.7,2241.7 1576.7,2238.3 1576.7,2226.7 1573.3,2206.7 1566.7,2180.0 1563.3,2156.7 1566.7,2140.0 1573.3,2126.7 1583.3,2110.0 1593.3,2100.0 1606.7,2090.0 1623.3,2076.7 1626.7,2071.7 1640.0,2060.0 1653.3,2053.3 1680.0,2043.3 1696.7,2026.7 1713.3,2013.3 1726.7,2000.0 1746.7,1990.0 1776.7,1983.3 1808.0,1976.7 1808.0,1976.7 1820.0,1980.0 1840.0,1986.7 1863.3,1991.7 1876.7,1990.0 1885.0,1980.0 1903.3,1976.7 1913.3,1983.3 1930.0,1990.0 1933.3,1993.3 1930.0,2003.3 1940.0,2010.0 1953.3,2006.7 1966.7,2013.3 1970.0,2003.3 1986.7,2000.0 1993.3,2013.3 2000.0,2010.0 2003.3,1990.0 2016.7,1983.3 2026.7,1996.7 2043.3,2006.7 2046.7,2020.0 2065.0,2006.7 2053.3,1990.0 2036.7,1980.0 2030.0,1966.7 2040.0,1963.3 2036.7,1950.0 2023.3,1946.7 2023.3,1940.0 2026.7,1933.3 2036.7,1930.0 2053.3,1925.0 2073.3,1921.7 2095.0,1920.0 2111.7,1920.0 2116.7,1900.0 2120.0,1926.7 2130.0,1926.7 2153.3,1916.7 2166.7,1913.3 2183.3,1908.3 2206.7,1906.7 2226.7,1901.7 2235.0,1906.7 2243.3,1913.3 2256.7,1920.0 2270.0,1926.7 2273.3,1936.7 2278.3,1946.7 2300.0,1940.0 2320.0,1930.0 2335.0,1923.3 2333.3,1916.7 2340.0,1911.7 2360.0,1913.3 2373.3,1920.0 2383.3,1930.0 2393.3,1933.3 2410.0,1953.3 2420.0,1963.3 2433.3,1961.7 2440.0,1971.7 2446.7,1986.7 2448.3,2010.0 2445.0,2016.7 2445.0,2053.3 2451.7,2060.0 2456.7,2051.7 2456.7,2036.7 2463.3,2050.0 2471.7,2045.0 2473.3,2053.3 2466.7,2061.7 2458.3,2073.3 2456.7,2075.8 2465.8,2081.7 2466.7,2089.2 2472.5,2092.5 2475.8,2100.0 2480.8,2108.3 2488.3,2113.3 2495.8,2115.8 2495.0,2107.5 2488.3,2104.2 2498.3,2100.0 2504.2,2098.3 2505.0,2103.3 2500.0,2107.5 2502.5,2115.8 2503.3,2123.3 2508.3,2131.7 2511.7,2135.8 2517.5,2138.3 2520.0,2145.0 2523.3,2150.0 2525.0,2159.2 2532.5,2166.7 2533.3,2170.0 2543.3,2169.2 2563.3,2174.2 2565.0,2180.0 2564.2,2183.3 2568.3,2191.7 2571.7,2198.3 2573.3,2200.8 2581.7,2201.7 2589.2,2207.5 2586.7,2210.8 2580.0,2210.0 2575.0,2205.8 2572.8,2209.2 2574.2,2213.3 2577.5,2217.5 2582.5,2217.5 2588.3,2215.8 2594.2,2210.8 2605.0,2211.7 2613.3,2205.8 2620.8,2205.8 2621.7,2200.0 2625.0,2199.2 2630.0,2193.3 2628.3,2200.0 2626.7,2206.7 2621.7,2213.3 2614.2,2224.2 2619.2,2215.0 2623.3,2206.7 2624.2,2200.0 2623.3,2196.7 2625.0,2190.0 2623.3,2183.3 2623.3,2173.3 2627.5,2166.7 2628.3,2160.0 2629.2,2150.0 2628.3,2133.3 2626.7,2116.7 2624.2,2093.3 2618.3,2081.7 2610.0,2068.3 2598.3,2050.0 2596.7,2043.3 2588.3,2026.7 2575.0,1990.0 2573.3,1986.7 2563.3,1975.0 2546.7,1951.7 2530.0,1928.3 2513.3,1896.7 2501.7,1876.7 2491.7,1846.7 2493.3,1836.7 2488.3,1825.0 2495.0,1810.0 2498.3,1790.0 2505.0,1770.0 2511.7,1751.7 2520.0,1736.7 2530.0,1723.3 2540.0,1711.7 2558.3,1703.3 2573.3,1680.0 2590.0,1660.0 2595.0,1640.0 2595.0,1640.0 2605.0,1622.5 2617.5,1608.8 2647.5,1600.0 2650.0,1582.5 2652.4,1575.4 2664.3,1558.8 2684.4,1539.8 2684.4,1535.1 2716.4,1528.0 2723.5,1509.0 2717.6,1507.8 2709.3,1513.7 2705.7,1517.3 2691.5,1518.5 2689.1,1512.6 2682.0,1510.2 2682.0,1504.3 2674.9,1503.1 2669.0,1499.5 2660.7,1498.3 2656.0,1503.1 2654.8,1500.7 2659.5,1497.2 2669.0,1500.7 2678.5,1504.3 2683.2,1506.6 2690.3,1513.7 2696.3,1513.7 2703.4,1511.4 2706.9,1504.3 2705.7,1498.3 2710.5,1493.6 2706.9,1490.0 2698.6,1487.7 2685.6,1485.3 2678.5,1482.9 2676.1,1480.6 2690.3,1482.9 2701.0,1486.5 2705.7,1482.9 2708.1,1481.8 2728.2,1482.9 2734.2,1471.1 2736.5,1464.0 2744.8,1460.4 2746.0,1455.7 2742.5,1445.0 2736.5,1440.9 2728.2,1442.7 2717.6,1441.5 2709.3,1445.0 2699.8,1446.2 2689.1,1449.8 2688.0,1446.8 2698.6,1445.0 2708.1,1434.4 2717.6,1428.4 2709.3,1421.3 2724.7,1423.7 2725.9,1417.8 2718.8,1407.1 2723.5,1400.0 2720.0,1402.5 2717.5,1391.2 2711.2,1377.5 2702.5,1380.0 2702.5,1386.2 2695.0,1391.2 2691.2,1386.2 2685.0,1383.8 2690.0,1378.8 2695.0,1375.0 2692.5,1367.5 2691.2,1352.5 2685.0,1340.0 2683.8,1336.2 2683.8,1318.8 2675.0,1315.0 2667.5,1312.5 2662.5,1307.5 2650.0,1307.5 2642.5,1305.0 2637.5,1300.0 2625.0,1300.0 2623.1,1292.5 2623.8,1295.0 2630.0,1297.5 2637.5,1293.8 2642.5,1300.0 2645.0,1295.0 2650.0,1302.5 2656.2,1301.2 2667.5,1303.8 2677.5,1308.8 2675.0,1301.2 2668.8,1286.2 2661.2,1277.5 2657.5,1265.0 2656.2,1252.5 2658.8,1242.5 2656.2,1230.0 2655.0,1230.0 2661.2,1220.0 2668.8,1212.5 2665.0,1208.8 2675.0,1211.2 2672.5,1222.5 2667.5,1232.5 2666.2,1230.0 2667.5,1237.5 2668.8,1246.2 2677.5,1252.5 2672.5,1257.5 2667.5,1260.0 2667.5,1267.5 2675.0,1261.2 2680.0,1265.0 2685.0,1271.2 2680.0,1272.5 2673.8,1280.0 2673.8,1285.0 2685.0,1291.2 2690.0,1290.0 2695.0,1283.8 2700.0,1288.8 2698.8,1292.5 2702.5,1297.5 2705.0,1305.0 2712.5,1307.5 2710.0,1317.5 2705.0,1337.5 2706.2,1355.0 2711.2,1365.0 2712.5,1355.0 2715.0,1340.0 2718.8,1330.0 2722.5,1317.5 2728.8,1300.0 2736.2,1282.5 2735.0,1267.5 2733.8,1257.5 2731.2,1246.2 2725.0,1246.2 2716.2,1237.5 2710.0,1230.0 2711.2,1231.2 2700.0,1215.0 2695.0,1208.8 2707.5,1216.2 2722.5,1221.2 2733.8,1223.8 2733.8,1232.5 2738.8,1231.2 2743.8,1208.8 2752.5,1200.0 2753.8,1188.8 2760.0,1182.5 2760.0,1173.8 2759.8,1171.9 2760.9,1160.9 2759.2,1158.7 2762.0,1151.0 2761.4,1133.4 2756.5,1131.2 2752.1,1126.8 2744.4,1126.8 2745.5,1124.6 2751.0,1119.1 2752.1,1116.9 2756.5,1116.9 2760.9,1115.8 2768.6,1111.4 2777.4,1107.0 2786.2,1101.5 2793.8,1098.2 2801.5,1097.1 2804.8,1094.9 2811.4,1089.5 2820.2,1084.0 2826.8,1077.4 2833.4,1071.9 2841.1,1066.4 2846.6,1062.0 2851.5,1057.6 2847.7,1056.5 2843.3,1062.0 2835.6,1063.6 2830.1,1066.4 2826.8,1071.9 2820.2,1076.3 2818.0,1073.0 2824.6,1065.3 2826.8,1060.9 2830.1,1058.1 2826.8,1057.6 2821.3,1063.1 2815.8,1069.7 2810.3,1073.0 2802.6,1076.3 2791.6,1080.7 2786.2,1085.1 2777.4,1087.3 2769.7,1091.1 2763.1,1094.9 2762.0,1091.6 2766.4,1084.0 2777.4,1076.3 2788.4,1069.7 2796.0,1062.0 2802.6,1057.6 2811.4,1054.3 2821.3,1052.1 2822.4,1048.8 2832.3,1046.6 2843.3,1043.3 2853.2,1040.0 2860.0,1035.0 2867.5,1027.5 2870.0,1025.0 2868.8,1015.0 2875.0,1010.0 2877.5,1017.5 2882.5,1012.5 2890.0,1008.8 2900.0,1008.8 2932.5,991.2 2930.0,976.2 2921.2,968.8 2910.0,968.8 2911.2,973.8 2918.8,974.5 2924.5,980.0 2926.2,988.8 2921.2,993.0 2910.0,993.8 2898.8,998.8 2890.0,993.8 2885.0,983.8 2881.2,972.5 2875.0,967.5 2870.0,960.0 2871.2,950.0 2881.2,945.0 2882.5,940.0 2872.5,940.0 2867.5,930.0 2867.0,916.2 2870.0,910.0 2871.2,902.5 2872.5,892.5 2876.2,887.5 2877.5,877.5 2881.2,875.0 2880.0,860.0 2887.5,855.0 2895.0,857.5 2897.5,850.0 2910.0,845.0 2911.2,837.5 2922.5,836.2 2923.8,826.2 2923.8,805.0 2930.0,795.0 2931.2,805.0 2943.8,805.0 2947.5,792.5 2950.0,800.0 2955.0,803.8 2960.0,795.0 2953.8,791.2 2966.2,790.0 2967.5,780.0 2976.2,776.2 2982.5,768.8 2987.5,762.5 2997.5,761.2 3004.5,746.2 2996.2,743.8 2995.0,737.5 2988.8,728.8 2980.0,732.5 2972.5,727.5 2971.2,716.2 2967.5,711.2 2966.2,705.0 2957.5,706.2 2947.5,703.8 2946.2,695.0 2920.0,617.5 2905.0,611.2 2893.8,605.0 2888.8,612.5 2880.0,615.0 2870.0,625.0 2861.2,623.8 2857.5,612.5 2848.8,613.8 2832.5,668.8 2832.5,690.0 2828.8,702.5 2830.0,715.0 2833.8,727.5 2830.0,737.5 2822.5,752.5 2823.8,763.8 2818.8,766.2 2821.2,776.2 2812.5,772.5 2810.0,777.5 2800.0,780.0 2795.0,783.8 2796.2,800.0 2712.5,822.5 2650.0,838.8 2638.8,843.8 2620.0,865.0 2607.5,885.0 2605.0,897.5 2587.5,916.2 2590.0,920.0 2596.2,918.8 2598.8,925.0 2596.2,932.5 2600.0,942.5 2596.2,953.8 2590.0,960.0 2582.5,970.0 2572.5,975.0 2550.0,980.0 2525.0,980.0 2500.0,983.8 2500.0,986.2 2482.5,992.5 2470.0,998.8 2472.5,1010.0 2482.5,1026.2 2477.5,1033.8 2475.0,1045.0 2465.0,1052.5 2450.0,1070.0 2432.5,1083.8 2415.0,1095.0 2400.0,1103.8 2390.0,1110.0 2375.0,1122.0 2373.8,1122.5 2360.0,1137.5 2346.2,1140.0 2335.0,1143.8 2322.5,1150.0 2310.0,1147.5 2307.5,1142.5 2285.0,1138.8 2273.8,1135.0 2282.5,1115.0 2283.8,1110.0 2287.5,1097.5 2293.8,1092.5 2295.0,1083.8 2296.2,1072.5 2302.5,1068.8 2310.0,1070.0 2311.2,1060.0 2312.5,1047.5 2305.0,1027.5 2295.0,997.5 2285.0,980.0 2275.0,977.5 2257.5,990.0 2246.2,1012.5 2241.2,1012.5 2231.2,1007.5 2232.5,991.2 2240.0,988.8 2245.0,982.5 2246.2,970.0 2255.0,962.5 2254.5,950.0 2252.5,935.0 2247.5,926.2 2242.5,920.0 2246.2,912.5 2243.8,902.5 2237.5,896.2 2230.0,896.2 2217.5,891.2 2208.8,890.0 2205.0,885.0 2195.0,881.2 2185.0,880.0 2175.0,876.2 2165.0,880.0 2160.0,890.0 2161.2,897.5 2170.0,902.5 2160.0,907.5 2150.0,911.2 2150.0,935.0 2146.2,947.5 2141.2,946.2 2141.2,922.5 2138.8,920.0 2132.5,933.8 2120.0,941.2 2120.0,950.0 2113.8,955.0 2116.2,967.5 2113.8,982.5 2107.5,1002.5 2112.5,1017.5 2107.5,1027.5 2115.0,1042.5 2123.8,1062.5 2128.8,1085.0 2130.0,1100.0 2125.0,1122.0 2125.0,1122.5 2116.2,1142.5 2100.0,1157.5 2085.0,1165.0 2075.0,1163.8 2065.0,1152.5 2067.5,1152.5 2063.8,1142.5 2057.5,1132.5 2053.8,1122.5 2053.0,1112.0 2052.5,1092.5 2048.8,1080.0 2045.0,1065.0 2046.2,1050.0 2050.0,1030.0 2048.8,1020.0 2051.2,1030.0 2050.0,1007.5 2056.2,997.5 2056.2,987.5 2057.5,972.5 2061.2,955.0 2067.5,947.5 2072.5,932.5 2075.0,921.2 2071.2,921.2 2065.0,927.5 2057.5,935.0 2050.0,947.5 2040.0,962.5 2032.5,975.0 2030.0,967.5 2035.0,955.0 2046.2,942.5 2046.2,935.0 2043.8,935.0 2057.5,915.0 2060.0,906.2 2066.2,896.2 2075.0,892.5 2080.0,885.0 2088.8,885.0 2086.2,895.0 2088.8,896.2 2100.0,882.5 2102.5,875.0 2120.0,871.2 2131.2,868.8 2136.2,860.0 2155.0,865.0 2165.0,870.0 2174.5,871.2 2175.0,860.0 2185.0,861.2 2195.0,860.0 2205.0,856.2 2217.5,860.0 2231.2,860.0 2231.2,855.0 2225.0,848.8 2220.0,850.0 2217.5,856.2 2207.5,855.0 2202.5,847.5 2195.0,842.5 2188.8,827.5 2177.5,833.8 2175.0,830.0 2165.0,831.2 2155.0,830.0 2156.2,812.5 2145.0,813.8 2135.0,818.8 2117.5,822.5 2102.5,825.0 2092.5,832.5 2083.8,843.8 2080.0,842.5 2072.5,843.8 2063.8,838.8 2047.5,841.2 2032.5,821.2 2020.0,817.5 2008.8,816.2 1997.0,826.2 2000.0,810.0 2007.5,797.5 2017.5,787.5 2027.5,783.0 2022.5,779.5 2002.5,783.8 1990.0,796.2 1985.0,802.5 1975.0,812.5 1965.0,816.2 1955.0,826.2 1935.0,830.5 1922.5,840.0 1912.5,847.0 1907.5,847.5 1892.5,845.0 1885.0,848.8 1890.0,827.5 1885.0,825.0 1870.0,831.2 1855.0,838.8 1842.5,843.8 1832.5,843.8 1830.0,838.8 1845.0,826.2 1860.0,812.5 1873.8,795.0 1882.5,786.2 1895.0,775.0 1910.0,767.5 1930.0,758.8 1941.2,750.5 1932.5,750.0 1925.0,752.0 1920.0,747.5 1912.5,745.0 1895.0,746.2 1885.0,747.5 1880.0,738.0 1872.5,742.5 1863.8,750.0 1851.2,752.5 1845.0,748.8 1842.5,743.8 1831.2,740.0 1826.2,733.8 1817.5,734.5 1816.2,741.2 1811.2,740.0 1807.5,728.8 1797.5,727.5 1800.0,722.5 1790.0,719.5 1780.0,716.2 1767.5,717.5 1762.5,723.8 1748.8,725.0 1746.2,718.0 1727.5,716.2 1726.2,713.8 1720.0,713.0 1708.8,710.0 1709.2,700.0 1705.0,687.5 1702.0,671.2 1688.0,668.8 1688.0,693.2 1596.2,693.8 1510.0,691.0 1410.0,686.0 1292.5,678.5 1160.0,662.5 1060.0,650.0 960.0,634.0 860.0,614.0 767.5,594.0 725.0,582.5 647.5,562.5 564.0,539.0 480.0,514.0"/>
<polygon class="s" fill="#C00A0A" points="1957.5,756.2 1965.0,750.0 1980.0,740.0 1987.0,735.0 1982.5,742.5 1970.0,752.5 1961.2,760.0"/>
<polygon class="s" fill="#1E40B4" points="2895.0,1025.0 2905.0,1015.0 2912.5,1020.0 2898.8,1026.2"/>
<polygon class="s" fill="#1E40B4" points="2926.2,1018.8 2933.8,1012.5 2937.5,1018.8 2927.5,1021.2"/>
<polygon class="s" fill="#1E40B4" points="331.7,1510.0 343.3,1511.7 353.3,1518.3 340.0,1518.3"/>
<polygon class="s" fill="#1E40B4" points="395.0,1566.7 401.7,1570.0 408.3,1583.3 401.7,1580.0"/>
<polygon class="s" fill="#1E40B4" points="386.7,1596.7 391.7,1605.0 395.0,1613.3 390.0,1611.7"/>
<polygon class="s" fill="#E08468" points="528.7,1865.3 542.7,1858.0 557.9,1869.2 574.8,1862.5 594.5,1859.7 608.5,1865.3 622.6,1863.6 633.8,1870.9 645.1,1868.1 653.5,1885.0 664.8,1896.2 667.6,1913.1 684.4,1924.3 692.9,1938.4 706.9,1955.3 721.0,1958.1 729.4,1977.8 619.8,2171.7 628.2,2177.4 636.6,2179.0 638.3,2197.0 642.3,2215.6 653.5,2212.2 669.3,2210.0 673.2,2233.6 677.1,2256.1 678.8,2289.8 690.1,2303.9 692.9,2315.1 687.3,2329.2 676.0,2335.9 642.3,2322.4 645.1,2301.1 639.5,2289.8 642.3,2267.3 638.3,2239.2 633.8,2216.7 625.4,2194.2 614.2,2177.4 597.3,2163.3 580.4,2160.5 572.0,2143.6 555.1,2140.8 541.1,2132.4 524.2,2132.4 504.5,2127.9 493.3,2123.9 476.4,2126.8 451.1,2129.6 428.6,2135.2 406.1,2138.0 386.4,2132.4 375.2,2121.1 361.1,2121.1 344.3,2118.3 327.4,2109.9 313.3,2098.6 293.7,2093.0 271.2,2087.4 248.7,2081.8 231.8,2070.5 212.1,2059.3 195.3,2042.4 175.6,2022.7 158.7,2005.9 144.7,2003.1 164.3,2014.3 181.2,2034.0 200.9,2050.9 217.8,2062.1 234.6,2073.3 254.3,2086.3 276.8,2094.1 302.1,2103.1 327.4,2097.5 349.9,2103.1 372.4,2104.3 383.6,2111.0 406.1,2109.9 423.0,2101.5 437.0,2093.0 428.6,2087.4 425.8,2076.2 417.4,2067.7 403.3,2059.3 414.6,2048.0 420.2,2034.0 405.0,2025.5 408.9,2003.1 416.2,1994.6 416.2,1980.6 425.8,1972.1 445.5,1969.3 462.3,1964.8 468.0,1974.9 479.2,1973.8 484.8,1980.6 496.1,1977.8 497.2,1966.5 487.6,1952.5 476.4,1946.8 468.0,1932.8 473.6,1918.7 470.8,1900.7 484.8,1899.0 507.3,1906.3 524.2,1913.1 529.8,1901.8"/>
<polygon class="s" fill="#E08468" points="439.9,2152.1 451.1,2138.0 473.6,2132.4 493.3,2129.6 490.5,2143.6 473.6,2152.1 451.1,2157.7"/>
<polygon class="s" fill="#E08468" points="386.4,1990.7 397.7,1992.9 403.3,2005.9 392.1,2011.5 384.8,2000.2"/>
<polygon class="s" fill="#E08468" points="408.9,1904.7 417.4,1900.7 423.0,1913.1 425.8,1927.2 429.7,1934.5 420.2,1935.6 416.2,1924.3"/>
<polygon class="s" fill="#E08468" points="347.1,1941.2 354.4,1935.6 354.4,1948.0"/>
<polygon class="s" fill="#E08468" points="113.7,1889.5 119.4,1890.6 120.5,1907.5 110.9,1910.3"/>
<polygon class="s" fill="#E08468" points="127.8,1955.3 136.2,1955.3 136.2,1983.4 131.7,1985.1"/>
<polygon class="s" fill="#E08468" points="363.9,2129.6 375.2,2127.9 376.9,2140.8 367.9,2142.5"/>
<polygon class="s" fill="#2083E0" points="1162.4,2240.3 1173.6,2238.1 1196.1,2247.6 1221.4,2261.7 1232.7,2281.4 1241.1,2289.8 1235.5,2301.1 1215.8,2309.5 1196.1,2317.9 1184.9,2332.0 1170.8,2329.2 1162.4,2317.9 1160.7,2298.3 1151.1,2278.6 1156.7,2258.9"/>
<polygon class="s" fill="#2083E0" points="1111.8,2191.4 1123.0,2187.5 1134.3,2194.2 1148.3,2194.2 1162.4,2202.7 1164.1,2215.6 1148.3,2222.3 1131.4,2222.3 1125.8,2228.0 1111.8,2228.0 1111.8,2219.5 1120.2,2208.3 1113.5,2199.9"/>
<polygon class="s" fill="#2083E0" points="1070.7,2177.4 1086.5,2175.1 1114.6,2179.0 1115.7,2187.5 1092.1,2191.4 1075.2,2187.5"/>
<polygon class="s" fill="#2083E0" points="1088.2,2195.4 1102.2,2194.2 1109.0,2202.7 1103.3,2212.2 1092.1,2212.2 1086.5,2202.7"/>
<polygon class="s" fill="#2083E0" points="1006.6,2153.7 1030.2,2143.6 1041.5,2154.9 1052.7,2163.3 1053.9,2174.6 1035.9,2180.2 1019.0,2176.2"/>
<polygon class="s" fill="#1E40B4" points="1017.9,2172.9 1029.1,2163.3 1035.9,2166.1 1049.9,2171.7 1051.6,2177.4 1035.9,2180.2 1021.8,2177.4"/>
<polygon class="s" fill="#2083E0" points="907.7,2120.0 917.8,2111.0 934.7,2108.8 945.9,2115.5 944.8,2132.4 931.8,2139.1 917.8,2135.2"/>
<polygon class="s" fill="#2083E0" points="877.3,2135.2 889.7,2122.8 896.4,2126.8 892.5,2138.0 884.0,2144.8"/>
<polygon class="s" fill="#2083E0" points="857.6,2148.1 863.2,2146.4 864.9,2152.1 859.3,2153.7"/>
<polygon class="s" fill="#fff" points="454.2,587.5 461.7,590.0 453.3,599.2 446.7,600.8 436.7,608.3 432.5,614.2 445.0,604.2 450.0,596.7"/>
<polygon class="s" fill="#fff" points="431.7,624.2 446.7,620.0 453.3,623.3 454.2,630.0 446.7,634.2 436.7,633.3 431.7,630.0"/>
<polygon class="s" fill="#fff" points="471.7,564.2 480.0,556.7 482.5,563.3 483.3,573.3 484.2,584.2 480.0,585.8 476.7,583.3 473.3,573.3"/>
<polygon class="s" fill="#fff" points="1713.3,1990.0 1720.0,1980.0 1726.7,1981.7 1725.0,1993.3 1716.7,2001.7 1710.0,1996.7"/>
<polygon class="s" fill="#fff" points="1980.0,1936.7 1986.7,1930.0 2010.0,1930.0 2020.0,1940.0 2006.7,1946.7 1993.3,1950.0 1983.3,1948.3"/>
<polygon class="s" fill="#fff" points="2655.0,1322.5 2660.0,1325.0 2675.0,1335.0 2683.8,1336.2 2683.8,1338.8 2673.8,1337.5 2662.5,1330.0"/>
</svg>
<div class="t title" style="top:86.4px;">Tax Year 2013: Childless Earned Income Tax Credit (EITC) recipients</div>
<div class="t title" style="top:163.4px;">by congressional district</div>
<div class="t lt" style="left:2054px;top:282px;">Share of EITC filers without qualifying children</div>
<div class="t lh" style="left:2062.5px;top:359.2px;">Dem.</div>
<div class="t lh" style="left:2199.5px;top:361.7px;">Rep.</div>
<div class="sw" style="left:2062px;top:424.3px;background:#B3EEEE"></div>
<div class="sw" style="left:2062px;top:499.6px;background:#76B3E8"></div>
<div class="sw" style="left:2062px;top:574.8px;background:#2083E0"></div>
<div class="sw" style="left:2062px;top:650.1px;background:#1E40B4"></div>
<div class="sw" style="left:2062px;top:725.3px;background:#0A0A8C"></div>
<div class="sw" style="left:2199.2px;top:421.9px;background:#FFEBDA"></div>
<div class="sw" style="left:2199.2px;top:497.2px;background:#F0BC9C"></div>
<div class="sw" style="left:2199.2px;top:572.4px;background:#E08468"></div>
<div class="sw" style="left:2199.2px;top:647.7px;background:#D14A34"></div>
<div class="sw" style="left:2199.2px;top:722.9px;background:#C00A0A"></div>
<div class="t ll" style="left:2330px;top:430.6px;">15% or less</div>
<div class="t ll" style="left:2330px;top:505.9px;">15% to 20%</div>
<div class="t ll" style="left:2330px;top:581.1px;">20% to 25%</div>
<div class="t ll" style="left:2330px;top:656.4px;">25% to 30%</div>
<div class="t ll" style="left:2330px;top:731.6px;">More than 30%</div>
<div class="t src" style="left:67px;top:2437.6px;">Source: Brookings Institution analysis of IRS SPEC data</div>
</body></html>
